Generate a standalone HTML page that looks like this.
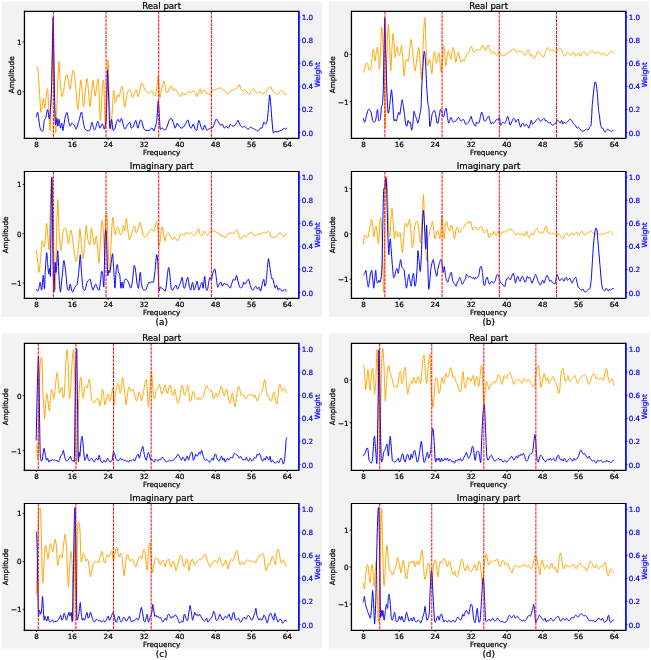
<!DOCTYPE html>
<html><head><meta charset="utf-8"><style>
html,body{margin:0;padding:0;background:#fff;}
svg{display:block;}
text{font-family:'DejaVu Sans', 'Liberation Sans', sans-serif;}
text{stroke:#000;stroke-width:0.22px;}
text.b{stroke:#0000ff;}
</style></head><body>
<svg width="651" height="660" viewBox="0 0 651 660" font-family="'DejaVu Sans', 'Liberation Sans', sans-serif">
<rect width="651" height="660" fill="#fff"/>
<g transform="translate(0,0)">
<rect x="1.5" y="1.5" width="320.40" height="315.40" fill="#f2f2f2"/>
<rect x="24.2" y="11.35" width="274.7" height="126.95000000000002" fill="#fff"/>
<clipPath id="clipa0"><rect x="24.2" y="11.35" width="274.7" height="126.95000000000002"/></clipPath>
<g clip-path="url(#clipa0)">
<path d="M36.18,66.72C36.4,66.9 37.4,66.1 37.8,68.7C38.1,71.3 39.0,83.7 39.3,88.8C39.7,93.9 40.5,111.3 40.9,112.4C41.4,113.5 42.8,98.7 43.3,98.2C43.7,97.8 44.3,109.6 44.8,108.5C45.3,107.4 47.0,86.2 47.6,88.8C48.2,91.3 49.5,130.5 50.0,130.5C50.4,130.5 51.2,99.2 51.5,88.8C51.9,78.4 52.6,39.2 52.9,41.5C53.3,43.8 54.1,97.9 54.5,108.5C54.8,119.0 55.4,137.5 55.9,132.1C56.4,126.7 58.1,67.7 58.6,62.2C59.2,56.7 60.0,80.8 60.4,84.8C60.8,88.9 61.4,95.7 61.8,96.7C62.1,97.6 62.9,94.8 63.4,92.7C63.8,90.6 64.9,81.0 65.3,78.9C65.7,76.8 66.5,74.4 66.9,74.6C67.3,74.8 68.1,79.2 68.5,80.9C68.8,82.6 69.5,90.4 70.0,89.2C70.6,88.0 72.3,72.4 72.8,70.7C73.3,68.9 74.0,71.4 74.4,74.0C74.8,76.6 75.7,88.6 76.2,92.7C76.6,96.8 77.4,110.9 77.9,109.5C78.5,108.0 80.2,81.9 80.7,79.9C81.2,78.0 81.9,89.6 82.3,92.7C82.6,95.9 83.1,108.5 83.6,106.9C84.2,105.2 86.4,79.7 87.0,78.5C87.6,77.3 88.6,93.3 89.0,96.7C89.3,100.0 89.7,108.8 90.1,106.9C90.6,105.0 92.4,82.6 92.9,80.5C93.3,78.4 93.8,86.9 94.1,88.8C94.4,90.6 94.8,97.4 95.3,96.2C95.7,95.1 97.4,80.7 97.8,79.3C98.2,78.0 98.5,80.1 98.8,84.8C99.1,89.6 99.9,120.6 100.4,120.3C100.8,120.0 102.3,86.6 102.7,82.5C103.2,78.3 103.6,79.5 103.9,84.8C104.2,90.2 105.0,131.0 105.5,128.2C106.0,125.3 107.4,64.8 107.9,60.2C108.3,55.6 108.7,80.6 109.0,88.8C109.4,96.9 110.3,127.4 110.6,130.1C111.0,132.9 111.8,117.0 112.2,112.4C112.5,107.8 113.2,91.5 113.6,90.3C113.9,89.2 115.0,101.5 115.3,102.6C115.7,103.6 116.3,100.5 116.5,99.6C116.8,98.7 117.4,95.0 117.7,94.7C118.0,94.3 118.8,97.6 119.3,96.7C119.7,95.7 121.0,87.7 121.5,86.8C121.9,85.9 122.5,86.4 122.8,88.8C123.2,91.2 124.1,107.0 124.6,107.5C125.1,107.9 126.7,94.8 127.4,92.7C128.0,90.6 129.3,89.2 129.9,89.8C130.5,90.3 131.8,97.1 132.3,97.6C132.7,98.2 133.4,95.6 133.9,94.7C134.3,93.8 135.7,89.5 136.2,89.8C136.7,90.0 137.6,97.4 138.2,96.7C138.8,95.9 140.7,84.4 141.3,83.3C142.0,82.1 143.1,85.8 143.7,86.8C144.3,87.8 145.7,91.0 146.5,91.7C147.2,92.4 149.3,92.8 149.9,92.7C150.6,92.6 151.5,90.5 151.9,90.7C152.3,91.0 153.1,94.1 153.5,94.7C153.9,95.3 155.1,96.6 155.4,95.7C155.8,94.7 156.5,89.1 156.8,86.8C157.2,84.5 157.9,75.3 158.2,76.0C158.5,76.7 159.2,90.2 159.4,92.7C159.6,95.2 159.9,98.2 160.2,97.6C160.5,97.1 161.3,89.7 161.8,87.8C162.2,85.8 163.7,80.5 164.1,80.9C164.6,81.2 165.3,89.4 165.7,90.7C166.1,92.1 166.9,92.9 167.3,92.7C167.7,92.5 168.8,89.6 169.2,88.8C169.7,88.0 170.8,85.6 171.2,85.8C171.7,86.0 172.7,90.4 173.2,90.7C173.6,91.1 174.7,88.7 175.2,88.8C175.6,88.9 176.7,91.2 177.1,91.7C177.5,92.3 178.3,93.1 178.7,93.7C179.1,94.3 180.2,96.8 180.7,96.7C181.1,96.5 182.1,92.9 182.4,92.7C182.8,92.5 183.4,94.6 183.8,94.7C184.3,94.8 185.8,94.0 186.4,93.7C187.0,93.3 188.4,91.8 188.9,91.7C189.5,91.6 190.4,92.8 190.9,92.7C191.4,92.6 192.8,90.7 193.3,90.7C193.8,90.7 194.8,92.0 195.2,92.7C195.6,93.4 196.4,96.7 196.8,96.7C197.2,96.7 198.0,93.6 198.4,92.7C198.8,91.8 199.8,88.7 200.2,88.8C200.5,88.9 201.2,93.5 201.5,93.7C201.9,93.9 202.8,91.2 203.1,90.7C203.4,90.3 203.9,89.5 204.3,89.8C204.6,90.0 205.6,92.3 206.1,92.7C206.5,93.2 207.7,93.5 208.2,93.7C208.8,93.9 210.5,95.1 211.0,94.7C211.5,94.2 212.1,90.3 212.6,89.8C213.0,89.2 214.4,89.9 214.9,89.8C215.5,89.6 216.6,89.0 217.3,88.8C217.9,88.5 219.8,87.7 220.4,87.8C221.1,87.9 222.3,89.4 222.8,89.8C223.3,90.1 224.3,90.3 224.8,90.7C225.2,91.2 226.3,93.5 226.7,93.7C227.2,93.9 228.2,93.1 228.7,92.7C229.2,92.4 230.5,91.1 231.1,90.7C231.6,90.4 233.1,90.0 233.6,89.8C234.2,89.5 235.1,89.0 235.6,88.8C236.1,88.5 237.1,88.3 237.6,87.8C238.0,87.3 238.9,84.3 239.3,84.4C239.7,84.6 240.5,88.0 240.9,88.8C241.3,89.5 242.4,90.6 242.9,90.7C243.3,90.9 244.3,89.5 244.9,89.8C245.4,90.0 246.9,92.1 247.4,92.7C247.9,93.3 248.9,94.9 249.4,94.7C249.8,94.5 250.9,91.4 251.4,90.7C251.8,90.1 252.9,88.7 253.3,88.8C253.8,88.9 254.8,91.2 255.3,91.7C255.7,92.2 256.7,93.1 257.3,93.1C257.8,93.1 259.2,91.7 259.8,91.7C260.4,91.8 261.7,93.6 262.2,93.7C262.7,93.8 263.7,92.9 264.2,92.7C264.6,92.5 265.7,92.2 266.1,91.7C266.6,91.3 267.6,89.4 268.1,88.8C268.6,88.1 270.0,86.3 270.5,86.4C270.9,86.5 271.7,89.1 272.1,89.8C272.5,90.4 273.4,91.3 273.9,91.7C274.3,92.2 275.4,93.4 275.9,93.7C276.3,94.1 277.4,94.8 277.8,94.7C278.2,94.6 279.0,93.2 279.4,92.7C279.8,92.2 280.9,90.5 281.4,90.4C281.8,90.2 282.5,91.2 282.9,91.7C283.4,92.2 284.5,94.5 284.9,94.7C285.3,94.9 286.3,93.3 286.5,93.1" fill="none" stroke="#ffa500" stroke-width="1.0" stroke-linejoin="round"/>
<path d="M36.18,117.33C36.4,116.8 37.3,111.4 37.8,112.4C38.2,113.4 39.3,124.1 39.7,126.2C40.1,128.3 40.7,130.0 41.1,130.5C41.5,131.0 42.7,131.7 43.1,130.5C43.4,129.3 44.0,121.7 44.2,120.3C44.5,118.9 45.2,119.6 45.6,118.3C46.0,117.0 47.1,109.4 47.6,109.5C48.1,109.5 49.1,121.1 49.6,118.7C50.0,116.3 51.1,100.6 51.5,88.8C52.0,76.9 52.8,16.4 53.1,16.9C53.5,17.3 54.2,80.2 54.5,92.7C54.8,105.2 55.2,121.2 55.5,124.2C55.8,127.2 56.8,118.1 57.0,118.3C57.3,118.5 57.6,126.1 57.8,126.2C58.1,126.3 58.7,119.1 59.0,119.3C59.3,119.5 60.1,127.7 60.4,128.2C60.7,128.6 61.5,123.0 61.8,123.2C62.1,123.5 62.6,131.1 63.0,130.5C63.3,129.9 64.5,120.4 64.9,118.3C65.4,116.2 66.4,111.9 66.9,112.4C67.4,112.9 68.5,120.6 68.9,122.2C69.3,123.9 69.9,126.1 70.2,126.2C70.6,126.3 71.2,123.5 71.6,123.2C72.0,123.0 73.2,123.9 73.6,124.2C74.0,124.6 74.5,125.6 74.8,126.2C75.1,126.8 75.7,129.8 76.2,129.1C76.7,128.5 78.5,122.3 79.1,120.3C79.7,118.3 81.0,112.0 81.5,112.0C81.9,112.0 82.7,118.4 83.0,120.3C83.4,122.2 84.2,127.0 84.6,128.2C85.1,129.4 86.4,130.3 87.0,130.5C87.6,130.7 89.4,131.1 89.9,130.1C90.5,129.2 91.5,122.4 91.9,122.2C92.4,122.1 93.5,128.3 93.9,129.1C94.3,129.9 94.8,130.1 95.3,129.1C95.7,128.2 97.3,121.4 97.8,121.3C98.3,121.1 99.3,127.9 99.8,128.2C100.3,128.5 101.8,123.7 102.3,123.8C102.9,123.9 103.9,129.9 104.3,129.1C104.8,128.4 105.9,124.2 106.3,117.3C106.7,110.4 107.2,72.2 107.5,70.1C107.7,67.9 108.4,91.8 108.7,98.6C108.9,105.4 109.5,125.7 109.8,128.2C110.2,130.6 111.2,119.1 111.6,119.3C112.0,119.5 112.6,129.1 113.0,130.1C113.4,131.2 114.5,129.1 115.0,128.2C115.4,127.2 116.2,123.3 116.5,122.2C116.9,121.2 117.7,119.3 118.1,119.3C118.5,119.3 119.3,122.4 119.7,122.2C120.1,122.1 121.0,118.0 121.5,118.3C121.9,118.7 123.0,123.9 123.4,125.2C123.8,126.5 124.3,129.1 124.8,129.1C125.3,129.1 126.8,126.0 127.4,125.2C128.0,124.4 129.5,121.9 129.9,122.2C130.4,122.6 130.9,127.7 131.3,128.2C131.7,128.6 132.7,127.1 133.3,126.2C133.8,125.3 135.3,120.1 135.8,120.3C136.3,120.5 137.3,128.2 137.8,128.2C138.3,128.2 139.7,121.1 140.2,120.3C140.6,119.5 141.3,120.3 141.7,121.3C142.1,122.2 143.2,127.1 143.7,128.2C144.2,129.2 145.3,130.3 146.1,130.5C146.8,130.7 149.3,130.5 149.9,130.1C150.6,129.8 151.5,127.6 151.9,127.8C152.4,127.9 153.5,131.3 153.9,131.1C154.3,130.9 155.1,127.5 155.4,126.2C155.8,124.9 156.5,123.2 156.8,120.3C157.2,117.3 157.9,101.4 158.2,101.0C158.5,100.5 159.2,113.1 159.4,116.3C159.6,119.6 159.9,127.8 160.2,129.1C160.5,130.5 161.3,127.8 161.8,127.8C162.2,127.8 163.3,128.9 163.7,129.1C164.1,129.4 164.9,130.5 165.3,130.1C165.7,129.8 166.8,127.3 167.3,126.2C167.7,125.0 168.8,121.2 169.2,120.3C169.7,119.4 170.8,118.1 171.2,118.3C171.7,118.5 172.7,121.1 173.2,122.2C173.6,123.4 174.7,128.0 175.2,128.2C175.6,128.3 176.7,123.5 177.1,123.2C177.6,123.0 178.6,125.6 179.1,126.2C179.5,126.8 180.5,128.0 181.1,128.2C181.6,128.3 182.9,127.6 183.4,127.2C183.9,126.7 184.9,125.1 185.4,124.2C185.9,123.4 187.2,119.7 187.8,119.9C188.3,120.1 189.3,125.2 189.7,126.2C190.1,127.2 190.9,128.4 191.3,128.2C191.7,127.9 192.8,124.1 193.3,124.2C193.7,124.3 194.8,128.5 195.2,129.1C195.6,129.8 196.4,131.2 196.8,130.1C197.2,129.1 198.3,120.7 198.8,120.3C199.2,119.8 200.3,125.0 200.8,126.2C201.2,127.3 202.3,130.2 202.7,130.1C203.2,130.0 204.2,125.2 204.7,125.2C205.1,125.2 206.2,129.7 206.7,130.1C207.1,130.6 208.2,129.4 208.6,129.1C209.1,128.9 210.1,128.4 210.6,128.2C211.1,127.9 212.5,127.9 213.0,127.2C213.5,126.5 214.5,123.2 214.9,122.2C215.3,121.3 216.1,118.9 216.5,118.9C216.9,118.9 218.0,121.5 218.5,122.2C218.9,123.0 220.0,125.0 220.4,125.2C220.9,125.4 222.0,123.9 222.4,124.2C222.9,124.6 223.9,127.9 224.4,128.2C224.8,128.4 225.9,126.2 226.3,126.2C226.8,126.2 227.9,128.4 228.3,128.2C228.8,127.9 229.8,124.4 230.3,124.2C230.8,124.0 232.1,126.1 232.7,126.2C233.2,126.3 234.5,125.7 235.0,125.2C235.5,124.7 236.6,122.8 237.0,122.2C237.3,121.7 237.8,119.9 238.2,120.3C238.5,120.6 239.6,124.4 240.1,125.2C240.6,126.0 242.0,127.1 242.5,127.2C243.0,127.3 244.0,126.1 244.5,126.2C244.9,126.3 246.0,127.8 246.4,128.2C246.9,128.5 247.9,129.3 248.4,129.1C248.9,129.0 249.9,127.3 250.4,127.2C250.8,127.1 251.9,127.9 252.3,128.2C252.8,128.4 253.9,128.9 254.3,129.1C254.8,129.4 255.8,129.9 256.3,130.1C256.7,130.4 257.8,131.3 258.2,131.1C258.7,130.9 259.8,128.6 260.2,128.2C260.7,127.8 261.8,128.4 262.2,127.8C262.6,127.1 263.3,122.7 263.8,122.2C264.2,121.8 265.3,124.3 265.7,124.2C266.1,124.1 266.8,122.6 267.1,121.3C267.4,119.9 267.8,115.5 268.1,112.4C268.4,109.3 269.3,95.5 269.7,95.1C270.0,94.6 270.7,104.1 271.1,108.5C271.4,112.8 272.6,129.5 273.1,132.1C273.6,134.8 274.6,131.1 275.1,131.1C275.5,131.1 276.6,132.1 277.0,132.1C277.5,132.1 278.5,131.3 279.0,131.1C279.5,130.9 280.5,130.7 281.0,130.5C281.4,130.3 282.5,129.6 282.9,129.4C283.3,129.1 284.0,128.2 284.3,128.2C284.6,128.2 285.4,129.2 285.7,129.2C286.0,129.1 286.7,127.9 286.9,127.8" fill="none" stroke="#0000ff" stroke-width="1.0" stroke-linejoin="round"/>
<line x1="53.34" y1="11.35" x2="53.34" y2="138.3" stroke="#ff0000" stroke-width="1.0" stroke-dasharray="3,0.95"/>
<line x1="106.02" y1="11.35" x2="106.02" y2="138.3" stroke="#ff0000" stroke-width="1.0" stroke-dasharray="3,0.95"/>
<line x1="158.70" y1="11.35" x2="158.70" y2="138.3" stroke="#ff0000" stroke-width="1.0" stroke-dasharray="3,0.95"/>
<line x1="211.38" y1="11.35" x2="211.38" y2="138.3" stroke="#ff0000" stroke-width="1.0" stroke-dasharray="3,0.95"/>
</g>
<line x1="298.9" y1="11.35" x2="24.0" y2="11.35" stroke="#000" stroke-width="1.1"/>
<line x1="24.45" y1="10.799999999999999" x2="24.45" y2="139.10000000000002" stroke="#000" stroke-width="1.3"/>
<line x1="23.8" y1="138.45000000000002" x2="298.9" y2="138.45000000000002" stroke="#000" stroke-width="1.3"/>
<line x1="298.9" y1="10.85" x2="298.9" y2="138.8" stroke="#0000ff" stroke-width="1.7"/>
<line x1="36.50" y1="138.3" x2="36.50" y2="140.0" stroke="#000" stroke-width="0.8"/>
<text x="36.50" y="146.80" font-size="7.2" text-anchor="middle">8</text>
<line x1="72.34" y1="138.3" x2="72.34" y2="140.0" stroke="#000" stroke-width="0.8"/>
<text x="72.34" y="146.80" font-size="7.2" text-anchor="middle">16</text>
<line x1="108.17" y1="138.3" x2="108.17" y2="140.0" stroke="#000" stroke-width="0.8"/>
<text x="108.17" y="146.80" font-size="7.2" text-anchor="middle">24</text>
<line x1="144.01" y1="138.3" x2="144.01" y2="140.0" stroke="#000" stroke-width="0.8"/>
<text x="144.01" y="146.80" font-size="7.2" text-anchor="middle">32</text>
<line x1="179.84" y1="138.3" x2="179.84" y2="140.0" stroke="#000" stroke-width="0.8"/>
<text x="179.84" y="146.80" font-size="7.2" text-anchor="middle">40</text>
<line x1="215.68" y1="138.3" x2="215.68" y2="140.0" stroke="#000" stroke-width="0.8"/>
<text x="215.68" y="146.80" font-size="7.2" text-anchor="middle">48</text>
<line x1="251.51" y1="138.3" x2="251.51" y2="140.0" stroke="#000" stroke-width="0.8"/>
<text x="251.51" y="146.80" font-size="7.2" text-anchor="middle">56</text>
<line x1="287.35" y1="138.3" x2="287.35" y2="140.0" stroke="#000" stroke-width="0.8"/>
<text x="287.35" y="146.80" font-size="7.2" text-anchor="middle">64</text>
<text x="161.6" y="154.80" font-size="7.2" text-anchor="middle">Frequency</text>
<text x="161.6" y="8.65" font-size="8.6" text-anchor="middle">Real part</text>
<line x1="22.599999999999998" y1="41.90" x2="24.2" y2="41.90" stroke="#000" stroke-width="0.8"/>
<text x="21.599999999999998" y="44.80" font-size="7.2" text-anchor="end">1</text>
<line x1="22.599999999999998" y1="91.70" x2="24.2" y2="91.70" stroke="#000" stroke-width="0.8"/>
<text x="21.599999999999998" y="94.60" font-size="7.2" text-anchor="end">0</text>
<text transform="translate(14.2,74.83) rotate(-90)" font-size="7.2" text-anchor="middle">Amplitude</text>
<line x1="298.9" y1="132.53" x2="300.5" y2="132.53" stroke="#0000ff" stroke-width="0.8"/>
<text x="301.7" y="135.53" font-size="7.2" fill="#0000ff" class="b">0.0</text>
<line x1="298.9" y1="109.45" x2="300.5" y2="109.45" stroke="#0000ff" stroke-width="0.8"/>
<text x="301.7" y="112.45" font-size="7.2" fill="#0000ff" class="b">0.2</text>
<line x1="298.9" y1="86.37" x2="300.5" y2="86.37" stroke="#0000ff" stroke-width="0.8"/>
<text x="301.7" y="89.37" font-size="7.2" fill="#0000ff" class="b">0.4</text>
<line x1="298.9" y1="63.28" x2="300.5" y2="63.28" stroke="#0000ff" stroke-width="0.8"/>
<text x="301.7" y="66.28" font-size="7.2" fill="#0000ff" class="b">0.6</text>
<line x1="298.9" y1="40.20" x2="300.5" y2="40.20" stroke="#0000ff" stroke-width="0.8"/>
<text x="301.7" y="43.20" font-size="7.2" fill="#0000ff" class="b">0.8</text>
<line x1="298.9" y1="17.12" x2="300.5" y2="17.12" stroke="#0000ff" stroke-width="0.8"/>
<text x="301.7" y="20.12" font-size="7.2" fill="#0000ff" class="b">1.0</text>
<text transform="translate(319.9,74.83) rotate(-90)" font-size="7.2" text-anchor="middle" fill="#0000ff" class="b">Weight</text>
<rect x="24.2" y="171.5" width="274.7" height="126.80000000000001" fill="#fff"/>
<clipPath id="clipa1"><rect x="24.2" y="171.5" width="274.7" height="126.80000000000001"/></clipPath>
<g clip-path="url(#clipa1)">
<path d="M36.18,249.76C36.4,251.3 37.4,259.9 37.8,262.6C38.1,265.2 38.8,273.1 39.1,272.4C39.5,271.7 40.4,260.3 40.7,256.6C41.1,253.0 41.7,242.0 42.1,240.9C42.4,239.7 43.3,246.3 43.7,246.8C44.0,247.3 44.5,247.6 44.8,244.8C45.2,242.1 46.3,223.9 46.6,223.2C47.0,222.5 47.7,235.9 48.0,238.9C48.3,241.9 48.9,253.4 49.2,248.8C49.5,244.2 50.3,207.8 50.5,199.5C50.8,191.3 51.3,179.0 51.5,177.9C51.8,176.7 52.3,183.7 52.5,189.7C52.7,195.7 53.3,218.5 53.5,229.1C53.7,239.6 54.3,273.4 54.5,280.3C54.7,287.2 55.2,294.1 55.5,288.2C55.7,282.2 56.4,239.4 56.7,229.1C56.9,218.7 57.6,199.5 57.8,199.5C58.1,199.5 58.7,223.3 59.0,229.1C59.3,234.8 60.1,246.5 60.4,248.8C60.7,251.1 61.1,250.8 61.4,248.8C61.7,246.7 62.5,233.5 63.0,231.1C63.4,228.6 64.5,228.1 64.9,228.1C65.3,228.1 66.1,229.2 66.5,231.1C66.9,232.9 68.1,243.2 68.5,243.8C68.8,244.5 69.3,238.6 69.7,237.0C70.0,235.4 70.9,229.6 71.2,230.1C71.6,230.5 72.4,238.2 72.8,240.9C73.2,243.5 74.0,250.3 74.4,252.7C74.8,255.1 75.7,261.6 76.2,261.6C76.6,261.6 77.5,256.5 77.9,252.7C78.4,248.9 79.5,229.4 79.9,228.7C80.3,228.0 81.1,243.3 81.5,246.8C81.8,250.3 82.6,259.5 83.0,258.6C83.5,257.7 84.7,242.8 85.0,238.9C85.4,235.1 85.9,225.5 86.2,225.5C86.5,225.5 87.3,236.7 87.8,238.9C88.2,241.2 89.5,246.1 89.9,244.8C90.4,243.6 91.0,229.0 91.3,228.1C91.7,227.2 92.5,235.0 92.9,237.0C93.3,238.9 94.1,244.9 94.5,244.8C94.9,244.7 96.0,235.1 96.4,236.0C96.9,236.9 97.7,249.6 98.0,252.7C98.3,255.8 98.9,263.9 99.2,262.6C99.5,261.2 100.1,245.8 100.4,240.9C100.7,236.0 101.4,222.2 101.8,220.8C102.1,219.4 102.8,225.1 103.1,229.1C103.5,233.0 104.4,256.1 104.7,254.7C105.0,253.3 105.6,221.9 105.9,217.3C106.2,212.7 106.8,211.6 107.1,215.3C107.3,219.0 108.0,242.1 108.2,248.8C108.5,255.4 109.3,272.9 109.6,272.4C110.0,271.9 110.7,251.3 111.0,244.8C111.4,238.4 112.2,219.1 112.6,217.3C113.0,215.4 113.8,227.0 114.2,229.1C114.5,231.1 115.1,235.1 115.3,235.0C115.6,234.9 116.2,229.0 116.5,228.1C116.9,227.2 117.8,226.8 118.1,227.1C118.4,227.5 119.0,230.1 119.3,231.1C119.6,232.0 120.1,234.8 120.5,235.0C120.8,235.2 121.7,234.2 122.0,233.0C122.4,231.9 123.1,225.4 123.4,225.1C123.7,224.9 124.5,231.9 124.8,231.1C125.1,230.2 126.0,218.2 126.4,218.2C126.7,218.2 127.6,228.5 128.0,231.1C128.3,233.6 128.9,239.5 129.3,239.9C129.7,240.4 130.8,236.4 131.3,235.0C131.7,233.6 132.9,229.1 133.3,228.1C133.7,227.1 134.3,225.5 134.6,226.1C135.0,226.7 135.8,232.7 136.2,233.0C136.6,233.4 137.7,230.3 138.2,229.1C138.6,227.8 139.7,222.3 140.2,222.2C140.6,222.1 141.4,226.6 141.7,228.1C142.1,229.6 142.7,234.0 143.1,235.0C143.5,236.0 144.6,237.0 145.1,237.0C145.5,237.0 146.6,235.6 147.1,235.0C147.5,234.4 148.7,232.7 149.2,232.0C149.6,231.3 150.4,229.3 150.7,229.1C151.1,228.9 151.9,229.8 152.3,230.1C152.7,230.3 153.6,231.4 153.9,231.1C154.2,230.7 154.7,228.2 155.1,227.1C155.4,226.0 156.3,221.4 156.6,221.6C157.0,221.8 157.5,226.3 157.8,229.1C158.1,231.9 158.7,244.4 159.0,245.8C159.3,247.2 159.9,242.8 160.2,240.9C160.5,238.9 161.1,230.7 161.4,229.1C161.6,227.5 162.3,226.4 162.5,227.1C162.8,227.8 163.4,233.4 163.7,235.0C164.0,236.6 164.6,240.9 164.9,240.9C165.2,240.9 166.1,235.9 166.5,235.0C166.8,234.1 167.7,233.0 168.1,233.0C168.4,233.0 169.3,234.4 169.6,235.0C170.0,235.6 170.8,237.4 171.2,237.9C171.6,238.5 172.4,240.0 172.8,239.9C173.1,239.8 174.0,237.1 174.4,237.0C174.7,236.8 175.6,238.5 175.9,238.9C176.3,239.4 177.1,241.0 177.5,240.9C177.9,240.8 178.7,238.7 179.1,237.9C179.4,237.1 180.3,234.3 180.7,234.0C181.1,233.7 182.0,234.9 182.4,235.0C182.8,235.1 183.8,235.2 184.2,235.0C184.6,234.8 185.4,233.2 185.8,233.0C186.1,232.8 187.0,232.9 187.3,233.0C187.7,233.1 188.6,234.0 188.9,234.0C189.3,234.0 190.1,232.6 190.5,232.6C190.9,232.6 191.8,233.6 192.3,234.0C192.7,234.4 193.8,236.0 194.2,236.0C194.7,236.0 195.8,234.7 196.2,234.0C196.6,233.3 197.3,230.7 197.6,230.1C197.9,229.4 198.5,228.2 198.8,228.7C199.1,229.1 199.6,233.1 200.0,234.0C200.3,234.9 201.2,236.1 201.5,236.0C201.9,235.9 202.8,233.6 203.1,233.0C203.4,232.4 204.0,231.1 204.3,231.1C204.6,231.0 205.1,232.1 205.5,232.6C205.8,233.1 206.6,235.3 207.1,235.4C207.5,235.4 208.6,233.6 209.0,233.0C209.5,232.4 210.6,230.4 211.0,230.1C211.4,229.7 212.2,229.9 212.6,230.1C212.9,230.2 213.7,230.8 214.1,231.1C214.6,231.3 215.7,231.8 216.1,232.0C216.6,232.3 217.6,232.7 218.1,233.0C218.5,233.4 219.6,234.6 220.0,235.0C220.5,235.3 221.6,235.9 222.0,236.0C222.5,236.1 223.6,235.7 224.0,236.0C224.4,236.2 225.2,238.1 225.6,237.9C225.9,237.8 226.8,235.5 227.1,235.0C227.5,234.5 228.3,233.6 228.7,233.4C229.1,233.2 230.2,233.0 230.7,233.0C231.1,233.0 232.2,233.4 232.7,233.4C233.1,233.4 233.9,233.3 234.2,233.0C234.6,232.7 235.3,231.4 235.6,231.1C235.9,230.7 236.7,229.8 237.0,230.1C237.3,230.3 237.8,232.1 238.2,233.0C238.5,233.9 239.4,237.3 239.7,237.9C240.1,238.6 241.0,239.1 241.3,238.9C241.6,238.7 242.2,236.4 242.5,236.0C242.8,235.5 243.7,234.9 244.1,235.0C244.5,235.1 245.6,237.1 246.0,237.0C246.5,236.8 247.6,234.5 248.0,234.0C248.5,233.5 249.6,233.2 250.0,233.0C250.4,232.8 251.2,231.8 251.6,232.0C251.9,232.3 253.0,234.5 253.3,235.0C253.7,235.4 254.4,236.0 254.7,236.0C255.0,236.0 255.9,235.2 256.3,235.0C256.7,234.8 257.8,234.1 258.2,234.0C258.7,233.9 259.8,234.1 260.2,234.0C260.7,233.9 261.7,233.6 262.2,233.4C262.6,233.2 263.7,232.1 264.2,232.0C264.6,232.0 265.7,233.1 266.1,233.0C266.6,232.9 267.7,231.1 268.1,231.1C268.5,231.1 269.3,232.3 269.7,233.0C270.0,233.7 270.6,236.5 271.1,237.0C271.5,237.5 273.0,237.4 273.5,237.4C273.9,237.4 274.7,237.1 275.1,237.0C275.4,236.9 276.2,236.9 276.6,236.6C277.0,236.2 278.0,234.5 278.4,234.0C278.8,233.6 279.6,232.6 280.0,232.6C280.3,232.6 281.0,233.6 281.4,234.0C281.7,234.5 282.6,236.3 282.9,236.6C283.3,236.8 284.0,236.3 284.3,236.0C284.6,235.7 285.4,234.4 285.7,234.0C286.0,233.7 286.7,233.1 286.9,233.0" fill="none" stroke="#ffa500" stroke-width="1.0" stroke-linejoin="round"/>
<path d="M36.18,289.14C36.4,289.4 37.5,291.1 37.8,291.1C38.0,291.1 38.5,290.2 38.7,289.1C39.0,288.1 39.8,282.1 40.1,282.2C40.5,282.4 41.3,290.9 41.7,290.1C42.1,289.3 42.9,275.5 43.3,275.4C43.6,275.2 44.2,289.5 44.5,289.1C44.7,288.8 45.0,276.7 45.2,272.4C45.5,268.1 46.3,253.9 46.6,252.7C46.9,251.6 47.4,260.1 47.6,262.6C47.8,265.0 48.4,273.3 48.6,274.0C48.8,274.7 49.3,268.4 49.6,268.5C49.8,268.5 50.4,281.3 50.5,274.4C50.7,267.5 51.0,220.6 51.1,209.4C51.3,198.1 51.7,172.8 51.9,177.9C52.1,182.9 52.7,239.4 52.9,252.7C53.1,266.0 53.6,291.0 53.9,292.1C54.2,293.2 54.9,264.9 55.1,262.6C55.3,260.3 55.7,271.9 55.9,272.4C56.1,272.9 56.4,269.0 56.7,266.5C56.9,264.0 57.6,249.6 57.8,250.7C58.1,251.9 58.7,271.5 59.0,276.3C59.3,281.2 60.1,291.2 60.4,292.1C60.7,293.0 61.1,286.5 61.4,284.2C61.6,281.9 62.3,275.2 62.6,272.4C62.8,269.6 63.4,261.0 63.8,260.6C64.1,260.1 64.9,265.2 65.3,268.5C65.7,271.7 66.9,285.6 67.3,288.2C67.7,290.7 68.5,290.6 68.9,290.1C69.2,289.7 69.9,284.2 70.2,284.2C70.6,284.2 71.3,289.2 71.6,290.1C71.9,291.0 72.5,292.3 72.8,292.1C73.1,291.9 74.1,288.8 74.4,288.2C74.7,287.5 75.2,286.6 75.6,286.2C75.9,285.7 76.8,285.8 77.1,284.2C77.5,282.6 78.4,275.8 78.7,272.4C79.1,269.0 80.0,254.7 80.3,254.7C80.6,254.7 81.1,268.5 81.5,272.4C81.8,276.3 82.6,286.1 83.0,288.2C83.5,290.2 84.6,290.8 85.0,290.1C85.5,289.4 86.6,283.4 87.0,282.2C87.4,281.1 88.2,280.6 88.6,280.3C88.9,279.9 89.8,278.8 90.1,279.3C90.5,279.7 91.0,283.0 91.3,284.2C91.6,285.5 92.5,289.9 92.9,290.1C93.3,290.4 94.1,286.9 94.5,286.2C94.8,285.5 95.5,283.9 95.8,284.2C96.2,284.6 97.4,288.5 97.8,289.1C98.2,289.8 98.9,290.9 99.2,290.1C99.5,289.3 100.1,284.4 100.4,282.2C100.7,280.1 101.3,272.3 101.6,271.4C101.8,270.5 102.5,272.6 102.7,274.4C103.0,276.1 103.6,290.8 103.9,286.2C104.2,281.6 104.8,241.2 105.1,235.0C105.4,228.8 106.0,228.4 106.3,233.0C106.6,237.6 107.4,270.0 107.7,274.4C107.9,278.7 108.4,270.7 108.7,270.4C108.9,270.2 109.6,273.1 109.8,272.4C110.1,271.7 110.7,266.7 111.0,264.5C111.3,262.3 112.3,253.0 112.6,253.7C112.9,254.4 113.5,266.4 113.8,270.4C114.0,274.5 114.7,288.2 115.0,288.2C115.2,288.2 115.9,273.2 116.1,270.4C116.4,267.7 117.0,264.3 117.3,264.5C117.6,264.8 118.2,271.3 118.5,272.4C118.8,273.5 119.4,272.5 119.7,274.4C120.0,276.2 120.6,287.2 120.9,288.2C121.1,289.1 121.8,282.2 122.0,282.2C122.3,282.2 122.9,288.4 123.2,288.2C123.5,287.9 124.1,281.3 124.4,280.3C124.7,279.2 125.6,279.3 126.0,279.3C126.3,279.3 127.2,279.7 127.5,280.3C127.9,280.9 128.8,283.3 129.1,284.2C129.5,285.1 130.3,288.4 130.7,288.2C131.1,287.9 131.9,284.9 132.3,282.2C132.7,279.6 133.8,266.7 134.2,265.5C134.7,264.4 135.5,270.3 135.8,272.4C136.1,274.5 136.7,281.4 137.0,283.2C137.3,285.1 138.2,289.4 138.6,288.2C138.9,286.9 139.8,273.1 140.2,272.4C140.5,271.7 141.1,280.4 141.3,282.2C141.6,284.1 142.2,287.2 142.5,288.2C142.8,289.1 143.7,290.0 144.1,290.1C144.5,290.2 145.5,290.1 146.1,289.1C146.6,288.2 148.3,282.9 148.8,282.2C149.3,281.6 150.0,283.3 150.3,283.2C150.7,283.1 151.5,281.4 151.9,281.3C152.3,281.1 153.1,283.5 153.5,282.2C153.8,281.0 154.7,273.6 155.1,270.4C155.4,267.2 156.3,255.6 156.6,254.7C157.0,253.8 157.5,258.4 157.8,262.6C158.1,266.7 158.7,287.3 159.0,290.1C159.3,293.0 159.9,287.4 160.2,287.2C160.5,286.9 161.4,287.9 161.8,288.2C162.1,288.4 162.9,288.8 163.3,289.1C163.7,289.5 164.9,291.7 165.3,291.1C165.7,290.5 166.2,286.4 166.5,284.2C166.8,282.0 167.4,274.4 167.7,272.4C167.9,270.4 168.6,267.0 168.8,267.5C169.1,267.9 169.8,273.9 170.0,276.3C170.3,278.8 170.9,286.6 171.2,288.2C171.5,289.8 172.4,290.2 172.8,290.1C173.1,290.0 174.0,287.7 174.4,287.2C174.7,286.6 175.6,285.0 175.9,285.2C176.3,285.4 177.1,289.0 177.5,289.1C177.9,289.3 178.7,287.0 179.1,286.2C179.4,285.4 180.3,283.3 180.7,282.2C181.0,281.2 181.9,276.9 182.2,277.3C182.6,277.8 183.1,284.9 183.4,286.2C183.7,287.5 184.3,288.6 184.6,288.2C184.9,287.7 185.8,283.5 186.2,282.2C186.5,281.0 187.4,276.9 187.8,277.3C188.1,277.8 189.0,284.7 189.3,286.2C189.7,287.7 190.5,290.6 190.9,290.1C191.3,289.7 192.1,282.2 192.5,282.2C192.8,282.2 193.7,289.7 194.1,290.1C194.4,290.6 195.3,287.2 195.6,286.2C196.0,285.2 196.8,280.8 197.2,281.3C197.6,281.7 198.4,289.6 198.8,290.1C199.1,290.7 200.0,287.1 200.3,286.2C200.7,285.3 201.6,282.0 201.9,282.2C202.3,282.5 202.8,288.8 203.1,288.2C203.4,287.5 204.4,276.3 204.7,276.3C205.0,276.3 205.5,286.6 205.9,288.2C206.2,289.8 207.1,291.0 207.4,290.1C207.8,289.2 208.7,281.8 209.0,280.3C209.3,278.8 209.9,277.3 210.2,277.3C210.5,277.3 211.1,280.9 211.4,280.3C211.7,279.7 212.5,273.7 213.0,272.4C213.4,271.1 214.6,268.4 214.9,268.9C215.3,269.3 215.8,274.2 216.1,276.3C216.4,278.5 217.3,286.3 217.7,287.2C218.0,288.1 218.9,284.8 219.3,284.2C219.6,283.6 220.5,281.6 220.8,281.9C221.2,282.1 222.0,286.0 222.4,286.2C222.8,286.3 223.6,283.5 224.0,283.2C224.3,283.0 225.2,284.1 225.6,284.2C225.9,284.3 226.8,284.0 227.1,284.2C227.5,284.4 228.3,285.7 228.7,286.2C229.1,286.6 229.9,288.5 230.3,288.2C230.7,287.8 231.5,284.3 231.9,283.2C232.2,282.2 233.1,279.6 233.4,279.3C233.8,278.9 234.6,280.7 235.0,280.3C235.4,279.8 236.3,275.4 236.6,275.4C236.9,275.4 237.4,279.0 237.8,280.3C238.1,281.5 239.0,285.3 239.3,286.2C239.7,287.1 240.6,288.2 240.9,288.2C241.3,288.2 242.2,286.9 242.5,286.2C242.8,285.5 243.4,282.5 243.7,282.2C244.0,282.0 244.9,284.3 245.2,284.2C245.6,284.1 246.5,281.8 246.8,281.3C247.2,280.7 248.0,278.9 248.4,279.3C248.8,279.6 249.6,283.1 250.0,284.2C250.3,285.4 251.2,288.5 251.6,289.1C251.9,289.8 252.8,290.2 253.1,290.1C253.5,290.0 254.0,288.6 254.3,288.2C254.6,287.7 255.5,286.1 255.9,286.2C256.3,286.3 257.1,289.0 257.5,289.1C257.8,289.3 258.7,286.9 259.0,287.2C259.4,287.4 260.2,291.5 260.6,291.1C261.0,290.8 261.8,285.6 262.2,284.2C262.6,282.8 263.4,279.1 263.8,279.3C264.1,279.5 264.7,285.8 264.9,286.2C265.2,286.5 265.9,284.3 266.1,282.2C266.4,280.2 267.0,271.2 267.3,268.5C267.6,265.7 268.2,258.6 268.5,258.6C268.8,258.6 269.7,266.2 270.1,268.5C270.4,270.8 271.3,277.2 271.6,278.3C271.9,279.5 272.4,277.8 272.7,278.3C273.0,278.9 273.6,282.1 273.9,283.3C274.2,284.4 274.7,288.0 275.1,288.2C275.4,288.4 276.3,285.0 276.6,285.2C277.0,285.5 277.9,289.8 278.2,290.1C278.5,290.5 279.1,288.3 279.4,288.2C279.7,288.1 280.3,288.8 280.6,289.2C280.9,289.5 281.5,291.0 281.8,291.1C282.0,291.3 282.7,290.7 282.9,290.5C283.2,290.4 283.8,290.3 284.1,290.1C284.4,290.0 285.0,289.0 285.3,289.2C285.6,289.3 286.3,291.4 286.5,291.7" fill="none" stroke="#0000ff" stroke-width="1.0" stroke-linejoin="round"/>
<line x1="53.34" y1="171.5" x2="53.34" y2="298.3" stroke="#ff0000" stroke-width="1.0" stroke-dasharray="3,0.95"/>
<line x1="106.02" y1="171.5" x2="106.02" y2="298.3" stroke="#ff0000" stroke-width="1.0" stroke-dasharray="3,0.95"/>
<line x1="158.70" y1="171.5" x2="158.70" y2="298.3" stroke="#ff0000" stroke-width="1.0" stroke-dasharray="3,0.95"/>
<line x1="211.38" y1="171.5" x2="211.38" y2="298.3" stroke="#ff0000" stroke-width="1.0" stroke-dasharray="3,0.95"/>
</g>
<line x1="298.9" y1="171.5" x2="24.0" y2="171.5" stroke="#000" stroke-width="1.1"/>
<line x1="24.45" y1="170.95" x2="24.45" y2="299.1" stroke="#000" stroke-width="1.3"/>
<line x1="23.8" y1="298.45" x2="298.9" y2="298.45" stroke="#000" stroke-width="1.3"/>
<line x1="298.9" y1="171.0" x2="298.9" y2="298.8" stroke="#0000ff" stroke-width="1.7"/>
<line x1="36.50" y1="298.3" x2="36.50" y2="300.0" stroke="#000" stroke-width="0.8"/>
<text x="36.50" y="306.80" font-size="7.2" text-anchor="middle">8</text>
<line x1="72.34" y1="298.3" x2="72.34" y2="300.0" stroke="#000" stroke-width="0.8"/>
<text x="72.34" y="306.80" font-size="7.2" text-anchor="middle">16</text>
<line x1="108.17" y1="298.3" x2="108.17" y2="300.0" stroke="#000" stroke-width="0.8"/>
<text x="108.17" y="306.80" font-size="7.2" text-anchor="middle">24</text>
<line x1="144.01" y1="298.3" x2="144.01" y2="300.0" stroke="#000" stroke-width="0.8"/>
<text x="144.01" y="306.80" font-size="7.2" text-anchor="middle">32</text>
<line x1="179.84" y1="298.3" x2="179.84" y2="300.0" stroke="#000" stroke-width="0.8"/>
<text x="179.84" y="306.80" font-size="7.2" text-anchor="middle">40</text>
<line x1="215.68" y1="298.3" x2="215.68" y2="300.0" stroke="#000" stroke-width="0.8"/>
<text x="215.68" y="306.80" font-size="7.2" text-anchor="middle">48</text>
<line x1="251.51" y1="298.3" x2="251.51" y2="300.0" stroke="#000" stroke-width="0.8"/>
<text x="251.51" y="306.80" font-size="7.2" text-anchor="middle">56</text>
<line x1="287.35" y1="298.3" x2="287.35" y2="300.0" stroke="#000" stroke-width="0.8"/>
<text x="287.35" y="306.80" font-size="7.2" text-anchor="middle">64</text>
<text x="161.6" y="314.80" font-size="7.2" text-anchor="middle">Frequency</text>
<text x="161.6" y="168.80" font-size="8.6" text-anchor="middle">Imaginary part</text>
<line x1="22.599999999999998" y1="184.40" x2="24.2" y2="184.40" stroke="#000" stroke-width="0.8"/>
<text x="21.599999999999998" y="187.30" font-size="7.2" text-anchor="end">1</text>
<line x1="22.599999999999998" y1="233.60" x2="24.2" y2="233.60" stroke="#000" stroke-width="0.8"/>
<text x="21.599999999999998" y="236.50" font-size="7.2" text-anchor="end">0</text>
<line x1="22.599999999999998" y1="282.90" x2="24.2" y2="282.90" stroke="#000" stroke-width="0.8"/>
<text x="21.599999999999998" y="285.80" font-size="7.2" text-anchor="end">−1</text>
<text transform="translate(7.6,234.90) rotate(-90)" font-size="7.2" text-anchor="middle">Amplitude</text>
<line x1="298.9" y1="292.54" x2="300.5" y2="292.54" stroke="#0000ff" stroke-width="0.8"/>
<text x="301.7" y="295.54" font-size="7.2" fill="#0000ff" class="b">0.0</text>
<line x1="298.9" y1="269.48" x2="300.5" y2="269.48" stroke="#0000ff" stroke-width="0.8"/>
<text x="301.7" y="272.48" font-size="7.2" fill="#0000ff" class="b">0.2</text>
<line x1="298.9" y1="246.43" x2="300.5" y2="246.43" stroke="#0000ff" stroke-width="0.8"/>
<text x="301.7" y="249.43" font-size="7.2" fill="#0000ff" class="b">0.4</text>
<line x1="298.9" y1="223.37" x2="300.5" y2="223.37" stroke="#0000ff" stroke-width="0.8"/>
<text x="301.7" y="226.37" font-size="7.2" fill="#0000ff" class="b">0.6</text>
<line x1="298.9" y1="200.32" x2="300.5" y2="200.32" stroke="#0000ff" stroke-width="0.8"/>
<text x="301.7" y="203.32" font-size="7.2" fill="#0000ff" class="b">0.8</text>
<line x1="298.9" y1="177.26" x2="300.5" y2="177.26" stroke="#0000ff" stroke-width="0.8"/>
<text x="301.7" y="180.26" font-size="7.2" fill="#0000ff" class="b">1.0</text>
<text transform="translate(319.9,234.90) rotate(-90)" font-size="7.2" text-anchor="middle" fill="#0000ff" class="b">Weight</text>
</g>
<text x="161.7" y="324.6" font-size="8.9" text-anchor="middle">(a)</text>
<g transform="translate(327,0)">
<rect x="1.8000000000000114" y="1.5" width="320.30" height="315.40" fill="#f2f2f2"/>
<rect x="24.2" y="11.35" width="274.7" height="126.95000000000002" fill="#fff"/>
<clipPath id="clipb0"><rect x="24.2" y="11.35" width="274.7" height="126.95000000000002"/></clipPath>
<g clip-path="url(#clipb0)">
<path d="M36.18,72.62C36.4,72.2 37.4,70.2 37.8,69.1C38.1,68.0 39.0,63.7 39.3,63.2C39.7,62.6 40.4,63.4 40.7,64.2C41.0,65.0 41.7,69.5 42.1,70.1C42.4,70.6 43.3,70.6 43.7,69.1C44.0,67.6 45.0,59.6 45.2,57.3C45.5,55.0 45.8,49.7 46.0,49.4C46.3,49.0 47.0,52.9 47.2,54.3C47.5,55.7 47.9,61.8 48.2,61.2C48.5,60.6 49.3,51.0 49.6,49.4C49.8,47.8 50.3,46.5 50.6,47.4C50.8,48.3 51.3,54.7 51.5,57.3C51.8,59.8 52.3,69.5 52.5,69.1C52.7,68.6 53.3,58.1 53.5,53.3C53.7,48.5 54.3,30.0 54.5,27.7C54.7,25.4 55.3,30.0 55.5,33.6C55.7,37.3 56.2,52.8 56.5,59.2C56.7,65.7 57.2,80.7 57.4,88.8C57.7,96.8 58.0,128.2 58.2,128.2C58.4,128.2 58.8,99.1 59.0,88.8C59.3,78.4 60.1,47.1 60.4,39.5C60.7,32.0 61.2,24.2 61.4,24.2C61.6,24.2 62.1,34.1 62.4,39.5C62.6,45.0 63.5,69.9 63.8,71.0C64.0,72.2 64.7,53.8 64.9,49.4C65.2,45.0 65.7,34.5 65.9,33.6C66.1,32.7 66.6,38.8 66.9,41.5C67.2,44.3 67.8,56.3 68.1,57.3C68.4,58.2 69.0,50.7 69.3,49.4C69.5,48.1 70.0,46.0 70.2,46.4C70.5,46.9 71.0,52.3 71.2,53.3C71.5,54.4 72.1,55.5 72.4,55.3C72.7,55.1 73.4,52.5 73.6,51.4C73.8,50.2 74.2,45.0 74.4,45.5C74.6,45.9 75.2,51.7 75.6,55.3C75.9,58.9 76.8,75.3 77.1,76.0C77.5,76.7 78.4,63.2 78.7,61.2C79.1,59.2 79.8,59.2 80.1,59.2C80.4,59.2 81.1,62.8 81.5,61.2C81.8,59.6 82.7,48.0 83.1,45.5C83.4,42.9 84.0,39.1 84.2,39.5C84.5,40.0 85.1,46.4 85.4,49.4C85.7,52.4 86.7,62.6 87.0,65.1C87.3,67.7 87.9,71.3 88.2,71.0C88.4,70.8 89.1,65.2 89.4,63.2C89.6,61.1 90.2,55.2 90.5,53.3C90.8,51.5 91.6,46.0 91.9,47.4C92.2,48.8 93.0,61.5 93.3,65.1C93.6,68.8 94.2,80.8 94.5,78.9C94.8,77.1 95.6,55.1 95.9,49.4C96.1,43.6 96.6,33.4 96.8,29.7C97.1,26.0 97.7,15.6 98.0,17.9C98.3,20.2 98.9,43.9 99.2,49.4C99.5,54.9 100.1,63.5 100.4,65.1C100.6,66.7 101.1,63.9 101.4,63.2C101.6,62.5 102.4,58.3 102.7,59.2C103.1,60.1 104.0,69.4 104.3,71.0C104.6,72.7 104.9,74.6 105.1,73.0C105.3,71.4 106.0,59.8 106.3,57.3C106.6,54.7 107.2,51.1 107.5,51.4C107.7,51.6 108.4,57.9 108.6,59.2C108.9,60.6 109.4,63.6 109.6,63.2C109.9,62.7 110.7,56.4 111.0,55.3C111.3,54.1 111.9,51.7 112.2,53.3C112.5,54.9 113.3,66.9 113.6,69.1C113.8,71.3 114.3,73.4 114.6,72.0C114.8,70.7 115.3,60.4 115.5,57.3C115.8,54.2 116.3,45.9 116.5,45.5C116.8,45.0 117.4,50.9 117.7,53.3C118.0,55.7 118.6,65.7 118.9,66.1C119.2,66.6 119.8,59.1 120.1,57.3C120.4,55.4 121.1,50.5 121.4,50.4C121.8,50.3 122.5,55.2 122.8,56.3C123.1,57.3 123.7,59.8 124.0,59.2C124.3,58.7 124.9,52.7 125.2,51.4C125.5,50.0 126.1,47.2 126.4,47.4C126.6,47.6 127.3,51.6 127.6,53.3C127.8,55.0 128.4,62.0 128.7,62.2C129.1,62.4 130.0,56.4 130.3,55.3C130.6,54.1 131.2,52.0 131.5,52.3C131.8,52.7 132.3,57.1 132.7,58.2C133.0,59.4 133.9,62.1 134.2,62.2C134.6,62.3 135.5,59.3 135.8,59.2C136.2,59.1 136.9,61.4 137.2,61.2C137.5,61.0 138.2,58.1 138.6,57.3C138.9,56.5 139.8,54.8 140.2,54.3C140.5,53.9 141.4,53.9 141.7,53.3C142.1,52.7 142.6,50.2 142.9,49.4C143.2,48.6 143.8,46.5 144.1,46.4C144.4,46.3 145.0,47.7 145.3,48.4C145.6,49.1 146.0,52.1 146.5,52.3C146.9,52.6 148.7,50.7 149.1,50.4C149.6,50.0 150.4,49.4 150.7,49.4C151.1,49.4 151.9,50.4 152.3,50.4C152.7,50.4 153.5,50.0 153.9,49.4C154.2,48.8 155.1,45.7 155.4,45.5C155.8,45.2 156.7,46.8 157.0,47.4C157.4,48.0 158.2,50.4 158.6,50.4C159.0,50.4 159.9,48.0 160.2,47.4C160.5,46.8 161.1,44.9 161.4,45.0C161.6,45.2 162.3,47.7 162.5,48.4C162.8,49.1 163.4,50.8 163.7,51.4C164.0,51.9 164.9,53.3 165.3,53.3C165.7,53.3 166.5,51.2 166.9,51.4C167.2,51.5 168.1,53.9 168.4,54.3C168.8,54.8 169.7,55.4 170.0,55.3C170.4,55.2 170.9,53.8 171.2,53.3C171.5,52.9 172.1,51.2 172.4,51.4C172.7,51.5 173.2,53.9 173.6,54.3C173.9,54.8 174.8,55.2 175.1,55.3C175.5,55.4 176.4,54.9 176.7,54.9C177.1,54.9 177.9,55.5 178.3,55.3C178.7,55.1 179.5,53.7 179.9,53.3C180.2,53.0 181.1,52.6 181.4,52.3C181.8,52.1 182.6,51.6 183.0,51.4C183.4,51.1 184.5,50.7 185.0,50.4C185.4,50.0 186.5,48.3 187.0,48.4C187.4,48.5 188.2,50.9 188.5,51.4C188.9,51.8 189.7,52.5 190.1,52.3C190.5,52.2 191.3,50.5 191.7,50.4C192.1,50.3 192.9,51.2 193.3,51.4C193.6,51.5 194.5,51.1 194.8,51.4C195.2,51.6 196.0,52.9 196.4,53.3C196.8,53.8 197.6,55.4 198.0,55.3C198.4,55.2 199.2,53.0 199.6,52.3C199.9,51.7 200.8,49.4 201.1,49.4C201.5,49.4 202.0,51.5 202.3,52.3C202.6,53.1 203.2,56.1 203.5,56.3C203.8,56.5 204.4,54.2 204.7,54.3C205.0,54.4 205.5,56.8 205.9,57.3C206.2,57.7 207.1,58.4 207.4,58.2C207.8,58.1 208.3,57.0 208.6,56.3C208.9,55.6 209.8,52.9 210.2,52.3C210.6,51.8 211.4,51.1 211.8,51.4C212.1,51.6 213.0,53.9 213.4,54.3C213.7,54.8 214.6,54.9 214.9,55.3C215.3,55.6 216.2,57.4 216.5,57.3C216.8,57.1 217.4,55.1 217.7,54.3C218.0,53.5 218.5,51.2 218.9,50.4C219.2,49.6 220.1,47.5 220.4,47.4C220.8,47.3 221.6,49.0 222.0,49.4C222.4,49.7 223.2,50.3 223.6,50.4C224.0,50.5 224.8,50.4 225.2,50.4C225.5,50.4 226.4,50.3 226.7,50.4C227.1,50.5 228.0,51.4 228.3,51.4C228.7,51.4 229.5,50.6 229.9,50.4C230.3,50.1 231.1,49.6 231.5,49.4C231.8,49.2 232.7,48.3 233.0,48.4C233.4,48.5 234.3,49.7 234.6,50.4C235.0,51.1 235.8,53.6 236.2,54.3C236.6,55.0 237.4,56.3 237.8,56.3C238.1,56.3 239.0,54.8 239.3,54.3C239.7,53.9 240.6,52.3 240.9,52.3C241.3,52.3 242.1,54.0 242.5,54.3C242.9,54.7 243.7,55.5 244.1,55.3C244.4,55.1 245.3,52.6 245.6,52.3C246.0,52.1 246.9,52.9 247.2,53.3C247.6,53.8 248.4,56.2 248.8,56.3C249.2,56.4 250.0,54.7 250.4,54.3C250.7,54.0 251.6,53.1 252.0,53.3C252.3,53.5 253.2,56.3 253.5,56.3C253.9,56.3 254.7,53.9 255.1,53.3C255.5,52.7 256.3,51.5 256.7,51.4C257.0,51.2 257.9,51.9 258.2,52.3C258.6,52.8 259.5,55.1 259.8,55.3C260.2,55.5 261.0,54.7 261.4,54.3C261.8,54.0 262.6,52.7 263.0,52.3C263.3,51.9 264.2,51.1 264.5,51.0C264.9,50.8 265.8,51.1 266.1,51.4C266.5,51.6 267.3,53.2 267.7,53.3C268.1,53.4 268.9,52.5 269.3,52.3C269.6,52.2 270.4,52.2 270.9,52.3C271.3,52.5 273.0,53.5 273.5,53.7C274.0,54.0 274.7,54.4 275.1,54.3C275.4,54.3 276.3,53.3 276.6,53.3C277.0,53.3 277.8,54.0 278.2,54.3C278.6,54.6 279.4,55.7 279.8,55.7C280.2,55.7 281.0,54.7 281.4,54.3C281.7,53.9 282.6,52.7 282.9,52.4C283.3,52.0 284.2,51.0 284.5,51.0C284.8,51.0 285.4,52.1 285.7,52.4C286.0,52.6 286.7,52.9 286.9,52.9" fill="none" stroke="#ffa500" stroke-width="1.0" stroke-linejoin="round"/>
<path d="M36.18,118.31C36.4,118.8 37.4,122.5 37.8,122.2C38.1,122.0 39.0,117.7 39.3,116.3C39.7,115.0 40.5,111.2 40.9,110.4C41.3,109.6 42.1,109.2 42.5,109.5C42.8,109.7 43.7,111.1 44.1,112.4C44.4,113.7 45.3,119.1 45.6,120.3C46.0,121.4 46.9,122.2 47.2,122.2C47.6,122.2 48.3,121.2 48.6,120.3C48.9,119.4 49.3,115.6 49.6,114.4C49.8,113.1 50.3,108.8 50.6,109.5C50.8,110.1 51.3,119.0 51.5,120.3C51.8,121.5 52.3,120.5 52.5,120.3C52.7,120.1 53.3,119.9 53.5,118.3C53.7,116.7 54.3,108.1 54.5,106.5C54.7,104.9 55.3,106.6 55.5,104.5C55.7,102.5 56.1,95.2 56.3,88.8C56.5,82.3 56.9,57.7 57.1,49.4C57.2,41.1 57.7,17.9 57.8,17.9C58.0,17.9 58.4,41.1 58.6,49.4C58.9,57.7 59.5,81.4 59.8,88.8C60.1,96.1 60.7,109.9 61.0,112.4C61.3,114.9 61.9,112.0 62.2,110.4C62.4,108.8 63.1,101.0 63.4,98.6C63.6,96.2 64.3,89.3 64.5,89.8C64.8,90.2 65.4,99.0 65.7,102.6C66.0,106.1 66.6,118.3 66.9,120.3C67.2,122.2 67.8,119.2 68.1,119.3C68.4,119.4 69.0,121.5 69.3,121.3C69.5,121.0 70.2,118.4 70.4,117.3C70.7,116.3 71.4,112.7 71.6,112.4C71.9,112.1 72.5,115.1 72.8,114.4C73.1,113.7 73.7,108.2 74.0,106.5C74.3,104.8 74.9,99.6 75.2,99.6C75.4,99.6 76.1,104.8 76.4,106.5C76.6,108.2 77.3,112.3 77.5,114.4C77.8,116.4 78.4,122.8 78.7,124.2C79.0,125.6 79.6,126.6 79.9,126.2C80.2,125.7 80.8,120.6 81.1,120.3C81.4,119.9 82.0,123.0 82.3,123.2C82.5,123.5 83.2,121.4 83.4,122.2C83.7,123.1 84.3,129.9 84.6,130.1C84.9,130.4 85.5,126.4 85.8,124.2C86.1,122.0 86.7,112.5 87.0,111.4C87.3,110.4 87.9,114.6 88.2,115.4C88.4,116.2 89.0,117.4 89.4,118.3C89.7,119.2 90.6,123.2 90.9,123.2C91.2,123.2 91.8,119.6 92.1,118.3C92.4,117.0 93.1,113.8 93.3,112.4C93.5,111.0 93.9,109.7 94.1,106.5C94.3,103.3 94.6,89.7 94.9,84.8C95.1,80.0 95.8,69.0 96.0,65.1C96.3,61.2 97.0,52.0 97.2,51.4C97.5,50.7 98.1,55.3 98.4,59.2C98.7,63.1 99.3,79.8 99.6,84.8C99.9,89.9 100.5,99.8 100.8,102.6C101.0,105.3 101.7,105.7 101.9,108.5C102.2,111.2 102.5,124.6 102.7,126.2C103.0,127.8 103.6,123.6 103.9,122.2C104.2,120.9 104.8,115.6 105.1,114.4C105.4,113.1 106.0,111.9 106.3,111.4C106.6,111.0 107.2,110.1 107.5,110.4C107.7,110.8 108.4,113.0 108.6,114.4C108.9,115.7 109.6,121.2 109.8,122.2C110.1,123.3 110.7,123.9 111.0,123.2C111.3,122.5 111.9,117.9 112.2,116.3C112.5,114.7 113.1,110.1 113.4,109.5C113.6,108.8 114.3,109.6 114.6,110.4C114.8,111.2 115.5,115.7 115.7,116.3C116.0,117.0 116.6,117.0 116.9,116.3C117.2,115.7 117.8,111.3 118.1,110.4C118.4,109.5 119.0,107.7 119.3,108.5C119.6,109.3 120.2,115.6 120.5,117.3C120.7,119.1 121.4,122.9 121.6,123.2C121.9,123.6 122.6,121.0 122.8,120.3C123.1,119.6 123.7,117.3 124.0,117.3C124.3,117.3 124.9,119.7 125.2,120.3C125.5,120.9 126.1,122.1 126.4,122.2C126.6,122.4 127.3,121.4 127.6,121.3C127.8,121.1 128.5,121.5 128.7,121.3C129.0,121.0 129.6,119.7 129.9,119.3C130.2,118.8 131.2,117.3 131.5,117.3C131.8,117.3 132.3,118.8 132.7,119.3C133.0,119.7 133.9,121.3 134.2,121.3C134.6,121.3 135.5,119.4 135.8,119.3C136.1,119.2 136.7,119.7 137.0,120.3C137.3,120.9 138.2,123.9 138.6,124.2C138.9,124.6 139.8,123.5 140.2,123.2C140.5,123.0 141.4,122.7 141.7,122.2C142.1,121.8 142.6,120.0 142.9,119.3C143.2,118.6 143.8,116.2 144.1,116.3C144.4,116.5 145.0,119.5 145.3,120.3C145.6,121.1 146.1,122.5 146.5,123.2C146.8,123.9 148.0,126.3 148.4,126.2C148.7,126.1 149.3,122.6 149.5,122.2C149.8,121.9 150.4,123.2 150.7,123.2C151.1,123.2 152.0,123.1 152.3,122.2C152.6,121.4 153.2,117.5 153.5,116.3C153.8,115.1 154.4,112.1 154.7,112.0C154.9,111.9 155.6,114.4 155.9,115.4C156.1,116.3 156.8,119.6 157.0,120.3C157.3,121.0 157.9,121.4 158.2,121.3C158.5,121.1 159.1,119.7 159.4,119.3C159.7,118.8 160.3,117.7 160.6,117.3C160.8,117.0 161.5,116.0 161.8,116.3C162.0,116.7 162.7,119.4 162.9,120.3C163.2,121.2 163.8,124.0 164.1,124.2C164.4,124.4 165.0,122.4 165.3,122.2C165.6,122.1 166.2,123.2 166.5,123.2C166.8,123.2 167.4,122.6 167.7,122.2C167.9,121.9 168.6,120.6 168.8,120.3C169.1,119.9 169.8,119.3 170.0,119.3C170.3,119.3 170.9,120.5 171.2,120.3C171.5,120.1 172.1,116.8 172.4,117.3C172.7,117.9 173.3,124.5 173.6,125.2C173.8,125.9 174.5,123.6 174.8,123.2C175.0,122.9 175.7,122.2 175.9,122.2C176.2,122.2 176.8,123.1 177.1,123.2C177.4,123.3 178.0,123.7 178.3,123.2C178.6,122.8 179.2,120.1 179.5,119.3C179.8,118.5 180.4,116.2 180.7,116.3C180.9,116.5 181.6,119.2 181.8,120.3C182.1,121.3 182.7,124.9 183.0,125.2C183.3,125.5 183.9,123.8 184.2,123.2C184.5,122.7 185.1,120.9 185.4,120.3C185.7,119.7 186.3,118.4 186.6,118.3C186.8,118.2 187.5,118.8 187.8,119.3C188.0,119.7 188.7,122.1 188.9,122.2C189.2,122.4 189.8,120.6 190.1,120.3C190.4,119.9 191.0,118.8 191.3,119.3C191.6,119.7 192.2,123.3 192.5,124.2C192.7,125.1 193.4,127.2 193.7,127.2C193.9,127.2 194.6,124.7 194.8,124.2C195.1,123.8 195.7,123.0 196.0,123.2C196.3,123.5 197.2,126.1 197.6,126.2C198.0,126.3 198.8,124.2 199.2,124.2C199.5,124.2 200.4,125.7 200.8,126.2C201.1,126.6 201.7,128.4 201.9,128.2C202.2,127.9 202.8,125.1 203.1,124.2C203.4,123.3 204.0,120.3 204.3,120.3C204.6,120.3 205.2,123.9 205.5,124.2C205.7,124.6 206.4,123.5 206.6,123.2C206.9,123.0 207.6,122.6 207.8,122.2C208.1,121.9 208.7,120.6 209.0,120.3C209.3,119.9 209.9,119.5 210.2,119.3C210.5,119.1 211.1,118.2 211.4,118.3C211.7,118.4 212.3,119.9 212.6,120.3C212.8,120.6 213.5,121.3 213.7,121.3C214.0,121.3 214.6,120.5 214.9,120.3C215.2,120.1 215.8,119.5 216.1,119.3C216.4,119.1 217.0,118.1 217.3,118.3C217.6,118.5 218.2,121.0 218.5,121.3C218.7,121.5 219.4,120.2 219.6,120.3C219.9,120.4 220.6,121.9 220.8,122.2C221.1,122.6 221.7,123.2 222.0,123.2C222.3,123.2 222.9,122.1 223.2,122.2C223.5,122.4 224.1,123.9 224.4,124.2C224.7,124.6 225.2,125.2 225.6,125.2C225.9,125.2 226.8,124.4 227.1,124.2C227.5,124.0 228.3,123.7 228.7,123.2C229.1,122.8 229.9,120.5 230.3,120.3C230.7,120.1 231.5,120.9 231.9,121.3C232.2,121.6 233.1,123.3 233.4,123.2C233.8,123.1 234.3,120.2 234.6,120.3C234.9,120.4 235.5,124.0 235.8,124.2C236.1,124.4 236.7,122.4 237.0,122.2C237.3,122.1 238.2,123.2 238.6,123.2C238.9,123.2 239.8,122.6 240.1,122.2C240.5,121.9 241.3,120.6 241.7,120.3C242.1,119.9 243.0,119.3 243.3,119.3C243.6,119.3 244.2,119.9 244.5,120.3C244.7,120.6 245.4,121.8 245.6,122.2C245.9,122.7 246.5,123.9 246.8,124.2C247.2,124.6 248.0,124.7 248.4,125.2C248.8,125.7 249.6,127.9 250.0,128.2C250.3,128.4 251.2,127.1 251.5,127.2C251.9,127.3 252.8,128.7 253.1,129.1C253.5,129.6 254.3,130.9 254.7,131.1C255.1,131.3 255.9,131.2 256.3,131.1C256.6,131.0 257.5,130.4 257.9,130.1C258.2,129.9 259.1,129.1 259.4,129.1C259.8,129.1 260.6,130.4 261.0,130.1C261.4,129.9 262.2,127.9 262.6,127.2C262.9,126.5 263.8,126.9 264.2,124.2C264.5,121.6 265.0,108.7 265.3,104.5C265.7,100.4 266.6,91.4 266.9,88.8C267.2,86.1 267.8,82.3 268.1,81.9C268.4,81.4 269.0,83.3 269.3,84.8C269.6,86.3 270.2,91.7 270.5,94.7C270.7,97.7 271.4,108.1 271.6,110.4C271.9,112.7 272.1,112.8 272.3,114.4C272.5,116.0 273.2,122.6 273.5,124.2C273.8,125.8 274.4,127.7 274.7,128.2C274.9,128.6 275.6,127.8 275.9,128.2C276.1,128.5 276.8,130.7 277.0,131.1C277.3,131.6 277.9,132.2 278.2,132.1C278.5,132.0 279.1,130.5 279.4,130.2C279.7,129.8 280.3,129.2 280.6,129.2C280.9,129.2 281.5,130.0 281.8,130.2C282.0,130.3 282.7,130.4 282.9,130.5C283.2,130.7 283.8,131.7 284.1,131.7C284.4,131.7 285.0,130.6 285.3,130.5C285.6,130.5 286.3,131.1 286.5,131.1" fill="none" stroke="#0000ff" stroke-width="1.0" stroke-linejoin="round"/>
<line x1="57.87" y1="11.35" x2="57.87" y2="138.3" stroke="#ff0000" stroke-width="1.0" stroke-dasharray="3,0.95"/>
<line x1="115.07" y1="11.35" x2="115.07" y2="138.3" stroke="#ff0000" stroke-width="1.0" stroke-dasharray="3,0.95"/>
<line x1="172.27" y1="11.35" x2="172.27" y2="138.3" stroke="#ff0000" stroke-width="1.0" stroke-dasharray="3,0.95"/>
<line x1="229.48" y1="11.35" x2="229.48" y2="138.3" stroke="#ff0000" stroke-width="1.0" stroke-dasharray="3,0.95"/>
</g>
<line x1="298.9" y1="11.35" x2="24.0" y2="11.35" stroke="#000" stroke-width="1.1"/>
<line x1="24.45" y1="10.799999999999999" x2="24.45" y2="139.10000000000002" stroke="#000" stroke-width="1.3"/>
<line x1="23.8" y1="138.45000000000002" x2="298.9" y2="138.45000000000002" stroke="#000" stroke-width="1.3"/>
<line x1="298.9" y1="10.85" x2="298.9" y2="138.8" stroke="#0000ff" stroke-width="1.7"/>
<line x1="36.50" y1="138.3" x2="36.50" y2="140.0" stroke="#000" stroke-width="0.8"/>
<text x="36.50" y="146.80" font-size="7.2" text-anchor="middle">8</text>
<line x1="72.34" y1="138.3" x2="72.34" y2="140.0" stroke="#000" stroke-width="0.8"/>
<text x="72.34" y="146.80" font-size="7.2" text-anchor="middle">16</text>
<line x1="108.17" y1="138.3" x2="108.17" y2="140.0" stroke="#000" stroke-width="0.8"/>
<text x="108.17" y="146.80" font-size="7.2" text-anchor="middle">24</text>
<line x1="144.01" y1="138.3" x2="144.01" y2="140.0" stroke="#000" stroke-width="0.8"/>
<text x="144.01" y="146.80" font-size="7.2" text-anchor="middle">32</text>
<line x1="179.84" y1="138.3" x2="179.84" y2="140.0" stroke="#000" stroke-width="0.8"/>
<text x="179.84" y="146.80" font-size="7.2" text-anchor="middle">40</text>
<line x1="215.68" y1="138.3" x2="215.68" y2="140.0" stroke="#000" stroke-width="0.8"/>
<text x="215.68" y="146.80" font-size="7.2" text-anchor="middle">48</text>
<line x1="251.51" y1="138.3" x2="251.51" y2="140.0" stroke="#000" stroke-width="0.8"/>
<text x="251.51" y="146.80" font-size="7.2" text-anchor="middle">56</text>
<line x1="287.35" y1="138.3" x2="287.35" y2="140.0" stroke="#000" stroke-width="0.8"/>
<text x="287.35" y="146.80" font-size="7.2" text-anchor="middle">64</text>
<text x="161.6" y="154.80" font-size="7.2" text-anchor="middle">Frequency</text>
<text x="161.6" y="8.65" font-size="8.6" text-anchor="middle">Real part</text>
<line x1="22.599999999999998" y1="54.30" x2="24.2" y2="54.30" stroke="#000" stroke-width="0.8"/>
<text x="21.599999999999998" y="57.20" font-size="7.2" text-anchor="end">0</text>
<line x1="22.599999999999998" y1="101.60" x2="24.2" y2="101.60" stroke="#000" stroke-width="0.8"/>
<text x="21.599999999999998" y="104.50" font-size="7.2" text-anchor="end">−1</text>
<text transform="translate(7.6,74.83) rotate(-90)" font-size="7.2" text-anchor="middle">Amplitude</text>
<line x1="298.9" y1="132.53" x2="300.5" y2="132.53" stroke="#0000ff" stroke-width="0.8"/>
<text x="301.7" y="135.53" font-size="7.2" fill="#0000ff" class="b">0.0</text>
<line x1="298.9" y1="109.45" x2="300.5" y2="109.45" stroke="#0000ff" stroke-width="0.8"/>
<text x="301.7" y="112.45" font-size="7.2" fill="#0000ff" class="b">0.2</text>
<line x1="298.9" y1="86.37" x2="300.5" y2="86.37" stroke="#0000ff" stroke-width="0.8"/>
<text x="301.7" y="89.37" font-size="7.2" fill="#0000ff" class="b">0.4</text>
<line x1="298.9" y1="63.28" x2="300.5" y2="63.28" stroke="#0000ff" stroke-width="0.8"/>
<text x="301.7" y="66.28" font-size="7.2" fill="#0000ff" class="b">0.6</text>
<line x1="298.9" y1="40.20" x2="300.5" y2="40.20" stroke="#0000ff" stroke-width="0.8"/>
<text x="301.7" y="43.20" font-size="7.2" fill="#0000ff" class="b">0.8</text>
<line x1="298.9" y1="17.12" x2="300.5" y2="17.12" stroke="#0000ff" stroke-width="0.8"/>
<text x="301.7" y="20.12" font-size="7.2" fill="#0000ff" class="b">1.0</text>
<text transform="translate(319.9,74.83) rotate(-90)" font-size="7.2" text-anchor="middle" fill="#0000ff" class="b">Weight</text>
<rect x="24.2" y="171.5" width="274.7" height="126.80000000000001" fill="#fff"/>
<clipPath id="clipb1"><rect x="24.2" y="171.5" width="274.7" height="126.80000000000001"/></clipPath>
<g clip-path="url(#clipb1)">
<path d="M36.18,244.44C36.3,243.6 37.1,238.1 37.4,237.0C37.6,235.9 38.3,235.0 38.5,235.0C38.8,235.0 39.4,236.6 39.7,237.0C40.0,237.3 40.6,238.9 40.9,237.9C41.2,237.0 42.2,230.8 42.5,229.1C42.8,227.4 43.4,224.3 43.7,223.2C43.9,222.0 44.4,219.0 44.6,219.2C44.9,219.5 45.4,223.1 45.6,225.1C45.9,227.2 46.5,236.5 46.8,237.0C47.1,237.4 47.7,230.3 48.0,229.1C48.3,227.8 48.9,225.4 49.2,226.1C49.5,226.8 50.1,232.9 50.4,235.0C50.6,237.1 51.3,244.8 51.5,243.8C51.8,242.9 52.5,230.2 52.7,227.1C52.9,224.0 53.3,217.0 53.5,217.3C53.7,217.5 54.4,223.1 54.7,229.1C55.0,235.1 55.6,261.1 55.9,268.5C56.1,275.8 56.5,294.4 56.7,292.1C56.8,289.8 57.3,260.7 57.4,248.8C57.6,236.8 58.0,198.0 58.2,189.7C58.4,181.4 58.8,179.4 59.0,177.9C59.2,176.4 59.6,175.1 59.8,176.9C60.0,178.7 60.4,187.5 60.6,193.6C60.8,199.7 61.5,224.0 61.8,229.1C62.1,234.1 62.7,238.1 63.0,237.0C63.2,235.8 63.7,222.6 63.9,219.2C64.2,215.9 64.7,208.2 64.9,208.4C65.2,208.6 65.8,217.6 66.1,221.2C66.4,224.8 67.0,237.5 67.3,238.9C67.6,240.3 68.2,233.9 68.5,233.0C68.7,232.1 69.4,230.6 69.7,231.1C69.9,231.5 70.6,236.5 70.8,237.0C71.1,237.4 71.7,235.4 72.0,235.0C72.3,234.5 72.9,231.9 73.2,233.0C73.5,234.2 74.1,242.5 74.4,244.8C74.7,247.1 75.3,253.6 75.6,252.7C75.8,251.8 76.5,240.2 76.8,237.0C77.0,233.7 77.7,226.7 77.9,225.1C78.2,223.5 78.8,222.9 79.1,223.2C79.4,223.4 80.0,227.1 80.3,227.1C80.6,227.1 81.2,224.1 81.5,223.2C81.7,222.3 82.4,218.5 82.6,219.2C82.9,219.9 83.6,225.9 83.8,229.1C84.1,232.3 84.7,245.0 85.0,246.8C85.3,248.6 85.9,246.9 86.2,244.8C86.5,242.8 87.1,231.6 87.4,229.1C87.7,226.6 88.3,224.1 88.6,223.2C88.8,222.3 89.5,221.2 89.7,221.2C90.0,221.2 90.6,221.8 90.9,223.2C91.2,224.5 91.8,230.7 92.1,233.0C92.4,235.3 93.0,243.3 93.3,242.9C93.6,242.4 94.2,233.0 94.5,229.1C94.7,225.2 95.4,213.4 95.6,209.4C95.9,205.4 96.3,194.6 96.4,194.6C96.6,194.6 97.0,204.2 97.2,209.4C97.4,214.6 97.8,233.4 98.0,238.9C98.2,244.4 99.0,254.1 99.2,256.6C99.4,259.2 99.8,262.7 100.0,260.6C100.2,258.5 100.5,241.7 100.8,238.9C101.0,236.2 101.7,238.1 101.9,237.0C102.2,235.8 102.9,230.2 103.1,229.1C103.4,227.9 104.0,228.0 104.3,227.1C104.6,226.2 105.2,221.0 105.5,221.2C105.8,221.4 106.4,227.0 106.7,229.1C107.0,231.1 107.6,238.2 107.9,238.9C108.1,239.6 108.8,235.9 109.0,235.0C109.3,234.1 109.9,231.5 110.2,231.1C110.5,230.6 111.1,230.1 111.4,231.1C111.7,232.0 112.3,238.7 112.6,238.9C112.9,239.1 113.5,235.8 113.8,233.0C114.0,230.3 114.7,215.7 114.9,215.3C115.2,214.8 115.9,226.3 116.1,229.1C116.4,231.8 117.0,239.4 117.3,238.9C117.6,238.5 118.2,227.2 118.5,225.1C118.8,223.1 119.5,221.2 119.7,221.2C119.9,221.2 120.2,224.2 120.5,225.1C120.7,226.1 121.4,228.4 121.6,229.1C121.9,229.8 122.6,231.5 122.8,231.1C123.1,230.6 123.7,225.6 124.0,225.1C124.3,224.7 124.9,226.2 125.2,227.1C125.5,228.0 126.1,231.6 126.4,233.0C126.6,234.4 127.3,239.1 127.6,238.9C127.8,238.7 128.5,232.4 128.7,231.1C129.0,229.7 129.6,227.3 129.9,227.1C130.2,226.9 130.8,228.4 131.1,229.1C131.4,229.8 132.0,232.8 132.3,233.0C132.6,233.2 133.2,231.5 133.5,231.1C133.7,230.6 134.3,229.4 134.6,229.1C135.0,228.7 135.9,228.5 136.2,228.1C136.6,227.6 137.4,225.7 137.8,225.1C138.2,224.6 139.0,223.5 139.4,223.2C139.7,222.8 140.6,222.2 140.9,222.2C141.3,222.2 141.9,223.3 142.1,223.2C142.4,223.1 143.0,221.0 143.3,221.2C143.6,221.4 144.2,224.1 144.5,225.1C144.8,226.2 145.4,229.7 145.7,230.1C145.9,230.4 146.5,228.4 146.9,228.1C147.2,227.7 148.4,227.0 148.8,227.1C149.1,227.2 149.7,228.7 149.9,229.1C150.2,229.4 150.8,230.2 151.1,230.1C151.4,229.9 152.0,228.5 152.3,228.1C152.6,227.6 153.6,226.1 153.9,226.1C154.2,226.1 154.8,227.5 155.1,228.1C155.3,228.7 156.0,230.5 156.2,231.1C156.5,231.6 157.1,233.0 157.4,233.0C157.7,233.0 158.3,231.5 158.6,231.1C158.9,230.6 159.5,228.7 159.8,229.1C160.1,229.4 160.7,233.0 161.0,234.0C161.2,235.0 161.9,237.8 162.1,237.9C162.4,238.1 163.1,235.6 163.3,235.0C163.6,234.4 164.2,233.0 164.5,233.0C164.8,233.0 165.4,235.2 165.7,235.0C166.0,234.8 166.6,231.2 166.9,231.1C167.1,230.9 167.8,233.4 168.1,234.0C168.3,234.6 169.0,236.1 169.2,236.0C169.5,235.9 170.1,233.6 170.4,233.0C170.7,232.4 171.3,230.8 171.6,231.1C171.9,231.3 172.5,234.6 172.8,235.0C173.1,235.3 173.6,234.3 174.0,234.0C174.3,233.7 175.1,232.3 175.5,232.0C176.0,231.8 177.1,232.1 177.5,232.0C178.0,231.9 179.0,231.4 179.5,231.1C179.9,230.7 181.0,229.2 181.4,229.1C181.9,229.0 182.7,230.1 183.0,230.1C183.4,230.1 184.2,229.0 184.6,229.1C185.0,229.2 185.8,230.6 186.2,231.1C186.5,231.5 187.0,232.6 187.4,233.0C187.7,233.5 188.6,235.0 188.9,235.0C189.3,235.0 190.1,233.1 190.5,233.0C190.9,232.9 191.7,233.8 192.1,234.0C192.4,234.2 193.3,235.1 193.7,235.0C194.0,234.9 194.9,232.9 195.2,233.0C195.6,233.1 196.5,235.7 196.8,236.0C197.1,236.2 197.7,235.6 198.0,235.0C198.3,234.4 199.2,230.9 199.6,231.1C199.9,231.2 200.8,235.2 201.1,236.0C201.5,236.8 202.0,238.1 202.3,237.9C202.6,237.8 203.2,235.6 203.5,235.0C203.8,234.4 204.4,233.0 204.7,233.0C205.0,233.0 205.9,235.1 206.3,235.0C206.6,234.9 207.1,232.7 207.4,232.0C207.8,231.3 208.7,229.5 209.0,229.1C209.3,228.6 209.9,227.9 210.2,228.1C210.5,228.3 211.1,230.5 211.4,231.1C211.7,231.6 212.6,232.9 213.0,233.0C213.3,233.1 214.2,232.0 214.5,232.0C214.9,232.0 215.8,233.2 216.1,233.0C216.4,232.8 217.0,230.9 217.3,230.1C217.6,229.3 218.5,226.2 218.9,226.1C219.2,226.0 219.8,228.3 220.0,229.1C220.3,229.9 220.9,232.6 221.2,233.0C221.6,233.5 222.4,232.9 222.8,233.0C223.2,233.1 224.0,234.0 224.4,234.0C224.7,234.0 225.6,233.0 226.0,233.0C226.3,233.0 227.2,233.8 227.5,234.0C227.9,234.2 228.4,234.9 228.7,235.0C229.0,235.1 229.9,235.1 230.3,235.0C230.7,234.9 231.5,234.0 231.9,234.0C232.2,234.0 232.7,234.5 233.0,235.0C233.4,235.4 234.3,237.5 234.6,237.9C235.0,238.4 235.9,239.3 236.2,238.9C236.5,238.6 237.1,235.6 237.4,235.0C237.6,234.4 238.3,234.2 238.6,234.0C238.8,233.8 239.5,232.9 239.7,233.0C240.0,233.1 240.6,234.6 240.9,235.0C241.2,235.3 242.1,236.1 242.5,236.0C242.9,235.9 243.7,234.3 244.1,234.0C244.4,233.7 245.0,232.9 245.2,233.0C245.5,233.1 246.1,234.9 246.4,235.0C246.8,235.1 247.6,234.3 248.0,234.0C248.4,233.7 249.3,231.9 249.6,232.0C249.9,232.1 250.4,234.6 250.8,235.0C251.1,235.3 252.0,235.3 252.3,235.0C252.7,234.6 253.6,232.5 253.9,232.0C254.2,231.6 254.8,230.8 255.1,231.1C255.4,231.3 256.0,233.5 256.3,234.0C256.6,234.5 257.1,235.0 257.5,235.0C257.8,235.0 258.7,234.2 259.0,234.0C259.4,233.8 260.2,233.2 260.6,233.0C261.0,232.8 261.9,232.3 262.2,232.0C262.5,231.8 263.0,231.1 263.4,231.1C263.7,231.1 264.6,231.8 264.9,232.0C265.3,232.3 266.2,232.7 266.5,233.0C266.9,233.4 267.7,235.0 268.1,235.0C268.5,235.0 269.5,233.0 270.1,233.0C270.6,233.0 272.6,234.9 273.1,235.0C273.6,235.1 274.0,234.2 274.3,234.0C274.5,233.8 275.2,233.4 275.5,233.4C275.7,233.4 276.4,233.9 276.6,234.0C276.9,234.1 277.5,234.1 277.8,234.0C278.1,233.9 278.7,233.2 279.0,233.0C279.3,232.9 279.9,232.6 280.2,232.6C280.5,232.6 281.1,233.2 281.4,233.0C281.6,232.8 282.3,231.2 282.5,231.1C282.8,230.9 283.5,231.8 283.7,232.0C284.0,232.3 284.6,232.7 284.9,233.0C285.2,233.3 285.9,234.3 286.1,234.6C286.3,234.9 286.8,235.3 286.9,235.4" fill="none" stroke="#ffa500" stroke-width="1.0" stroke-linejoin="round"/>
<path d="M36.18,275.36C36.4,275.1 37.4,274.0 37.8,273.4C38.1,272.8 38.7,269.6 38.9,270.4C39.2,271.2 39.8,278.3 40.1,280.3C40.4,282.2 41.0,287.2 41.3,287.2C41.6,287.2 42.2,282.0 42.5,280.3C42.8,278.6 43.4,273.5 43.7,272.4C43.9,271.3 44.6,269.7 44.8,270.4C45.1,271.1 45.4,276.2 45.6,278.3C45.9,280.4 46.5,288.4 46.8,288.2C47.1,287.9 47.8,278.4 48.0,276.3C48.2,274.3 48.6,270.0 48.8,270.4C49.0,270.9 49.3,278.8 49.6,280.3C49.8,281.8 50.5,283.2 50.8,283.2C51.0,283.2 51.7,280.4 51.9,280.3C52.2,280.2 52.8,282.7 53.1,282.2C53.4,281.8 54.1,278.6 54.3,276.3C54.5,274.0 54.9,269.2 55.1,262.6C55.3,255.9 55.7,227.7 55.9,219.2C56.1,210.7 56.4,193.3 56.7,189.7C56.9,186.1 57.6,190.1 57.8,188.7C58.1,187.3 58.4,178.7 58.6,177.9C58.8,177.1 59.2,178.1 59.4,181.8C59.6,185.5 60.0,202.7 60.2,209.4C60.4,216.1 60.8,233.6 61.0,238.9C61.2,244.2 61.6,254.2 61.8,254.7C62.0,255.1 62.4,244.7 62.6,242.9C62.8,241.0 63.2,238.2 63.4,238.9C63.5,239.6 63.9,245.8 64.1,248.8C64.4,251.8 65.0,261.2 65.3,264.5C65.6,267.9 66.2,276.0 66.5,277.3C66.8,278.7 67.4,277.1 67.7,276.3C68.0,275.5 68.6,271.3 68.9,270.4C69.1,269.5 69.8,268.1 70.1,268.5C70.3,268.8 71.0,273.6 71.2,273.4C71.5,273.2 72.1,268.1 72.4,266.5C72.7,264.9 73.3,259.6 73.6,259.6C73.9,259.6 74.5,265.5 74.8,266.5C75.1,267.5 75.7,268.0 76.0,268.5C76.2,268.9 76.9,269.1 77.1,270.4C77.4,271.8 78.0,278.2 78.3,280.3C78.6,282.3 79.2,288.2 79.5,288.2C79.8,288.2 80.4,281.9 80.7,280.3C81.0,278.7 81.6,274.3 81.9,274.4C82.1,274.5 82.8,279.9 83.1,281.3C83.3,282.6 84.0,286.6 84.2,286.2C84.5,285.7 85.1,278.8 85.4,277.3C85.7,275.8 86.3,272.4 86.6,273.4C86.9,274.4 87.5,285.2 87.8,286.2C88.0,287.2 88.7,284.3 89.0,282.2C89.2,280.2 89.9,272.1 90.1,268.5C90.4,264.8 90.7,251.7 90.9,250.7C91.1,249.8 91.8,258.2 92.1,260.6C92.4,263.0 93.0,272.3 93.3,271.4C93.6,270.5 94.2,258.8 94.5,252.7C94.7,246.6 95.4,224.2 95.6,219.2C95.9,214.3 96.2,209.5 96.4,210.4C96.7,211.3 97.3,222.6 97.6,227.1C97.9,231.6 98.6,249.0 98.8,248.8C99.0,248.5 99.4,225.1 99.6,225.1C99.8,225.1 100.2,241.4 100.4,248.8C100.6,256.1 101.3,284.3 101.6,288.2C101.8,292.1 102.5,284.5 102.7,282.2C103.0,280.0 103.6,270.8 103.9,268.5C104.2,266.2 104.8,263.6 105.1,262.6C105.4,261.5 106.0,259.1 106.3,259.6C106.6,260.1 107.2,265.0 107.5,266.5C107.7,268.0 108.4,271.3 108.6,272.4C108.9,273.5 109.6,276.8 109.8,276.3C110.1,275.9 110.7,270.1 111.0,268.5C111.3,266.9 112.3,263.6 112.6,262.6C112.9,261.5 113.5,259.6 113.8,259.6C114.0,259.6 114.7,261.1 114.9,262.6C115.2,264.1 115.9,271.9 116.1,272.4C116.4,272.9 117.0,266.0 117.3,266.5C117.6,266.9 118.2,274.7 118.5,276.3C118.8,277.9 119.4,279.6 119.7,280.3C120.0,281.0 120.6,282.5 120.9,282.2C121.1,282.0 121.8,279.2 122.0,278.3C122.3,277.4 122.9,275.1 123.2,274.4C123.5,273.7 124.1,271.7 124.4,272.4C124.7,273.1 125.3,279.0 125.6,280.3C125.9,281.5 126.5,282.8 126.8,283.2C127.0,283.7 127.7,283.9 127.9,284.2C128.2,284.6 128.9,286.4 129.1,286.2C129.4,286.0 130.0,282.9 130.3,282.2C130.6,281.6 131.2,280.9 131.5,280.3C131.8,279.7 132.4,277.3 132.7,277.3C132.9,277.3 133.6,279.5 133.9,280.3C134.1,281.1 134.8,283.9 135.0,284.2C135.3,284.6 135.9,283.7 136.2,283.2C136.5,282.8 137.1,280.9 137.4,280.3C137.7,279.7 138.4,279.0 138.6,278.3C138.8,277.6 139.1,274.7 139.4,274.4C139.6,274.0 140.3,275.0 140.6,275.4C140.8,275.7 141.5,277.2 141.7,277.3C142.0,277.4 142.6,276.3 142.9,276.3C143.2,276.3 143.8,277.1 144.1,277.3C144.4,277.6 145.0,278.3 145.3,278.3C145.6,278.3 146.2,277.2 146.5,277.3C146.7,277.4 147.4,279.3 147.6,279.3C147.9,279.3 148.1,277.4 148.4,277.3C148.6,277.2 149.3,278.3 149.5,278.3C149.8,278.3 150.5,277.8 150.7,277.3C151.0,276.9 151.6,275.5 151.9,274.4C152.2,273.2 152.8,268.4 153.1,267.5C153.4,266.6 154.0,265.9 154.3,266.5C154.5,267.1 155.2,270.3 155.4,272.4C155.7,274.5 156.4,282.7 156.6,284.2C156.9,285.7 157.5,285.8 157.8,285.2C158.1,284.6 158.7,280.2 159.0,279.3C159.3,278.4 159.9,277.1 160.2,277.3C160.5,277.6 161.1,280.5 161.4,281.3C161.6,282.1 162.3,284.1 162.5,284.2C162.8,284.3 163.4,282.6 163.7,282.2C164.0,281.9 164.6,281.1 164.9,281.3C165.2,281.4 165.8,283.1 166.1,283.2C166.4,283.3 167.0,282.6 167.3,282.2C167.5,281.9 168.2,281.1 168.4,280.3C168.7,279.5 169.4,276.0 169.6,275.4C169.9,274.7 170.5,274.1 170.8,274.4C171.1,274.6 171.7,276.4 172.0,277.3C172.3,278.2 172.9,281.6 173.2,282.2C173.5,282.9 174.1,283.0 174.4,283.2C174.6,283.5 175.3,283.9 175.5,284.2C175.8,284.6 176.4,286.0 176.7,286.2C177.0,286.4 177.6,286.9 177.9,286.2C178.2,285.5 178.8,281.2 179.1,280.3C179.4,279.4 180.0,278.7 180.3,278.3C180.5,278.0 181.2,277.2 181.4,277.3C181.7,277.4 182.4,279.1 182.6,279.3C182.9,279.5 183.5,279.7 183.8,279.3C184.1,278.8 184.7,276.0 185.0,275.4C185.3,274.7 185.9,273.2 186.2,273.4C186.4,273.6 187.1,276.2 187.4,277.3C187.6,278.5 188.3,283.1 188.5,283.2C188.8,283.3 189.4,279.1 189.7,278.3C190.0,277.5 190.6,276.1 190.9,276.3C191.2,276.6 191.8,279.7 192.1,280.3C192.4,280.9 193.0,281.6 193.3,281.3C193.5,280.9 194.2,277.9 194.4,277.3C194.7,276.8 195.4,276.1 195.6,276.3C195.9,276.6 196.5,278.6 196.8,279.3C197.1,280.0 197.7,282.1 198.0,282.2C198.3,282.4 198.9,281.0 199.2,280.3C199.4,279.6 200.1,276.6 200.4,276.3C200.6,276.1 201.3,278.2 201.5,278.3C201.8,278.4 202.4,277.1 202.7,277.3C203.0,277.6 203.6,279.6 203.9,280.3C204.2,281.0 204.8,283.2 205.1,283.2C205.4,283.2 206.0,281.0 206.3,280.3C206.5,279.6 207.2,278.0 207.4,277.3C207.7,276.6 208.3,274.4 208.6,274.4C208.9,274.4 209.5,276.5 209.8,277.3C210.1,278.1 210.7,280.6 211.0,281.3C211.3,281.9 211.9,282.8 212.2,283.2C212.4,283.7 213.1,285.3 213.4,285.2C213.6,285.1 214.3,282.8 214.5,282.2C214.8,281.7 215.4,280.2 215.7,280.3C216.0,280.4 216.6,283.2 216.9,283.2C217.2,283.2 217.8,281.1 218.1,280.3C218.4,279.5 219.0,276.9 219.3,276.3C219.5,275.8 220.2,275.1 220.4,275.4C220.7,275.6 221.3,277.6 221.6,278.3C221.9,279.0 222.5,281.0 222.8,281.3C223.1,281.5 223.7,280.2 224.0,280.3C224.3,280.4 224.9,281.9 225.2,282.2C225.4,282.6 226.1,283.0 226.4,283.2C226.6,283.5 227.3,284.4 227.5,284.2C227.8,284.0 228.4,282.4 228.7,281.3C229.0,280.1 229.6,274.8 229.9,274.4C230.2,273.9 230.8,276.6 231.1,277.3C231.3,278.0 232.0,279.9 232.2,280.3C232.5,280.6 233.2,280.5 233.4,280.3C233.7,280.1 234.3,278.4 234.6,278.3C234.9,278.2 235.5,278.9 235.8,279.3C236.1,279.6 236.7,281.4 237.0,281.3C237.3,281.1 237.9,278.8 238.2,278.3C238.4,277.9 239.1,277.1 239.3,277.3C239.6,277.6 240.3,280.1 240.5,280.3C240.8,280.5 241.4,279.5 241.7,279.3C242.0,279.1 242.6,278.1 242.9,278.3C243.2,278.5 243.8,280.7 244.1,281.3C244.3,281.8 245.0,283.3 245.2,283.2C245.5,283.1 246.2,280.9 246.4,280.3C246.7,279.7 247.3,278.7 247.6,278.3C247.9,278.0 248.5,276.9 248.8,277.3C249.1,277.8 249.7,281.1 250.0,282.2C250.3,283.4 250.9,286.5 251.2,287.2C251.4,287.9 252.1,287.9 252.3,288.2C252.6,288.4 253.2,288.9 253.5,289.1C253.8,289.4 254.4,290.1 254.7,290.1C255.0,290.1 255.6,289.0 255.9,289.1C256.2,289.3 256.8,290.8 257.1,291.1C257.3,291.5 258.0,292.1 258.2,292.1C258.5,292.1 259.2,291.3 259.4,291.1C259.7,290.9 260.3,290.4 260.6,290.1C260.9,289.9 261.5,289.4 261.8,289.1C262.1,288.9 262.7,289.2 263.0,288.2C263.3,287.1 263.9,283.3 264.2,280.3C264.4,277.3 265.1,266.7 265.3,262.6C265.6,258.4 266.2,248.3 266.5,244.8C266.8,241.4 267.4,235.0 267.7,233.0C268.0,231.1 268.6,228.3 268.9,228.1C269.2,227.9 269.8,229.1 270.1,231.1C270.3,233.0 270.9,240.7 271.2,244.8C271.6,249.0 272.7,262.4 273.1,266.5C273.4,270.6 274.0,277.8 274.3,280.3C274.5,282.8 275.2,287.0 275.5,288.2C275.7,289.3 276.4,289.8 276.6,290.1C276.9,290.5 277.5,291.4 277.8,291.1C278.1,290.9 278.7,288.4 279.0,288.2C279.3,288.0 279.9,288.8 280.2,289.2C280.5,289.5 281.1,291.1 281.4,291.1C281.6,291.1 282.3,289.3 282.5,289.2C282.8,289.0 283.5,290.1 283.7,290.1C284.0,290.1 284.6,289.4 284.9,289.2C285.2,288.9 285.9,288.2 286.1,288.2C286.3,288.2 286.8,289.0 286.9,289.2" fill="none" stroke="#0000ff" stroke-width="1.0" stroke-linejoin="round"/>
<line x1="57.87" y1="171.5" x2="57.87" y2="298.3" stroke="#ff0000" stroke-width="1.0" stroke-dasharray="3,0.95"/>
<line x1="115.07" y1="171.5" x2="115.07" y2="298.3" stroke="#ff0000" stroke-width="1.0" stroke-dasharray="3,0.95"/>
<line x1="172.27" y1="171.5" x2="172.27" y2="298.3" stroke="#ff0000" stroke-width="1.0" stroke-dasharray="3,0.95"/>
<line x1="229.48" y1="171.5" x2="229.48" y2="298.3" stroke="#ff0000" stroke-width="1.0" stroke-dasharray="3,0.95"/>
</g>
<line x1="298.9" y1="171.5" x2="24.0" y2="171.5" stroke="#000" stroke-width="1.1"/>
<line x1="24.45" y1="170.95" x2="24.45" y2="299.1" stroke="#000" stroke-width="1.3"/>
<line x1="23.8" y1="298.45" x2="298.9" y2="298.45" stroke="#000" stroke-width="1.3"/>
<line x1="298.9" y1="171.0" x2="298.9" y2="298.8" stroke="#0000ff" stroke-width="1.7"/>
<line x1="36.50" y1="298.3" x2="36.50" y2="300.0" stroke="#000" stroke-width="0.8"/>
<text x="36.50" y="306.80" font-size="7.2" text-anchor="middle">8</text>
<line x1="72.34" y1="298.3" x2="72.34" y2="300.0" stroke="#000" stroke-width="0.8"/>
<text x="72.34" y="306.80" font-size="7.2" text-anchor="middle">16</text>
<line x1="108.17" y1="298.3" x2="108.17" y2="300.0" stroke="#000" stroke-width="0.8"/>
<text x="108.17" y="306.80" font-size="7.2" text-anchor="middle">24</text>
<line x1="144.01" y1="298.3" x2="144.01" y2="300.0" stroke="#000" stroke-width="0.8"/>
<text x="144.01" y="306.80" font-size="7.2" text-anchor="middle">32</text>
<line x1="179.84" y1="298.3" x2="179.84" y2="300.0" stroke="#000" stroke-width="0.8"/>
<text x="179.84" y="306.80" font-size="7.2" text-anchor="middle">40</text>
<line x1="215.68" y1="298.3" x2="215.68" y2="300.0" stroke="#000" stroke-width="0.8"/>
<text x="215.68" y="306.80" font-size="7.2" text-anchor="middle">48</text>
<line x1="251.51" y1="298.3" x2="251.51" y2="300.0" stroke="#000" stroke-width="0.8"/>
<text x="251.51" y="306.80" font-size="7.2" text-anchor="middle">56</text>
<line x1="287.35" y1="298.3" x2="287.35" y2="300.0" stroke="#000" stroke-width="0.8"/>
<text x="287.35" y="306.80" font-size="7.2" text-anchor="middle">64</text>
<text x="161.6" y="314.80" font-size="7.2" text-anchor="middle">Frequency</text>
<text x="161.6" y="168.80" font-size="8.6" text-anchor="middle">Imaginary part</text>
<line x1="22.599999999999998" y1="188.70" x2="24.2" y2="188.70" stroke="#000" stroke-width="0.8"/>
<text x="21.599999999999998" y="191.60" font-size="7.2" text-anchor="end">1</text>
<line x1="22.599999999999998" y1="234.00" x2="24.2" y2="234.00" stroke="#000" stroke-width="0.8"/>
<text x="21.599999999999998" y="236.90" font-size="7.2" text-anchor="end">0</text>
<line x1="22.599999999999998" y1="279.30" x2="24.2" y2="279.30" stroke="#000" stroke-width="0.8"/>
<text x="21.599999999999998" y="282.20" font-size="7.2" text-anchor="end">−1</text>
<text transform="translate(7.6,234.90) rotate(-90)" font-size="7.2" text-anchor="middle">Amplitude</text>
<line x1="298.9" y1="292.54" x2="300.5" y2="292.54" stroke="#0000ff" stroke-width="0.8"/>
<text x="301.7" y="295.54" font-size="7.2" fill="#0000ff" class="b">0.0</text>
<line x1="298.9" y1="269.48" x2="300.5" y2="269.48" stroke="#0000ff" stroke-width="0.8"/>
<text x="301.7" y="272.48" font-size="7.2" fill="#0000ff" class="b">0.2</text>
<line x1="298.9" y1="246.43" x2="300.5" y2="246.43" stroke="#0000ff" stroke-width="0.8"/>
<text x="301.7" y="249.43" font-size="7.2" fill="#0000ff" class="b">0.4</text>
<line x1="298.9" y1="223.37" x2="300.5" y2="223.37" stroke="#0000ff" stroke-width="0.8"/>
<text x="301.7" y="226.37" font-size="7.2" fill="#0000ff" class="b">0.6</text>
<line x1="298.9" y1="200.32" x2="300.5" y2="200.32" stroke="#0000ff" stroke-width="0.8"/>
<text x="301.7" y="203.32" font-size="7.2" fill="#0000ff" class="b">0.8</text>
<line x1="298.9" y1="177.26" x2="300.5" y2="177.26" stroke="#0000ff" stroke-width="0.8"/>
<text x="301.7" y="180.26" font-size="7.2" fill="#0000ff" class="b">1.0</text>
<text transform="translate(319.9,234.90) rotate(-90)" font-size="7.2" text-anchor="middle" fill="#0000ff" class="b">Weight</text>
</g>
<text x="488.7" y="324.6" font-size="8.9" text-anchor="middle">(b)</text>
<g transform="translate(0,332)">
<rect x="1.5" y="1.3000000000000114" width="320.40" height="315.30" fill="#f2f2f2"/>
<rect x="24.2" y="11.35" width="274.7" height="126.95000000000002" fill="#fff"/>
<clipPath id="clipc0"><rect x="24.2" y="11.35" width="274.7" height="126.95000000000002"/></clipPath>
<g clip-path="url(#clipc0)">
<path d="M36.57,112.40C36.7,114.0 37.5,131.2 37.8,126.2C38.0,121.1 38.7,79.9 38.9,69.1C39.2,58.3 39.8,38.7 40.1,33.6C40.4,28.5 41.1,25.8 41.3,25.4C41.5,24.9 41.9,25.7 42.1,29.7C42.3,33.6 42.7,54.2 42.9,59.2C43.1,64.3 43.5,69.8 43.7,73.0C43.9,76.2 44.4,86.8 44.6,86.8C44.9,86.8 45.4,76.0 45.6,73.0C45.9,70.1 46.5,62.1 46.8,61.6C47.1,61.1 47.7,67.1 48.0,69.1C48.3,71.1 48.9,79.1 49.2,78.9C49.5,78.7 50.1,69.6 50.4,67.1C50.6,64.6 51.3,57.9 51.5,57.3C51.8,56.6 52.4,60.1 52.7,61.2C53.0,62.3 53.6,67.6 53.9,67.1C54.2,66.7 54.9,59.3 55.1,57.3C55.3,55.2 55.6,51.3 55.9,49.4C56.1,47.4 56.8,40.5 57.0,40.5C57.3,40.5 58.0,47.0 58.2,49.4C58.5,51.8 59.1,60.3 59.4,61.2C59.7,62.1 60.3,57.9 60.6,57.3C60.9,56.6 61.5,54.3 61.8,55.3C62.1,56.3 63.0,65.7 63.4,66.1C63.7,66.6 64.3,63.0 64.5,59.2C64.8,55.4 65.4,38.5 65.7,33.6C66.0,28.8 66.6,18.3 66.9,17.9C67.2,17.4 67.8,24.2 68.1,29.7C68.4,35.2 69.0,61.5 69.3,65.1C69.5,68.8 70.2,63.5 70.4,61.2C70.7,58.9 71.0,49.6 71.2,45.4C71.5,41.3 72.1,29.0 72.4,25.8C72.7,22.5 73.3,15.1 73.6,17.9C73.9,20.6 74.6,40.0 74.8,49.4C75.0,58.8 75.4,89.0 75.6,98.6C75.7,108.3 76.1,131.0 76.3,132.1C76.6,133.2 77.3,115.8 77.5,108.5C77.8,101.1 78.4,76.0 78.7,69.1C79.0,62.2 79.6,52.1 79.9,49.4C80.2,46.6 80.8,44.1 81.1,45.4C81.4,46.8 82.0,58.8 82.3,61.2C82.5,63.6 83.2,66.8 83.4,66.1C83.7,65.4 84.3,56.7 84.6,55.3C84.9,53.9 85.5,54.2 85.8,54.3C86.1,54.4 86.7,56.6 87.0,56.3C87.3,55.9 87.9,52.4 88.2,51.4C88.4,50.3 89.1,46.7 89.3,47.4C89.6,48.1 90.3,55.0 90.5,57.3C90.8,59.6 91.4,65.7 91.7,67.1C92.0,68.5 92.6,68.6 92.9,69.1C93.2,69.5 93.8,71.1 94.1,71.1C94.4,71.1 95.0,69.5 95.3,69.1C95.5,68.6 96.2,67.5 96.4,67.1C96.7,66.8 97.3,65.9 97.6,66.1C97.9,66.3 98.5,68.2 98.8,69.1C99.1,70.0 99.7,74.2 100.0,74.0C100.3,73.8 100.9,69.1 101.2,67.1C101.4,65.2 102.1,57.9 102.3,57.3C102.6,56.6 103.3,59.4 103.5,61.2C103.8,63.0 104.4,72.1 104.7,73.0C105.0,73.9 105.6,70.1 105.9,69.1C106.2,68.0 106.8,65.0 107.1,64.2C107.3,63.4 108.0,61.6 108.2,62.2C108.5,62.8 109.2,68.5 109.4,69.1C109.7,69.7 110.3,68.0 110.6,67.1C110.9,66.2 111.5,62.5 111.8,61.2C112.1,59.9 112.7,54.9 113.0,56.3C113.3,57.7 113.9,72.4 114.2,73.0C114.4,73.6 115.1,63.0 115.3,61.2C115.6,59.4 116.3,58.4 116.5,57.3C116.8,56.1 117.4,51.8 117.7,51.4C118.0,50.9 118.6,52.2 118.9,53.3C119.2,54.5 119.8,60.7 120.1,61.2C120.3,61.7 121.0,59.1 121.2,57.3C121.5,55.4 122.2,46.1 122.4,45.4C122.7,44.8 123.3,49.5 123.6,51.4C123.9,53.2 124.5,58.7 124.8,61.2C125.1,63.7 125.7,72.6 126.0,73.0C126.3,73.5 126.9,67.1 127.2,65.1C127.4,63.2 128.1,57.4 128.3,56.3C128.6,55.1 129.2,54.9 129.5,55.3C129.8,55.6 130.4,58.9 130.7,59.2C131.0,59.6 131.6,58.5 131.9,58.2C132.2,58.0 132.8,56.9 133.1,57.3C133.3,57.6 134.0,60.2 134.2,61.2C134.5,62.2 135.2,65.2 135.4,66.1C135.7,67.0 136.3,69.2 136.6,69.1C136.9,69.0 137.5,66.2 137.8,65.1C138.1,64.1 138.7,60.4 139.0,60.2C139.3,60.0 139.9,62.1 140.2,63.2C140.4,64.2 141.1,68.9 141.3,69.1C141.6,69.3 142.2,66.3 142.5,65.1C142.8,64.0 143.4,60.8 143.7,59.2C144.0,57.6 144.6,52.7 144.9,51.4C145.2,50.0 145.8,46.7 146.1,47.4C146.3,48.1 147.0,54.0 147.2,57.3C147.5,60.5 148.1,74.5 148.4,75.0C148.6,75.4 149.3,64.2 149.5,61.2C149.8,58.2 150.5,51.9 150.7,49.4C151.0,46.9 151.3,39.5 151.5,39.5C151.7,39.5 152.1,46.6 152.3,49.4C152.5,52.1 153.2,61.1 153.5,63.2C153.8,65.2 154.4,67.6 154.7,67.1C154.9,66.7 155.6,60.4 155.8,59.2C156.1,58.1 156.8,57.7 157.0,57.3C157.3,56.8 157.9,55.9 158.2,55.3C158.5,54.7 159.1,52.1 159.4,52.3C159.7,52.6 160.3,56.1 160.6,57.3C160.8,58.4 161.5,62.0 161.8,62.2C162.0,62.4 162.7,60.0 162.9,59.2C163.2,58.4 163.8,56.0 164.1,55.3C164.4,54.6 165.0,52.7 165.3,53.3C165.6,53.9 166.2,59.3 166.5,60.2C166.8,61.1 167.4,61.8 167.7,61.2C167.9,60.6 168.6,56.2 168.8,55.3C169.1,54.4 169.8,53.1 170.0,53.3C170.3,53.5 170.9,56.1 171.2,57.3C171.5,58.4 172.1,62.7 172.4,63.2C172.7,63.6 173.3,61.9 173.6,61.2C173.8,60.5 174.5,57.0 174.8,57.3C175.0,57.5 175.7,61.8 175.9,63.2C176.2,64.5 176.8,68.2 177.1,69.1C177.4,70.0 178.0,71.3 178.3,71.1C178.6,70.8 179.2,68.5 179.5,67.1C179.8,65.7 180.4,60.8 180.7,59.2C180.9,57.6 181.6,53.8 181.8,53.3C182.1,52.9 182.7,54.1 183.0,55.3C183.3,56.4 183.9,62.5 184.2,63.2C184.5,63.9 185.1,61.9 185.4,61.2C185.7,60.5 186.3,58.2 186.6,57.3C186.8,56.3 187.5,52.9 187.8,53.3C188.0,53.8 188.7,59.4 188.9,61.2C189.2,63.0 189.8,68.4 190.1,69.1C190.4,69.8 191.0,68.0 191.3,67.1C191.6,66.2 192.2,62.1 192.5,61.2C192.7,60.3 193.4,58.8 193.7,59.2C193.9,59.7 194.6,64.2 194.8,65.1C195.1,66.1 195.7,66.9 196.0,67.1C196.3,67.3 196.9,67.3 197.2,67.1C197.5,66.9 198.1,65.0 198.4,65.1C198.7,65.3 199.3,68.0 199.6,68.1C199.8,68.2 200.5,66.5 200.8,66.1C201.0,65.8 201.7,65.3 201.9,65.1C202.2,65.0 202.8,65.6 203.1,65.1C203.4,64.7 204.0,62.2 204.3,61.2C204.6,60.2 205.2,57.2 205.5,56.3C205.7,55.4 206.4,53.3 206.7,53.3C206.9,53.3 207.6,55.8 207.8,56.3C208.1,56.7 208.7,56.9 209.0,57.3C209.3,57.6 209.9,59.1 210.2,59.2C210.5,59.3 211.1,57.8 211.4,58.2C211.7,58.7 212.3,62.1 212.6,63.2C212.8,64.2 213.5,67.1 213.7,67.1C214.0,67.1 214.6,63.9 214.9,63.2C215.2,62.5 215.8,61.0 216.1,61.2C216.4,61.4 217.0,64.9 217.3,65.1C217.6,65.4 218.2,63.9 218.5,63.2C218.7,62.5 219.4,60.3 219.7,59.2C219.9,58.2 220.6,54.8 220.8,54.3C221.1,53.9 221.7,54.5 222.0,55.3C222.3,56.1 222.9,60.2 223.2,61.2C223.5,62.2 224.1,64.4 224.4,64.2C224.7,63.9 225.3,60.0 225.6,59.2C225.8,58.4 226.5,56.8 226.7,57.3C227.0,57.7 227.6,61.8 227.9,63.2C228.2,64.5 228.8,68.2 229.1,69.1C229.4,70.0 230.0,71.7 230.3,71.1C230.6,70.4 231.2,64.3 231.5,63.2C231.7,62.0 232.4,60.5 232.7,61.2C232.9,61.9 233.6,67.5 233.8,69.1C234.1,70.7 234.7,75.2 235.0,75.0C235.3,74.8 235.9,68.9 236.2,67.1C236.5,65.3 237.1,60.7 237.4,59.2C237.6,57.7 238.3,54.5 238.6,54.3C238.8,54.1 239.5,56.3 239.7,57.3C240.0,58.2 240.6,61.5 240.9,62.2C241.2,62.9 241.8,63.2 242.1,63.2C242.4,63.2 243.0,62.0 243.3,62.2C243.6,62.4 244.2,64.6 244.5,65.1C244.7,65.7 245.4,67.1 245.7,67.1C245.9,67.1 246.6,65.6 246.8,65.1C247.1,64.7 247.7,63.4 248.0,63.2C248.3,62.9 248.9,63.3 249.2,63.2C249.5,63.1 250.1,62.2 250.4,62.2C250.6,62.2 251.3,63.2 251.6,63.2C251.8,63.2 252.5,62.0 252.7,62.2C253.0,62.4 253.6,65.0 253.9,65.1C254.2,65.3 254.8,62.9 255.1,63.2C255.4,63.4 256.0,66.4 256.3,67.1C256.6,67.8 257.2,69.3 257.5,69.1C257.7,68.9 258.4,65.9 258.6,65.1C258.9,64.3 259.5,62.6 259.8,62.2C260.1,61.7 260.7,61.5 261.0,61.2C261.3,60.9 261.9,60.1 262.2,59.2C262.5,58.3 263.1,54.7 263.4,53.3C263.6,51.9 264.3,47.4 264.6,47.4C264.8,47.4 265.5,51.5 265.7,53.3C266.0,55.2 266.6,62.0 266.9,63.2C267.2,64.3 267.8,62.8 268.1,63.2C268.4,63.5 269.0,65.5 269.3,66.1C269.6,66.7 270.2,67.7 270.5,68.1C270.7,68.4 271.4,69.7 271.6,69.1C271.9,68.5 272.4,64.2 272.7,63.2C273.0,62.1 273.6,60.0 273.9,60.2C274.2,60.5 274.8,63.9 275.1,65.1C275.3,66.4 276.0,70.3 276.2,71.1C276.5,71.9 276.8,72.5 277.0,72.0C277.2,71.6 277.6,68.8 277.8,67.1C278.0,65.4 278.4,59.0 278.6,57.3C278.8,55.5 279.5,52.6 279.8,52.4C280.1,52.1 280.7,54.5 281.0,55.3C281.2,56.1 281.9,59.0 282.1,59.2C282.4,59.5 283.1,57.6 283.3,57.3C283.6,56.9 284.2,56.1 284.5,56.3C284.8,56.5 285.4,58.7 285.7,59.2C286.0,59.8 286.7,61.0 286.9,61.2" fill="none" stroke="#ffa500" stroke-width="1.0" stroke-linejoin="round"/>
<path d="M36.18,108.46C36.3,103.9 36.8,77.1 37.0,69.1C37.2,61.0 37.6,44.7 37.8,39.5C37.9,34.4 38.4,21.3 38.5,24.8C38.7,28.2 39.1,58.2 39.3,69.1C39.5,80.0 39.9,111.4 40.1,118.3C40.3,125.2 40.7,127.0 40.9,128.2C41.1,129.3 41.8,129.1 42.1,128.2C42.4,127.2 43.0,121.7 43.3,120.3C43.5,118.9 43.8,116.1 44.1,116.3C44.3,116.6 45.0,120.9 45.2,122.2C45.5,123.6 46.1,127.7 46.4,128.2C46.7,128.6 47.3,126.0 47.6,126.2C47.9,126.4 48.5,129.9 48.8,130.1C49.1,130.4 49.7,128.3 50.0,128.2C50.2,128.0 50.9,129.3 51.1,129.1C51.4,129.0 52.1,127.3 52.3,127.2C52.6,127.1 53.2,128.1 53.5,128.2C53.8,128.2 54.4,127.6 54.7,127.8C55.0,127.9 55.6,129.1 55.9,129.1C56.1,129.2 56.8,128.0 57.0,128.2C57.3,128.3 58.0,130.1 58.2,130.1C58.5,130.1 59.1,128.8 59.4,128.2C59.7,127.5 60.3,124.9 60.6,124.2C60.9,123.5 61.8,122.9 62.2,122.2C62.5,121.6 63.1,118.1 63.4,118.3C63.6,118.5 64.3,123.1 64.5,124.2C64.8,125.4 65.4,127.6 65.7,128.2C66.0,128.7 66.6,129.1 66.9,129.1C67.2,129.1 67.8,128.5 68.1,128.2C68.4,127.8 69.0,126.6 69.3,126.2C69.5,125.7 70.2,124.0 70.4,124.2C70.7,124.4 71.4,127.6 71.6,128.2C71.9,128.7 72.6,129.1 72.8,129.1C73.0,129.1 73.4,128.5 73.6,128.2C73.8,127.8 74.2,133.1 74.4,126.2C74.6,119.3 75.0,80.3 75.2,69.1C75.4,57.8 75.8,35.7 76.0,29.7C76.1,23.7 76.6,13.3 76.8,17.9C76.9,22.5 77.3,56.2 77.5,69.1C77.7,81.9 78.1,122.2 78.3,128.2C78.5,134.1 78.9,120.7 79.1,120.3C79.3,119.8 79.7,125.6 79.9,124.2C80.1,122.8 80.8,110.8 81.1,108.5C81.4,106.2 82.0,103.6 82.3,104.5C82.5,105.4 83.2,113.6 83.4,116.3C83.7,119.1 84.3,127.0 84.6,128.2C84.9,129.3 85.5,126.9 85.8,126.2C86.1,125.5 86.7,122.1 87.0,122.2C87.3,122.4 87.9,126.4 88.2,127.2C88.4,128.0 89.1,129.1 89.3,129.1C89.6,129.1 90.3,127.5 90.5,127.2C90.8,126.8 91.4,126.1 91.7,126.2C92.0,126.3 92.6,127.7 92.9,128.2C93.2,128.6 93.8,130.1 94.1,130.1C94.4,130.1 95.0,128.6 95.3,128.2C95.5,127.7 96.1,126.2 96.4,126.2C96.8,126.2 97.7,128.5 98.0,128.2C98.3,127.8 98.9,123.2 99.2,123.2C99.5,123.2 100.1,127.4 100.4,128.2C100.7,129.0 101.3,129.9 101.6,130.1C101.8,130.4 102.5,130.7 102.7,130.5C103.0,130.3 103.6,128.2 103.9,128.2C104.2,128.1 104.8,130.0 105.1,130.1C105.4,130.2 106.0,129.6 106.3,129.1C106.6,128.7 107.2,126.3 107.5,126.2C107.7,126.1 108.4,127.7 108.7,128.2C108.9,128.6 109.6,130.0 109.8,130.1C110.1,130.2 110.7,129.4 111.0,129.1C111.3,128.9 111.9,129.2 112.2,128.2C112.5,127.1 113.1,121.1 113.4,120.3C113.6,119.5 114.3,120.6 114.6,121.3C114.8,121.9 115.5,125.4 115.7,126.2C116.0,127.0 116.6,127.8 116.9,128.2C117.2,128.5 117.8,129.2 118.1,129.1C118.4,129.1 119.0,128.1 119.3,127.8C119.6,127.4 120.2,126.1 120.5,126.2C120.7,126.2 121.4,128.0 121.7,128.2C121.9,128.3 122.6,127.1 122.8,127.2C123.1,127.2 123.7,128.4 124.0,128.6C124.3,128.7 124.9,128.1 125.2,128.2C125.5,128.2 126.1,129.0 126.4,129.1C126.6,129.3 127.3,129.0 127.5,129.1C127.8,129.3 128.5,130.2 128.7,130.1C129.0,130.0 129.6,128.3 129.9,128.2C130.2,128.0 130.8,129.1 131.1,129.1C131.4,129.1 132.0,128.4 132.3,128.2C132.6,127.9 133.2,127.1 133.5,127.2C133.7,127.3 134.4,129.3 134.6,129.1C134.9,129.0 135.5,126.9 135.8,126.2C136.1,125.5 136.7,123.7 137.0,123.2C137.3,122.8 137.9,121.9 138.2,122.2C138.5,122.6 139.1,126.3 139.4,126.2C139.6,126.1 140.3,122.3 140.6,121.3C140.8,120.2 141.5,118.1 141.7,117.3C142.0,116.5 142.6,113.9 142.9,114.4C143.2,114.8 143.8,119.9 144.1,121.3C144.4,122.6 145.0,125.4 145.3,126.2C145.6,127.0 146.2,128.6 146.5,128.2C146.7,127.7 147.4,123.2 147.6,122.2C147.9,121.3 148.1,120.2 148.4,120.3C148.6,120.4 149.3,122.3 149.5,123.2C149.8,124.1 150.5,127.7 150.7,128.2C151.0,128.6 151.6,127.1 151.9,127.2C152.2,127.3 152.8,128.8 153.1,129.1C153.4,129.5 154.0,130.4 154.3,130.1C154.5,129.9 155.2,127.4 155.4,127.2C155.7,126.9 156.4,127.9 156.6,128.2C156.9,128.4 157.5,129.3 157.8,129.1C158.1,129.0 158.7,127.3 159.0,127.2C159.3,127.1 159.9,128.3 160.2,128.2C160.5,128.0 161.1,126.5 161.4,126.2C161.6,125.8 162.3,125.1 162.5,125.2C162.8,125.3 163.4,126.8 163.7,127.2C164.0,127.5 164.6,127.8 164.9,128.2C165.2,128.5 165.8,130.0 166.1,130.1C166.4,130.2 167.0,129.3 167.3,129.1C167.5,129.0 168.2,129.3 168.4,129.1C168.7,129.0 169.4,128.2 169.6,128.2C169.9,128.2 170.5,129.1 170.8,129.1C171.1,129.1 171.7,128.3 172.0,128.2C172.3,128.0 172.9,128.3 173.2,128.2C173.5,128.0 174.1,127.4 174.4,127.2C174.6,126.9 175.3,126.5 175.5,126.2C175.8,125.8 176.4,124.7 176.7,124.2C177.0,123.8 177.6,122.2 177.9,122.2C178.2,122.2 178.8,123.8 179.1,124.2C179.4,124.7 180.0,125.7 180.3,126.2C180.5,126.6 181.2,128.3 181.4,128.2C181.7,128.0 182.4,125.4 182.6,125.2C182.9,125.0 183.5,125.7 183.8,126.2C184.1,126.6 184.7,129.1 185.0,129.1C185.3,129.1 185.9,126.8 186.2,126.2C186.4,125.6 187.1,124.0 187.3,124.2C187.6,124.4 188.3,128.2 188.5,128.2C188.8,128.2 189.4,125.0 189.7,124.2C190.0,123.4 190.6,121.7 190.9,121.3C191.2,120.8 191.8,119.5 192.1,120.3C192.4,121.1 193.0,127.5 193.3,128.2C193.5,128.8 194.2,126.9 194.4,126.2C194.7,125.5 195.4,122.5 195.6,122.2C195.9,122.0 196.5,124.1 196.8,124.2C197.1,124.3 197.7,123.7 198.0,123.2C198.3,122.8 198.9,120.4 199.2,120.3C199.4,120.2 200.1,122.5 200.3,122.2C200.6,122.0 201.3,118.3 201.5,118.3C201.8,118.3 202.4,121.3 202.7,122.2C203.0,123.2 203.6,125.5 203.9,126.2C204.2,126.9 204.8,128.0 205.1,128.2C205.4,128.3 206.0,127.8 206.3,127.8C206.5,127.8 207.2,128.0 207.4,128.2C207.7,128.3 208.3,128.9 208.6,129.1C208.9,129.4 209.5,130.2 209.8,130.1C210.1,130.0 210.7,128.6 211.0,128.2C211.3,127.7 211.9,126.2 212.2,126.2C212.4,126.2 213.1,128.5 213.3,128.2C213.6,127.8 214.3,123.9 214.5,123.2C214.8,122.5 215.4,121.9 215.7,122.2C216.0,122.6 216.6,125.5 216.9,126.2C217.2,126.9 217.8,127.8 218.1,128.2C218.4,128.5 219.0,129.4 219.3,129.1C219.5,128.9 220.2,126.8 220.4,126.2C220.7,125.6 221.3,124.0 221.6,124.2C221.9,124.4 222.5,127.9 222.8,128.2C223.1,128.4 223.7,126.0 224.0,126.2C224.3,126.4 224.9,129.9 225.2,130.1C225.4,130.4 226.1,128.6 226.3,128.2C226.6,127.7 227.3,126.2 227.5,126.2C227.8,126.2 228.4,128.2 228.7,128.2C229.0,128.2 229.6,126.5 229.9,126.2C230.2,125.8 230.8,125.2 231.1,125.2C231.3,125.2 232.0,126.4 232.2,126.2C232.5,126.0 233.2,123.8 233.4,123.2C233.7,122.7 234.3,121.4 234.6,121.3C234.9,121.1 235.5,122.0 235.8,122.2C236.1,122.5 236.7,123.0 237.0,123.2C237.3,123.5 237.9,123.9 238.2,124.2C238.4,124.6 239.1,126.2 239.3,126.2C239.6,126.2 240.3,124.2 240.5,124.2C240.8,124.2 241.4,125.7 241.7,126.2C242.0,126.6 242.6,128.0 242.9,128.2C243.2,128.3 243.8,127.2 244.1,127.2C244.3,127.2 245.0,128.4 245.2,128.2C245.5,127.9 246.2,125.2 246.4,125.2C246.7,125.2 247.3,127.7 247.6,128.2C247.9,128.6 248.5,129.4 248.8,129.1C249.1,128.9 249.7,126.3 250.0,126.2C250.3,126.1 250.9,127.8 251.2,128.2C251.4,128.5 252.1,129.3 252.3,129.1C252.6,129.0 253.2,127.6 253.5,127.2C253.8,126.7 254.4,125.3 254.7,125.2C255.0,125.1 255.6,126.5 255.9,126.2C256.2,125.8 256.8,122.6 257.1,122.2C257.3,121.9 258.0,123.3 258.2,123.2C258.5,123.1 259.2,121.1 259.4,121.3C259.7,121.4 260.3,123.4 260.6,124.2C260.9,125.0 261.5,127.6 261.8,128.2C262.1,128.7 262.7,129.4 263.0,129.1C263.3,128.9 263.9,126.3 264.2,126.2C264.4,126.1 265.1,128.4 265.3,128.2C265.6,127.9 266.2,124.4 266.5,124.2C266.8,124.0 267.4,125.7 267.7,126.2C268.0,126.6 268.6,128.4 268.9,128.2C269.2,127.9 269.8,124.0 270.1,124.2C270.3,124.4 270.9,129.7 271.2,130.1C271.6,130.6 272.4,128.2 272.7,128.2C273.0,128.2 273.6,129.8 273.9,130.1C274.2,130.5 274.8,131.1 275.1,131.1C275.3,131.2 276.0,130.8 276.2,130.5C276.5,130.3 277.1,129.1 277.4,129.2C277.7,129.2 278.3,131.2 278.6,131.1C278.9,131.0 279.5,128.8 279.8,128.2C280.1,127.6 280.7,126.2 281.0,126.2C281.2,126.2 281.9,127.5 282.1,128.2C282.4,128.9 283.1,132.1 283.3,132.1C283.6,132.1 284.3,129.6 284.5,128.2C284.7,126.8 285.1,122.6 285.3,120.3C285.5,118.0 285.9,110.2 286.1,108.5C286.3,106.8 286.8,105.9 286.9,105.5" fill="none" stroke="#0000ff" stroke-width="1.0" stroke-linejoin="round"/>
<line x1="38.29" y1="11.35" x2="38.29" y2="138.3" stroke="#ff0000" stroke-width="1.0" stroke-dasharray="3,0.95"/>
<line x1="75.92" y1="11.35" x2="75.92" y2="138.3" stroke="#ff0000" stroke-width="1.0" stroke-dasharray="3,0.95"/>
<line x1="113.55" y1="11.35" x2="113.55" y2="138.3" stroke="#ff0000" stroke-width="1.0" stroke-dasharray="3,0.95"/>
<line x1="151.17" y1="11.35" x2="151.17" y2="138.3" stroke="#ff0000" stroke-width="1.0" stroke-dasharray="3,0.95"/>
</g>
<line x1="298.9" y1="11.35" x2="24.0" y2="11.35" stroke="#000" stroke-width="1.1"/>
<line x1="24.45" y1="10.799999999999999" x2="24.45" y2="139.10000000000002" stroke="#000" stroke-width="1.3"/>
<line x1="23.8" y1="138.45000000000002" x2="298.9" y2="138.45000000000002" stroke="#000" stroke-width="1.3"/>
<line x1="298.9" y1="10.85" x2="298.9" y2="138.8" stroke="#0000ff" stroke-width="1.7"/>
<line x1="36.50" y1="138.3" x2="36.50" y2="140.0" stroke="#000" stroke-width="0.8"/>
<text x="36.50" y="146.80" font-size="7.2" text-anchor="middle">8</text>
<line x1="72.34" y1="138.3" x2="72.34" y2="140.0" stroke="#000" stroke-width="0.8"/>
<text x="72.34" y="146.80" font-size="7.2" text-anchor="middle">16</text>
<line x1="108.17" y1="138.3" x2="108.17" y2="140.0" stroke="#000" stroke-width="0.8"/>
<text x="108.17" y="146.80" font-size="7.2" text-anchor="middle">24</text>
<line x1="144.01" y1="138.3" x2="144.01" y2="140.0" stroke="#000" stroke-width="0.8"/>
<text x="144.01" y="146.80" font-size="7.2" text-anchor="middle">32</text>
<line x1="179.84" y1="138.3" x2="179.84" y2="140.0" stroke="#000" stroke-width="0.8"/>
<text x="179.84" y="146.80" font-size="7.2" text-anchor="middle">40</text>
<line x1="215.68" y1="138.3" x2="215.68" y2="140.0" stroke="#000" stroke-width="0.8"/>
<text x="215.68" y="146.80" font-size="7.2" text-anchor="middle">48</text>
<line x1="251.51" y1="138.3" x2="251.51" y2="140.0" stroke="#000" stroke-width="0.8"/>
<text x="251.51" y="146.80" font-size="7.2" text-anchor="middle">56</text>
<line x1="287.35" y1="138.3" x2="287.35" y2="140.0" stroke="#000" stroke-width="0.8"/>
<text x="287.35" y="146.80" font-size="7.2" text-anchor="middle">64</text>
<text x="161.6" y="154.80" font-size="7.2" text-anchor="middle">Frequency</text>
<text x="161.6" y="8.65" font-size="8.6" text-anchor="middle">Real part</text>
<line x1="22.599999999999998" y1="63.60" x2="24.2" y2="63.60" stroke="#000" stroke-width="0.8"/>
<text x="21.599999999999998" y="66.50" font-size="7.2" text-anchor="end">0</text>
<line x1="22.599999999999998" y1="118.70" x2="24.2" y2="118.70" stroke="#000" stroke-width="0.8"/>
<text x="21.599999999999998" y="121.60" font-size="7.2" text-anchor="end">−1</text>
<text transform="translate(7.6,74.83) rotate(-90)" font-size="7.2" text-anchor="middle">Amplitude</text>
<line x1="298.9" y1="132.53" x2="300.5" y2="132.53" stroke="#0000ff" stroke-width="0.8"/>
<text x="301.7" y="135.53" font-size="7.2" fill="#0000ff" class="b">0.0</text>
<line x1="298.9" y1="109.45" x2="300.5" y2="109.45" stroke="#0000ff" stroke-width="0.8"/>
<text x="301.7" y="112.45" font-size="7.2" fill="#0000ff" class="b">0.2</text>
<line x1="298.9" y1="86.37" x2="300.5" y2="86.37" stroke="#0000ff" stroke-width="0.8"/>
<text x="301.7" y="89.37" font-size="7.2" fill="#0000ff" class="b">0.4</text>
<line x1="298.9" y1="63.28" x2="300.5" y2="63.28" stroke="#0000ff" stroke-width="0.8"/>
<text x="301.7" y="66.28" font-size="7.2" fill="#0000ff" class="b">0.6</text>
<line x1="298.9" y1="40.20" x2="300.5" y2="40.20" stroke="#0000ff" stroke-width="0.8"/>
<text x="301.7" y="43.20" font-size="7.2" fill="#0000ff" class="b">0.8</text>
<line x1="298.9" y1="17.12" x2="300.5" y2="17.12" stroke="#0000ff" stroke-width="0.8"/>
<text x="301.7" y="20.12" font-size="7.2" fill="#0000ff" class="b">1.0</text>
<text transform="translate(319.9,74.83) rotate(-90)" font-size="7.2" text-anchor="middle" fill="#0000ff" class="b">Weight</text>
<rect x="24.2" y="171.5" width="274.7" height="126.80000000000001" fill="#fff"/>
<clipPath id="clipc1"><rect x="24.2" y="171.5" width="274.7" height="126.80000000000001"/></clipPath>
<g clip-path="url(#clipc1)">
<path d="M36.18,262.56C36.3,258.7 37.1,236.4 37.4,229.1C37.6,221.7 38.0,205.5 38.1,199.5C38.3,193.6 38.8,180.5 38.9,177.9C39.1,175.2 39.5,176.9 39.7,176.9C39.9,176.9 40.3,175.2 40.5,177.9C40.7,180.5 41.1,192.4 41.3,199.5C41.5,206.7 41.9,232.9 42.1,238.9C42.3,244.9 42.7,251.0 42.9,250.7C43.1,250.5 43.5,240.4 43.7,237.0C43.8,233.5 44.2,224.0 44.5,221.2C44.7,218.4 45.4,213.5 45.6,213.3C45.9,213.1 46.5,217.6 46.8,219.2C47.1,220.8 47.7,227.3 48.0,227.1C48.3,226.9 48.9,219.1 49.2,217.3C49.5,215.4 50.1,211.6 50.4,211.4C50.6,211.1 51.3,214.3 51.5,215.3C51.8,216.3 52.4,220.4 52.7,220.2C53.0,220.0 53.6,214.8 53.9,213.3C54.2,211.8 54.8,207.4 55.1,207.4C55.4,207.4 56.0,210.3 56.3,213.3C56.5,216.3 57.2,231.2 57.5,233.0C57.7,234.9 58.4,230.2 58.6,229.1C58.9,227.9 59.5,223.9 59.8,223.2C60.1,222.5 60.7,222.8 61.0,223.2C61.3,223.5 61.9,227.0 62.2,226.1C62.4,225.2 63.1,217.7 63.4,215.3C63.6,212.9 64.3,206.9 64.5,205.5C64.8,204.0 65.1,201.3 65.3,202.5C65.5,203.6 66.2,210.4 66.5,215.3C66.8,220.2 67.5,240.2 67.7,244.8C67.9,249.4 68.2,255.8 68.5,254.7C68.7,253.5 69.4,239.1 69.7,235.0C69.9,230.9 70.6,219.9 70.8,219.2C71.1,218.5 71.8,224.5 72.0,229.1C72.2,233.7 72.6,251.7 72.8,258.6C73.0,265.5 73.4,291.6 73.6,288.2C73.8,284.7 74.2,240.1 74.4,229.1C74.6,218.1 74.9,186.7 75.2,193.6C75.4,200.5 76.1,287.5 76.3,288.2C76.6,288.8 77.3,211.0 77.5,199.5C77.8,188.1 78.4,189.9 78.7,189.7C79.0,189.5 79.6,193.0 79.9,197.6C80.2,202.2 80.8,225.9 81.1,229.1C81.4,232.3 82.0,226.1 82.3,225.1C82.5,224.2 83.2,221.4 83.4,221.2C83.7,221.0 84.3,222.3 84.6,223.2C84.9,224.1 85.5,228.6 85.8,229.1C86.1,229.5 86.7,227.1 87.0,227.1C87.3,227.1 87.9,227.9 88.2,229.1C88.4,230.2 89.1,235.1 89.3,237.0C89.6,238.8 90.3,244.6 90.5,244.8C90.8,245.1 91.4,240.3 91.7,238.9C92.0,237.5 92.6,233.9 92.9,233.0C93.2,232.1 93.8,231.5 94.1,231.0C94.4,230.6 95.0,229.2 95.3,229.1C95.5,229.0 96.2,230.1 96.4,230.1C96.7,230.1 97.3,229.0 97.6,229.1C97.9,229.2 98.5,231.5 98.8,231.0C99.1,230.6 99.7,226.3 100.0,225.1C100.3,224.0 100.9,221.9 101.2,221.2C101.4,220.5 101.8,219.0 102.0,219.2C102.1,219.5 102.5,222.0 102.7,223.2C103.0,224.3 103.6,228.2 103.9,229.1C104.2,230.0 104.8,231.5 105.1,231.0C105.4,230.6 106.0,226.2 106.3,225.1C106.6,224.1 107.2,222.2 107.5,222.2C107.7,222.2 108.4,225.0 108.7,225.1C108.9,225.3 109.6,223.7 109.8,223.2C110.1,222.6 110.7,220.7 111.0,220.2C111.3,219.8 111.9,218.2 112.2,219.2C112.5,220.3 113.1,228.6 113.4,229.1C113.6,229.5 114.3,224.5 114.6,223.2C114.8,221.8 115.5,218.2 115.7,217.3C116.0,216.3 116.6,214.8 116.9,215.3C117.2,215.7 117.8,220.1 118.1,221.2C118.4,222.3 119.0,225.1 119.3,225.1C119.6,225.1 120.2,221.4 120.5,221.2C120.7,221.0 121.4,221.8 121.7,223.2C121.9,224.5 122.6,230.6 122.8,233.0C123.1,235.4 123.7,243.6 124.0,243.9C124.3,244.1 124.9,237.2 125.2,235.0C125.5,232.8 126.1,226.6 126.4,225.1C126.6,223.6 127.3,222.2 127.5,222.2C127.8,222.2 128.5,224.3 128.7,225.1C129.0,225.9 129.6,228.7 129.9,229.1C130.2,229.4 130.8,228.3 131.1,228.1C131.4,227.9 132.0,227.0 132.3,227.1C132.6,227.2 133.2,228.4 133.5,229.1C133.7,229.8 134.4,232.3 134.6,233.0C134.9,233.7 135.5,235.2 135.8,235.0C136.1,234.8 136.7,232.0 137.0,231.0C137.3,230.1 137.9,227.8 138.2,227.1C138.5,226.4 139.1,225.5 139.4,225.1C139.6,224.8 140.3,223.9 140.6,224.2C140.8,224.4 141.5,227.5 141.7,227.1C142.0,226.8 142.6,222.3 142.9,221.2C143.2,220.1 143.8,217.3 144.1,217.3C144.4,217.3 145.0,219.1 145.3,221.2C145.6,223.3 146.2,233.2 146.5,235.0C146.7,236.8 146.9,239.6 147.2,237.0C147.6,234.3 148.8,215.3 149.2,212.3C149.5,209.4 149.7,209.9 149.9,211.4C150.2,212.8 150.8,221.7 151.1,225.1C151.4,228.6 152.0,239.7 152.3,240.9C152.6,242.0 153.2,236.5 153.5,235.0C153.8,233.5 154.4,229.1 154.7,228.1C154.9,227.1 155.6,226.2 155.8,226.1C156.1,226.0 156.8,227.0 157.0,227.1C157.3,227.2 157.9,226.7 158.2,227.1C158.5,227.6 159.1,230.4 159.4,231.0C159.7,231.7 160.3,233.2 160.6,233.0C160.8,232.8 161.5,229.7 161.8,229.1C162.0,228.5 162.7,227.9 162.9,228.1C163.2,228.3 163.8,230.2 164.1,231.0C164.4,231.9 165.0,235.2 165.3,235.0C165.6,234.8 166.2,229.9 166.5,229.1C166.8,228.3 167.4,228.3 167.7,228.1C167.9,227.9 168.6,226.5 168.8,227.1C169.1,227.7 169.8,232.1 170.0,233.0C170.3,233.9 170.9,235.2 171.2,235.0C171.5,234.8 172.1,231.7 172.4,231.0C172.7,230.4 173.3,228.9 173.6,229.1C173.8,229.3 174.5,231.9 174.8,233.0C175.0,234.2 175.7,238.7 175.9,238.9C176.2,239.1 176.8,235.9 177.1,235.0C177.4,234.1 178.0,232.1 178.3,231.0C178.6,230.0 179.2,227.0 179.5,226.1C179.8,225.2 180.4,223.3 180.7,223.2C180.9,223.1 181.6,224.2 181.8,225.1C182.1,226.1 182.7,229.9 183.0,231.0C183.3,232.2 183.9,235.0 184.2,235.0C184.5,235.0 185.1,232.0 185.4,231.0C185.7,230.1 186.3,227.3 186.6,227.1C186.8,226.9 187.5,227.7 187.8,229.1C188.0,230.5 188.7,238.5 188.9,238.9C189.2,239.4 189.8,234.2 190.1,233.0C190.4,231.9 191.0,229.8 191.3,229.1C191.6,228.4 192.2,226.9 192.5,227.1C192.7,227.3 193.4,230.4 193.7,231.0C193.9,231.7 194.6,233.0 194.8,233.0C195.1,233.0 195.7,231.5 196.0,231.0C196.3,230.6 196.9,229.4 197.2,229.1C197.5,228.7 198.1,228.3 198.4,228.1C198.7,227.9 199.3,227.1 199.6,227.1C199.8,227.1 200.5,228.2 200.8,228.1C201.0,228.0 201.7,226.5 201.9,226.1C202.2,225.8 202.8,225.5 203.1,225.1C203.4,224.8 204.0,223.5 204.3,223.2C204.6,222.8 205.2,221.7 205.5,222.2C205.7,222.6 206.4,226.2 206.7,227.1C206.9,228.0 207.6,229.4 207.8,230.1C208.1,230.7 208.7,232.4 209.0,233.0C209.3,233.6 209.9,235.0 210.2,235.0C210.5,235.0 211.1,233.5 211.4,233.0C211.7,232.6 212.3,231.5 212.6,231.0C212.8,230.6 213.5,229.4 213.7,229.1C214.0,228.7 214.6,228.0 214.9,228.1C215.2,228.2 215.8,229.7 216.1,230.1C216.4,230.4 217.0,231.4 217.3,231.0C217.6,230.7 218.2,227.8 218.5,227.1C218.7,226.4 219.4,224.9 219.7,225.1C219.9,225.4 220.6,228.2 220.8,229.1C221.1,230.0 221.7,232.4 222.0,233.0C222.3,233.6 222.9,234.2 223.2,234.0C223.5,233.8 224.1,231.7 224.4,231.0C224.7,230.4 225.3,228.1 225.6,228.1C225.8,228.1 226.5,230.0 226.7,231.0C227.0,232.1 227.6,236.7 227.9,237.0C228.2,237.2 228.8,233.9 229.1,233.0C229.4,232.1 230.0,229.8 230.3,229.1C230.6,228.4 231.2,227.1 231.5,227.1C231.7,227.1 232.4,229.1 232.7,229.1C232.9,229.1 233.6,227.8 233.8,227.1C234.1,226.4 234.7,224.1 235.0,223.2C235.3,222.3 236.0,219.8 236.2,219.2C236.4,218.7 236.8,218.0 237.0,218.2C237.2,218.5 237.5,219.9 237.8,221.2C238.0,222.5 238.7,227.7 238.9,229.1C239.2,230.5 239.9,232.8 240.1,233.0C240.4,233.2 241.0,231.4 241.3,231.0C241.6,230.7 242.2,229.8 242.5,230.1C242.8,230.3 243.4,232.9 243.7,233.0C244.0,233.1 244.6,231.5 244.9,231.0C245.1,230.6 245.8,229.4 246.0,229.1C246.3,228.7 246.9,228.2 247.2,228.1C247.5,228.0 248.1,228.0 248.4,228.1C248.7,228.2 249.3,229.0 249.6,229.1C249.9,229.1 250.5,228.7 250.8,228.7C251.0,228.7 251.7,228.9 251.9,229.1C252.2,229.2 252.9,230.1 253.1,230.1C253.4,230.1 254.0,229.0 254.3,229.1C254.6,229.2 255.2,231.2 255.5,231.0C255.8,230.9 256.4,228.8 256.7,228.1C256.9,227.4 257.6,225.7 257.9,225.1C258.1,224.6 258.8,223.3 259.0,223.2C259.3,223.1 259.9,224.3 260.2,224.2C260.5,224.0 261.1,222.5 261.4,222.2C261.7,221.8 262.3,221.1 262.6,221.2C262.9,221.3 263.5,221.8 263.8,223.2C264.0,224.5 264.7,231.2 264.9,233.0C265.2,234.9 265.9,238.7 266.1,238.9C266.4,239.1 267.0,235.8 267.3,235.0C267.6,234.2 268.2,232.3 268.5,232.0C268.8,231.8 269.4,233.4 269.7,233.0C269.9,232.7 270.5,230.1 270.9,229.1C271.2,228.0 272.0,224.5 272.3,224.2C272.6,223.8 272.9,225.6 273.1,226.1C273.3,226.7 274.0,228.3 274.3,229.1C274.5,229.9 275.2,233.5 275.4,233.0C275.7,232.6 276.1,226.8 276.2,225.1C276.4,223.5 276.8,220.2 277.0,219.2C277.3,218.3 277.9,216.9 278.2,217.3C278.5,217.6 279.1,220.8 279.4,222.2C279.7,223.6 280.3,228.1 280.6,229.1C280.9,230.1 281.5,231.2 281.8,231.1C282.0,230.9 282.7,228.3 282.9,228.1C283.2,227.9 283.8,228.6 284.1,229.1C284.4,229.5 285.0,231.4 285.3,232.0C285.6,232.7 286.3,234.7 286.5,235.0" fill="none" stroke="#ffa500" stroke-width="1.0" stroke-linejoin="round"/>
<path d="M36.18,199.54C36.3,200.7 36.8,203.2 37.0,209.4C37.2,215.6 37.6,244.0 37.8,252.7C37.9,261.4 38.4,281.2 38.5,284.2C38.7,287.2 39.1,278.8 39.3,278.3C39.5,277.9 39.9,279.8 40.1,280.3C40.3,280.7 40.7,282.7 40.9,282.2C41.1,281.8 41.5,278.4 41.7,276.3C41.9,274.3 42.3,264.5 42.5,264.5C42.7,264.5 43.1,273.6 43.3,276.3C43.5,279.1 43.9,287.2 44.1,288.2C44.2,289.1 44.7,284.4 44.8,284.2C45.0,284.0 45.4,285.6 45.6,286.2C45.9,286.8 46.5,289.4 46.8,289.1C47.1,288.9 47.8,284.3 48.0,284.2C48.2,284.1 48.6,287.5 48.8,288.2C49.0,288.8 49.7,290.0 50.0,290.1C50.2,290.2 50.9,289.4 51.1,289.1C51.4,288.9 52.1,287.6 52.3,287.8C52.6,287.9 53.2,289.9 53.5,290.1C53.8,290.4 54.4,289.8 54.7,289.7C55.0,289.6 55.6,289.4 55.9,289.3C56.1,289.3 56.8,289.3 57.0,289.1C57.3,289.0 58.0,288.5 58.2,288.2C58.5,287.8 59.1,286.8 59.4,286.2C59.7,285.6 60.3,283.0 60.6,283.2C60.9,283.5 61.5,287.8 61.8,288.2C62.1,288.5 62.7,287.0 63.0,286.2C63.2,285.4 63.9,281.5 64.1,281.3C64.4,281.0 65.0,283.4 65.3,284.2C65.6,285.0 66.2,288.2 66.5,288.2C66.8,288.2 67.4,285.1 67.7,284.2C68.0,283.3 68.6,280.3 68.9,280.3C69.1,280.3 69.8,284.2 70.0,284.2C70.3,284.2 71.0,279.8 71.2,280.3C71.5,280.7 72.1,294.1 72.4,288.2C72.7,282.2 73.4,241.0 73.6,229.1C73.8,217.1 74.2,191.8 74.4,185.8C74.6,179.7 75.0,171.8 75.2,176.9C75.4,181.9 75.8,216.8 76.0,229.1C76.1,241.4 76.6,275.4 76.8,282.2C76.9,289.1 77.3,287.9 77.5,288.2C77.7,288.4 78.1,285.1 78.3,284.2C78.5,283.3 78.9,281.9 79.1,280.3C79.3,278.7 80.1,270.4 80.3,270.4C80.5,270.4 80.9,278.2 81.1,280.3C81.3,282.3 82.0,287.5 82.3,288.2C82.5,288.8 83.2,286.2 83.4,286.2C83.7,286.2 84.3,288.4 84.6,288.2C84.9,287.9 85.5,285.1 85.8,284.2C86.1,283.3 86.7,280.1 87.0,280.3C87.3,280.5 87.9,285.7 88.2,286.2C88.4,286.6 89.1,284.9 89.3,284.2C89.6,283.5 90.3,280.3 90.5,280.3C90.8,280.3 91.4,283.3 91.7,284.2C92.0,285.1 92.6,287.5 92.9,288.2C93.2,288.8 93.8,290.0 94.1,290.1C94.4,290.2 95.0,289.5 95.3,289.1C95.5,288.8 96.2,287.3 96.4,287.2C96.7,287.1 97.3,287.9 97.6,288.2C97.9,288.4 98.5,289.1 98.8,289.1C99.1,289.1 99.7,288.0 100.0,288.2C100.3,288.3 100.9,290.0 101.2,290.1C101.4,290.2 102.1,289.4 102.3,289.1C102.6,288.9 103.3,288.0 103.5,288.2C103.8,288.3 104.4,290.0 104.7,290.1C105.0,290.2 105.6,289.6 105.9,289.1C106.2,288.7 106.8,286.8 107.1,286.2C107.3,285.6 108.0,284.0 108.2,284.2C108.5,284.4 109.2,287.9 109.4,288.2C109.7,288.4 110.3,286.8 110.6,286.2C110.9,285.6 111.5,283.9 111.8,283.2C112.1,282.5 112.7,280.3 113.0,280.3C113.3,280.3 113.9,282.2 114.2,283.2C114.4,284.3 115.1,288.3 115.3,289.1C115.6,289.9 116.3,290.5 116.5,290.1C116.8,289.8 117.4,286.9 117.7,286.2C118.0,285.5 118.6,284.0 118.9,284.2C119.2,284.4 119.8,287.5 120.1,288.2C120.3,288.8 121.0,290.1 121.2,290.1C121.5,290.1 122.2,288.7 122.4,288.2C122.7,287.6 123.3,285.4 123.6,285.2C123.9,285.0 124.5,285.7 124.8,286.2C125.1,286.6 125.7,288.9 126.0,289.1C126.3,289.4 126.9,288.5 127.2,288.2C127.4,287.8 128.1,286.6 128.3,286.2C128.6,285.7 129.2,284.0 129.5,284.2C129.8,284.4 130.4,287.5 130.7,288.2C131.0,288.8 131.6,290.1 131.9,290.1C132.2,290.1 132.8,288.3 133.1,288.2C133.3,288.0 134.0,289.3 134.2,289.1C134.5,289.0 135.2,287.5 135.4,287.2C135.7,286.8 136.3,286.1 136.6,286.2C136.9,286.3 137.5,288.2 137.8,288.2C138.1,288.2 138.7,287.1 139.0,286.2C139.3,285.3 139.9,281.5 140.2,280.3C140.4,279.0 141.1,275.4 141.3,275.4C141.6,275.4 142.2,278.8 142.5,280.3C142.8,281.8 143.4,287.0 143.7,288.2C144.0,289.3 144.6,290.4 144.9,290.1C145.2,289.9 145.8,287.1 146.1,286.2C146.3,285.3 147.0,281.8 147.2,282.2C147.5,282.7 148.1,289.6 148.4,290.1C148.6,290.7 149.3,287.9 149.5,287.2C149.8,286.5 150.5,285.0 150.7,284.2C151.0,283.4 151.7,281.7 151.9,280.3C152.1,278.9 152.5,272.9 152.7,272.4C152.9,271.9 153.3,275.0 153.5,276.3C153.7,277.7 154.4,283.4 154.7,284.2C154.9,285.0 155.6,283.1 155.8,283.2C156.1,283.3 156.8,285.1 157.0,285.2C157.3,285.3 157.9,284.1 158.2,284.2C158.5,284.3 159.1,286.1 159.4,286.2C159.7,286.3 160.3,285.0 160.6,285.2C160.8,285.4 161.5,287.6 161.8,288.2C162.0,288.7 162.7,290.1 162.9,290.1C163.2,290.1 163.8,288.6 164.1,288.2C164.4,287.7 165.0,286.2 165.3,286.2C165.6,286.2 166.2,288.5 166.5,288.2C166.8,287.8 167.4,283.9 167.7,283.2C167.9,282.5 168.6,282.1 168.8,282.2C169.1,282.4 169.8,283.8 170.0,284.2C170.3,284.7 170.9,286.2 171.2,286.2C171.5,286.2 172.1,284.3 172.4,284.2C172.7,284.1 173.3,285.3 173.6,285.2C173.8,285.1 174.5,283.5 174.8,283.2C175.0,283.0 175.7,283.0 175.9,283.2C176.2,283.5 176.8,284.6 177.1,285.2C177.4,285.8 178.0,287.5 178.3,288.2C178.6,288.8 179.2,290.9 179.5,291.1C179.8,291.3 180.4,290.4 180.7,290.1C180.9,289.9 181.6,289.1 181.8,289.1C182.1,289.1 182.7,290.9 183.0,290.1C183.3,289.3 183.9,282.9 184.2,282.2C184.5,281.6 185.1,283.5 185.4,284.2C185.7,284.9 186.3,287.7 186.6,288.2C186.8,288.6 187.5,289.1 187.8,288.2C188.0,287.2 188.7,282.0 188.9,280.3C189.2,278.6 189.8,273.4 190.1,273.4C190.4,273.4 191.0,278.6 191.3,280.3C191.6,282.0 192.2,287.7 192.5,288.2C192.7,288.6 193.4,285.1 193.7,284.2C193.9,283.3 194.6,280.4 194.8,280.3C195.1,280.2 195.7,283.0 196.0,283.2C196.3,283.5 196.9,282.1 197.2,282.2C197.5,282.4 198.1,284.2 198.4,284.2C198.7,284.2 199.3,282.2 199.6,282.2C199.8,282.2 200.5,283.8 200.8,284.2C201.0,284.7 201.7,285.7 201.9,286.2C202.2,286.6 202.8,287.8 203.1,288.2C203.4,288.5 204.0,289.1 204.3,289.1C204.6,289.1 205.2,288.5 205.5,288.2C205.7,287.8 206.4,286.0 206.7,286.2C206.9,286.4 207.6,289.8 207.8,290.1C208.1,290.5 208.7,289.5 209.0,289.1C209.3,288.8 209.9,287.5 210.2,287.2C210.5,286.8 211.1,286.6 211.4,286.2C211.7,285.7 212.3,284.0 212.6,283.2C212.8,282.4 213.5,279.4 213.7,279.3C214.0,279.2 214.6,281.2 214.9,282.2C215.2,283.3 215.8,287.5 216.1,288.2C216.4,288.8 217.0,288.4 217.3,288.2C217.6,287.9 218.2,286.9 218.5,286.2C218.7,285.5 219.4,282.5 219.7,282.2C219.9,282.0 220.6,283.6 220.8,284.2C221.1,284.8 221.7,286.7 222.0,287.2C222.3,287.6 222.9,288.4 223.2,288.2C223.5,287.9 224.1,285.7 224.4,285.2C224.7,284.7 225.3,284.1 225.6,284.2C225.8,284.3 226.5,286.2 226.7,286.2C227.0,286.2 227.6,284.7 227.9,284.2C228.2,283.8 228.8,282.0 229.1,282.2C229.4,282.5 230.0,285.5 230.3,286.2C230.6,286.9 231.2,288.6 231.5,288.2C231.7,287.7 232.4,283.2 232.7,282.2C232.9,281.3 233.6,279.8 233.8,280.3C234.1,280.7 234.7,285.3 235.0,286.2C235.3,287.1 235.9,288.0 236.2,288.2C236.5,288.3 237.1,287.4 237.4,287.2C237.6,286.9 238.3,286.0 238.6,286.2C238.8,286.4 239.5,288.7 239.7,289.1C240.0,289.6 240.6,290.2 240.9,290.1C241.2,290.0 241.8,288.6 242.1,288.2C242.4,287.7 243.0,286.5 243.3,286.2C243.6,285.8 244.2,285.1 244.5,285.2C244.7,285.3 245.4,287.1 245.7,287.2C245.9,287.3 246.6,286.6 246.8,286.2C247.1,285.7 247.7,283.5 248.0,283.2C248.3,283.0 248.9,283.9 249.2,284.2C249.5,284.6 250.1,285.7 250.4,286.2C250.6,286.6 251.3,288.0 251.6,288.2C251.8,288.3 252.5,287.7 252.7,287.2C253.0,286.6 253.6,284.0 253.9,283.2C254.2,282.4 254.9,281.1 255.1,280.3C255.3,279.5 255.7,276.1 255.9,276.3C256.1,276.6 256.4,281.1 256.7,282.2C256.9,283.4 257.6,285.5 257.9,286.2C258.1,286.9 258.8,288.2 259.0,288.2C259.3,288.2 259.9,286.2 260.2,286.2C260.5,286.2 261.1,288.0 261.4,288.2C261.7,288.3 262.3,287.7 262.6,287.2C262.9,286.6 263.5,283.6 263.8,283.2C264.0,282.9 264.7,283.6 264.9,284.2C265.2,284.8 265.9,287.4 266.1,288.2C266.4,289.0 267.0,291.3 267.3,291.1C267.6,290.9 268.2,287.2 268.5,286.2C268.8,285.2 269.4,282.8 269.7,282.2C269.9,281.7 270.5,280.8 270.9,281.3C271.2,281.7 272.3,285.4 272.7,286.2C273.1,287.0 273.7,288.8 273.9,288.2C274.1,287.6 274.5,281.9 274.7,281.3C274.9,280.7 275.2,282.7 275.4,283.3C275.7,283.8 276.4,285.4 276.6,286.2C276.9,287.0 277.5,289.9 277.8,290.1C278.1,290.4 278.7,288.5 279.0,288.2C279.3,287.8 279.9,287.2 280.2,287.2C280.5,287.2 281.1,287.7 281.4,288.2C281.6,288.6 282.3,290.9 282.5,291.1C282.8,291.4 283.5,290.5 283.7,290.1C284.0,289.8 284.6,288.3 284.9,288.2C285.2,288.1 285.9,289.1 286.1,289.2C286.3,289.2 286.8,288.6 286.9,288.6" fill="none" stroke="#0000ff" stroke-width="1.0" stroke-linejoin="round"/>
<line x1="38.29" y1="171.5" x2="38.29" y2="298.3" stroke="#ff0000" stroke-width="1.0" stroke-dasharray="3,0.95"/>
<line x1="75.92" y1="171.5" x2="75.92" y2="298.3" stroke="#ff0000" stroke-width="1.0" stroke-dasharray="3,0.95"/>
<line x1="113.55" y1="171.5" x2="113.55" y2="298.3" stroke="#ff0000" stroke-width="1.0" stroke-dasharray="3,0.95"/>
<line x1="151.17" y1="171.5" x2="151.17" y2="298.3" stroke="#ff0000" stroke-width="1.0" stroke-dasharray="3,0.95"/>
</g>
<line x1="298.9" y1="171.5" x2="24.0" y2="171.5" stroke="#000" stroke-width="1.1"/>
<line x1="24.45" y1="170.95" x2="24.45" y2="299.1" stroke="#000" stroke-width="1.3"/>
<line x1="23.8" y1="298.45" x2="298.9" y2="298.45" stroke="#000" stroke-width="1.3"/>
<line x1="298.9" y1="171.0" x2="298.9" y2="298.8" stroke="#0000ff" stroke-width="1.7"/>
<line x1="36.50" y1="298.3" x2="36.50" y2="300.0" stroke="#000" stroke-width="0.8"/>
<text x="36.50" y="306.80" font-size="7.2" text-anchor="middle">8</text>
<line x1="72.34" y1="298.3" x2="72.34" y2="300.0" stroke="#000" stroke-width="0.8"/>
<text x="72.34" y="306.80" font-size="7.2" text-anchor="middle">16</text>
<line x1="108.17" y1="298.3" x2="108.17" y2="300.0" stroke="#000" stroke-width="0.8"/>
<text x="108.17" y="306.80" font-size="7.2" text-anchor="middle">24</text>
<line x1="144.01" y1="298.3" x2="144.01" y2="300.0" stroke="#000" stroke-width="0.8"/>
<text x="144.01" y="306.80" font-size="7.2" text-anchor="middle">32</text>
<line x1="179.84" y1="298.3" x2="179.84" y2="300.0" stroke="#000" stroke-width="0.8"/>
<text x="179.84" y="306.80" font-size="7.2" text-anchor="middle">40</text>
<line x1="215.68" y1="298.3" x2="215.68" y2="300.0" stroke="#000" stroke-width="0.8"/>
<text x="215.68" y="306.80" font-size="7.2" text-anchor="middle">48</text>
<line x1="251.51" y1="298.3" x2="251.51" y2="300.0" stroke="#000" stroke-width="0.8"/>
<text x="251.51" y="306.80" font-size="7.2" text-anchor="middle">56</text>
<line x1="287.35" y1="298.3" x2="287.35" y2="300.0" stroke="#000" stroke-width="0.8"/>
<text x="287.35" y="306.80" font-size="7.2" text-anchor="middle">64</text>
<text x="161.6" y="314.80" font-size="7.2" text-anchor="middle">Frequency</text>
<text x="161.6" y="168.80" font-size="8.6" text-anchor="middle">Imaginary part</text>
<line x1="22.599999999999998" y1="181.40" x2="24.2" y2="181.40" stroke="#000" stroke-width="0.8"/>
<text x="21.599999999999998" y="184.30" font-size="7.2" text-anchor="end">1</text>
<line x1="22.599999999999998" y1="229.50" x2="24.2" y2="229.50" stroke="#000" stroke-width="0.8"/>
<text x="21.599999999999998" y="232.40" font-size="7.2" text-anchor="end">0</text>
<line x1="22.599999999999998" y1="277.30" x2="24.2" y2="277.30" stroke="#000" stroke-width="0.8"/>
<text x="21.599999999999998" y="280.20" font-size="7.2" text-anchor="end">−1</text>
<text transform="translate(7.6,234.90) rotate(-90)" font-size="7.2" text-anchor="middle">Amplitude</text>
<line x1="298.9" y1="292.54" x2="300.5" y2="292.54" stroke="#0000ff" stroke-width="0.8"/>
<text x="301.7" y="295.54" font-size="7.2" fill="#0000ff" class="b">0.0</text>
<line x1="298.9" y1="269.48" x2="300.5" y2="269.48" stroke="#0000ff" stroke-width="0.8"/>
<text x="301.7" y="272.48" font-size="7.2" fill="#0000ff" class="b">0.2</text>
<line x1="298.9" y1="246.43" x2="300.5" y2="246.43" stroke="#0000ff" stroke-width="0.8"/>
<text x="301.7" y="249.43" font-size="7.2" fill="#0000ff" class="b">0.4</text>
<line x1="298.9" y1="223.37" x2="300.5" y2="223.37" stroke="#0000ff" stroke-width="0.8"/>
<text x="301.7" y="226.37" font-size="7.2" fill="#0000ff" class="b">0.6</text>
<line x1="298.9" y1="200.32" x2="300.5" y2="200.32" stroke="#0000ff" stroke-width="0.8"/>
<text x="301.7" y="203.32" font-size="7.2" fill="#0000ff" class="b">0.8</text>
<line x1="298.9" y1="177.26" x2="300.5" y2="177.26" stroke="#0000ff" stroke-width="0.8"/>
<text x="301.7" y="180.26" font-size="7.2" fill="#0000ff" class="b">1.0</text>
<text transform="translate(319.9,234.90) rotate(-90)" font-size="7.2" text-anchor="middle" fill="#0000ff" class="b">Weight</text>
</g>
<text x="161.7" y="656.6" font-size="8.9" text-anchor="middle">(c)</text>
<g transform="translate(327,332)">
<rect x="1.8000000000000114" y="1.3000000000000114" width="320.30" height="315.30" fill="#f2f2f2"/>
<rect x="24.2" y="11.35" width="274.7" height="126.95000000000002" fill="#fff"/>
<clipPath id="clipd0"><rect x="24.2" y="11.35" width="274.7" height="126.95000000000002"/></clipPath>
<g clip-path="url(#clipd0)">
<path d="M36.18,32.65C36.3,33.2 37.1,34.7 37.4,37.6C37.6,40.4 38.3,55.9 38.5,57.3C38.8,58.6 39.4,51.7 39.7,49.4C40.0,47.1 40.6,37.6 40.9,37.6C41.2,37.6 41.8,47.0 42.1,49.4C42.4,51.8 43.0,59.2 43.3,58.2C43.5,57.3 44.2,44.0 44.4,41.5C44.7,39.0 45.4,35.7 45.6,36.6C45.9,37.5 46.6,46.4 46.8,49.4C47.0,52.4 47.4,62.2 47.6,62.2C47.8,62.2 48.5,54.6 48.8,49.4C49.1,44.2 49.7,17.9 50.0,17.9C50.2,17.9 50.9,41.1 51.1,49.4C51.4,57.7 51.7,79.4 51.9,88.8C52.1,98.2 52.5,130.1 52.7,130.1C52.9,130.1 53.3,100.5 53.5,88.8C53.7,77.1 54.4,38.1 54.7,29.7C55.0,21.3 55.6,16.2 55.9,16.9C56.1,17.6 56.8,29.5 57.1,35.6C57.3,41.7 58.0,67.0 58.2,69.1C58.5,71.1 59.1,57.0 59.4,53.3C59.7,49.6 60.3,39.9 60.6,37.6C60.9,35.3 61.5,33.3 61.8,33.6C62.1,34.0 62.7,39.4 63.0,40.5C63.2,41.7 63.9,42.7 64.1,43.5C64.4,44.3 65.0,46.3 65.3,47.4C65.6,48.6 66.2,52.4 66.5,53.3C66.8,54.2 67.4,55.2 67.7,55.3C68.0,55.4 68.6,54.3 68.9,54.3C69.1,54.3 69.8,55.9 70.1,55.3C70.3,54.7 71.0,51.0 71.2,49.4C71.5,47.8 72.1,42.7 72.4,41.5C72.7,40.4 73.3,38.4 73.6,39.5C73.9,40.7 74.5,50.2 74.8,51.4C75.1,52.5 75.7,51.0 76.0,49.4C76.2,47.8 76.9,39.2 77.1,37.6C77.4,36.0 78.0,34.0 78.3,35.6C78.6,37.2 79.2,48.2 79.5,51.4C79.8,54.5 80.4,61.7 80.7,62.2C81.0,62.6 81.6,56.6 81.9,55.3C82.1,54.0 82.8,52.0 83.1,51.4C83.3,50.7 84.0,49.4 84.2,49.4C84.5,49.4 85.1,51.8 85.4,51.4C85.7,50.9 86.3,45.8 86.6,45.4C86.9,45.1 87.5,47.7 87.8,48.4C88.0,49.1 88.7,51.5 89.0,51.4C89.2,51.2 89.9,48.2 90.1,47.4C90.4,46.6 91.0,44.2 91.3,44.5C91.6,44.7 92.2,48.6 92.5,49.4C92.8,50.2 93.4,52.5 93.7,51.4C94.0,50.2 94.6,42.5 94.9,39.5C95.1,36.6 95.8,27.6 96.0,25.8C96.3,23.9 97.0,22.2 97.2,23.8C97.5,25.4 98.1,36.3 98.4,39.5C98.7,42.8 99.3,51.4 99.6,51.4C99.9,51.4 100.5,42.3 100.8,39.5C101.0,36.8 101.7,29.7 101.9,27.7C102.2,25.8 102.9,20.3 103.1,22.8C103.4,25.3 103.7,44.5 103.9,49.4C104.1,54.3 104.5,62.2 104.7,65.1C104.9,68.1 105.6,75.0 105.9,75.0C106.2,75.0 106.8,68.1 107.1,65.1C107.3,62.2 108.0,51.7 108.2,49.4C108.5,47.1 109.2,45.4 109.4,45.4C109.7,45.4 110.3,47.6 110.6,49.4C110.9,51.2 111.5,60.1 111.8,61.2C112.1,62.3 112.7,60.6 113.0,59.2C113.3,57.9 113.9,51.0 114.2,49.4C114.4,47.8 115.1,45.2 115.3,45.4C115.6,45.7 116.3,51.1 116.5,51.4C116.8,51.6 117.4,48.6 117.7,47.4C118.0,46.3 118.6,41.7 118.9,41.5C119.2,41.3 119.8,45.1 120.1,45.4C120.3,45.8 121.0,45.0 121.2,44.5C121.5,43.9 122.2,41.6 122.4,40.5C122.7,39.5 123.3,35.7 123.6,35.6C123.9,35.5 124.5,38.4 124.8,39.5C125.1,40.7 125.7,44.9 126.0,45.4C126.3,46.0 126.9,44.2 127.2,44.5C127.4,44.7 128.1,46.6 128.3,47.4C128.6,48.2 129.2,50.7 129.5,51.4C129.8,52.0 130.4,52.6 130.7,53.3C131.0,54.0 131.6,56.5 131.9,57.3C132.2,58.1 132.8,60.2 133.1,60.2C133.3,60.2 134.0,59.2 134.2,57.3C134.5,55.3 135.2,45.5 135.4,43.5C135.7,41.4 136.0,38.9 136.2,39.5C136.4,40.2 136.8,47.4 137.0,49.4C137.2,51.3 137.9,56.1 138.2,56.3C138.5,56.5 139.1,52.6 139.4,51.4C139.6,50.1 140.3,45.9 140.6,45.4C140.8,45.0 141.5,47.3 141.7,47.4C142.0,47.5 142.6,46.2 142.9,46.4C143.2,46.7 143.8,49.5 144.1,49.4C144.4,49.3 145.0,46.1 145.3,45.4C145.6,44.8 146.2,42.6 146.5,43.5C146.7,44.4 147.4,52.6 147.6,53.3C147.9,54.0 148.1,50.4 148.4,49.4C148.6,48.4 149.3,44.6 149.5,44.5C149.8,44.3 150.5,47.3 150.7,48.4C151.0,49.5 151.6,54.9 151.9,54.3C152.2,53.7 152.8,45.9 153.1,43.5C153.4,41.1 154.0,34.5 154.3,33.6C154.5,32.7 154.9,33.1 155.1,35.6C155.2,38.1 155.6,50.9 155.9,55.3C156.1,59.7 156.8,72.6 157.0,73.0C157.3,73.5 157.9,62.0 158.2,59.2C158.5,56.5 159.1,50.3 159.4,49.4C159.7,48.5 160.3,50.4 160.6,51.4C160.8,52.3 161.5,56.8 161.8,57.3C162.0,57.7 162.7,55.9 162.9,55.3C163.2,54.7 163.8,52.8 164.1,52.3C164.4,51.9 165.0,51.7 165.3,51.4C165.6,51.0 166.2,49.4 166.5,49.4C166.8,49.4 167.4,51.4 167.7,51.4C167.9,51.4 168.6,50.0 168.8,49.4C169.1,48.8 169.8,47.2 170.0,46.4C170.3,45.6 170.9,42.8 171.2,42.5C171.5,42.1 172.1,42.9 172.4,43.5C172.7,44.1 173.3,46.4 173.6,47.4C173.8,48.5 174.5,52.1 174.8,52.3C175.0,52.6 175.7,50.4 175.9,49.4C176.2,48.4 176.8,43.9 177.1,43.5C177.4,43.0 178.0,45.1 178.3,45.4C178.6,45.8 179.2,46.7 179.5,46.4C179.8,46.2 180.4,44.1 180.7,43.5C180.9,42.9 181.6,41.9 181.8,41.5C182.1,41.2 182.7,40.3 183.0,40.5C183.3,40.7 183.9,42.6 184.2,43.5C184.5,44.4 185.1,47.4 185.4,48.4C185.7,49.4 186.3,52.1 186.6,52.3C186.8,52.6 187.5,50.8 187.8,50.4C188.0,49.9 188.7,48.7 188.9,48.4C189.2,48.1 189.8,47.4 190.1,47.4C190.4,47.4 191.0,48.4 191.3,48.4C191.6,48.4 192.2,47.3 192.5,47.4C192.7,47.5 193.4,48.9 193.7,49.4C193.9,49.8 194.6,51.4 194.8,51.4C195.1,51.4 195.7,50.0 196.0,49.4C196.3,48.8 196.9,46.7 197.2,46.4C197.5,46.2 198.1,47.1 198.4,47.4C198.7,47.8 199.3,49.3 199.6,49.4C199.8,49.5 200.5,48.6 200.8,48.4C201.0,48.2 201.7,47.3 201.9,47.4C202.2,47.5 202.8,48.9 203.1,49.4C203.4,49.8 204.0,50.9 204.3,51.4C204.6,51.8 205.2,52.9 205.5,53.3C205.7,53.8 206.4,55.3 206.6,55.3C206.9,55.3 207.6,54.9 207.8,53.3C208.1,51.7 208.7,43.6 209.0,41.5C209.3,39.4 209.9,36.5 210.2,35.6C210.5,34.7 211.1,32.9 211.4,33.6C211.7,34.3 212.3,39.0 212.6,41.5C212.8,44.0 213.5,54.0 213.7,55.3C214.0,56.6 214.6,53.5 214.9,52.3C215.2,51.2 215.8,46.7 216.1,45.4C216.4,44.2 217.0,41.3 217.3,41.5C217.6,41.7 218.2,46.5 218.5,47.4C218.7,48.3 219.4,49.6 219.6,49.4C219.9,49.2 220.6,45.2 220.8,45.4C221.1,45.7 221.7,50.9 222.0,51.4C222.3,51.8 222.9,49.8 223.2,49.4C223.5,48.9 224.1,48.0 224.4,47.4C224.7,46.8 225.3,44.7 225.6,44.5C225.8,44.2 226.5,44.9 226.7,45.4C227.0,46.0 227.6,48.7 227.9,49.4C228.2,50.1 228.8,50.7 229.1,51.4C229.4,52.0 230.0,54.1 230.3,55.3C230.6,56.4 231.2,60.7 231.5,61.2C231.7,61.7 232.4,61.3 232.6,59.2C232.9,57.2 233.6,46.0 233.8,43.5C234.1,41.0 234.7,38.4 235.0,37.6C235.3,36.8 235.9,35.7 236.2,36.6C236.5,37.5 237.1,44.0 237.4,45.4C237.6,46.9 238.3,49.2 238.6,49.4C238.8,49.6 239.5,48.1 239.7,47.4C240.0,46.7 240.6,43.4 240.9,43.5C241.2,43.6 241.8,47.7 242.1,48.4C242.4,49.1 243.0,49.5 243.3,49.4C243.6,49.3 244.2,47.8 244.5,47.4C244.7,47.1 245.4,46.8 245.6,46.4C245.9,46.1 246.6,44.8 246.8,44.5C247.1,44.1 247.7,43.1 248.0,43.5C248.3,43.8 248.9,46.5 249.2,47.4C249.5,48.3 250.1,51.0 250.4,51.4C250.6,51.7 251.3,50.8 251.5,50.4C251.8,49.9 252.5,48.0 252.7,47.4C253.0,46.8 253.6,45.8 253.9,45.4C254.2,45.1 254.8,44.7 255.1,44.5C255.4,44.2 256.0,43.7 256.3,43.5C256.6,43.3 257.2,42.5 257.5,42.5C257.7,42.5 258.4,43.0 258.6,43.5C258.9,43.9 259.5,45.5 259.8,46.4C260.1,47.3 260.7,50.7 261.0,51.4C261.3,52.0 261.9,52.6 262.2,52.3C262.5,52.1 263.1,50.2 263.4,49.4C263.6,48.6 264.3,46.3 264.5,45.4C264.8,44.6 265.5,42.9 265.7,42.5C266.0,42.0 266.6,41.3 266.9,41.5C267.2,41.7 267.8,43.8 268.1,44.5C268.4,45.1 269.0,47.3 269.3,47.4C269.6,47.5 270.2,45.6 270.5,45.4C270.7,45.3 271.3,46.2 271.6,46.4C271.9,46.7 272.8,47.5 273.1,47.4C273.4,47.3 274.0,45.6 274.3,45.4C274.5,45.3 275.2,46.1 275.5,46.4C275.7,46.8 276.4,49.0 276.6,48.4C276.9,47.8 277.5,42.9 277.8,41.5C278.1,40.1 278.7,36.9 279.0,36.6C279.3,36.2 279.9,37.3 280.2,38.6C280.5,39.8 281.1,46.0 281.4,47.4C281.6,48.8 282.3,50.3 282.5,50.4C282.8,50.5 283.5,48.9 283.7,48.4C284.0,48.0 284.6,46.3 284.9,46.4C285.2,46.6 285.9,48.5 286.1,49.4C286.3,50.2 286.8,53.2 286.9,53.7" fill="none" stroke="#ffa500" stroke-width="1.0" stroke-linejoin="round"/>
<path d="M36.18,124.22C36.3,124.0 37.1,122.7 37.4,122.2C37.6,121.8 38.3,121.0 38.5,120.3C38.8,119.6 39.4,116.7 39.7,116.3C40.0,116.0 40.6,116.0 40.9,117.3C41.2,118.7 41.8,126.7 42.1,128.2C42.4,129.7 43.0,129.8 43.3,130.1C43.5,130.5 44.2,131.6 44.4,131.1C44.7,130.7 45.4,128.8 45.6,126.2C45.9,123.5 46.6,111.0 46.8,108.5C47.0,105.9 47.4,103.2 47.6,104.5C47.8,105.9 48.5,117.3 48.8,120.3C49.1,123.3 49.7,136.1 50.0,130.1C50.2,124.2 50.9,82.2 51.1,69.1C51.4,56.0 51.7,20.2 51.9,17.9C52.1,15.6 52.5,40.0 52.7,49.4C52.9,58.8 53.3,89.4 53.5,98.6C53.7,107.8 54.1,124.7 54.3,128.2C54.5,131.6 55.2,129.1 55.5,128.2C55.8,127.2 56.4,121.4 56.7,120.3C56.9,119.1 57.6,119.0 57.8,118.3C58.1,117.6 58.7,115.1 59.0,114.4C59.3,113.7 59.9,111.3 60.2,112.4C60.5,113.5 61.1,124.7 61.4,124.2C61.7,123.8 62.3,110.8 62.6,108.5C62.8,106.2 63.1,103.4 63.4,104.5C63.6,105.7 64.3,115.6 64.5,118.3C64.8,121.1 65.1,126.9 65.3,128.2C65.5,129.4 66.2,128.9 66.5,129.1C66.8,129.4 67.4,130.1 67.7,130.1C68.0,130.1 68.6,129.4 68.9,129.1C69.1,128.9 69.8,128.5 70.1,128.2C70.3,127.8 71.0,126.0 71.2,126.2C71.5,126.4 72.1,129.9 72.4,130.1C72.7,130.4 73.3,129.0 73.6,128.2C73.9,127.4 74.5,123.9 74.8,123.2C75.1,122.5 75.7,121.7 76.0,122.2C76.2,122.8 76.9,127.2 77.1,128.2C77.4,129.1 78.0,130.6 78.3,130.1C78.6,129.7 79.2,125.1 79.5,124.2C79.8,123.3 80.4,122.0 80.7,122.2C81.0,122.5 81.6,125.5 81.9,126.2C82.1,126.9 82.8,128.6 83.1,128.2C83.3,127.7 84.0,122.5 84.2,122.2C84.5,122.0 85.1,126.4 85.4,126.2C85.7,126.0 86.3,121.2 86.6,120.3C86.9,119.4 87.5,117.9 87.8,118.3C88.0,118.8 88.7,122.8 89.0,124.2C89.2,125.6 89.9,129.7 90.1,130.1C90.4,130.6 91.0,129.3 91.3,128.2C91.6,127.0 92.2,122.1 92.5,120.3C92.8,118.4 93.5,113.7 93.7,112.4C93.9,111.1 94.2,108.5 94.5,109.4C94.7,110.4 95.4,117.9 95.6,120.3C95.9,122.7 96.6,129.1 96.8,130.1C97.1,131.2 97.7,129.8 98.0,129.1C98.3,128.5 98.9,125.3 99.2,124.2C99.5,123.2 100.1,120.1 100.4,120.3C100.7,120.5 101.3,125.8 101.6,126.2C101.8,126.5 102.5,124.1 102.7,123.2C103.0,122.3 103.7,120.5 103.9,118.3C104.1,116.1 104.5,107.1 104.7,104.5C104.9,102.0 105.3,97.3 105.5,96.6C105.7,96.0 106.1,97.2 106.3,98.6C106.5,100.0 106.9,105.5 107.1,108.5C107.3,111.4 107.7,121.7 107.9,124.2C108.0,126.7 108.4,129.9 108.6,130.1C108.9,130.4 109.6,126.4 109.8,126.2C110.1,126.0 110.7,128.2 111.0,128.2C111.3,128.2 111.9,126.0 112.2,126.2C112.5,126.4 113.1,130.1 113.4,130.1C113.6,130.1 114.3,126.3 114.6,126.2C114.8,126.1 115.5,128.9 115.7,129.1C116.0,129.4 116.6,128.5 116.9,128.2C117.2,127.8 117.8,126.2 118.1,126.2C118.4,126.2 119.0,128.2 119.3,128.2C119.6,128.2 120.2,126.1 120.5,126.2C120.7,126.3 121.4,129.0 121.6,129.1C121.9,129.3 122.6,127.3 122.8,127.2C123.1,127.1 123.7,127.8 124.0,128.2C124.3,128.5 124.9,130.0 125.2,130.1C125.5,130.2 126.1,129.0 126.4,129.1C126.6,129.3 127.3,131.2 127.6,131.1C127.8,131.0 128.5,128.4 128.7,128.2C129.0,127.9 129.6,129.3 129.9,129.1C130.2,129.0 130.8,127.3 131.1,127.2C131.4,127.1 132.0,128.3 132.3,128.2C132.6,128.0 133.2,126.1 133.5,126.2C133.7,126.3 134.4,128.9 134.6,129.1C134.9,129.4 135.5,128.6 135.8,128.2C136.1,127.7 136.7,125.8 137.0,125.2C137.3,124.6 137.9,123.8 138.2,123.2C138.5,122.7 139.1,120.2 139.4,120.3C139.6,120.4 140.3,123.5 140.6,124.2C140.8,124.9 141.5,126.2 141.7,126.2C142.0,126.2 142.6,124.9 142.9,124.2C143.2,123.5 143.8,121.4 144.1,120.3C144.4,119.1 145.0,114.8 145.3,114.4C145.6,113.9 146.2,115.0 146.5,116.3C146.7,117.7 147.4,124.8 147.6,126.2C147.9,127.6 148.1,128.8 148.4,128.2C148.6,127.5 149.3,121.3 149.5,120.3C149.8,119.2 150.5,119.3 150.7,119.3C151.0,119.3 151.6,119.2 151.9,120.3C152.2,121.3 152.9,127.1 153.1,128.2C153.3,129.2 153.7,132.6 153.9,129.1C154.1,125.7 154.8,104.5 155.1,98.6C155.3,92.8 156.0,81.9 156.2,78.9C156.5,75.9 157.2,71.9 157.4,73.0C157.6,74.2 158.0,84.6 158.2,88.8C158.4,92.9 158.8,104.3 159.0,108.5C159.2,112.6 159.6,121.9 159.8,124.2C160.0,126.5 160.7,127.9 161.0,128.2C161.2,128.4 161.9,126.6 162.1,126.2C162.4,125.7 163.1,124.6 163.3,124.2C163.6,123.9 164.2,123.0 164.5,123.2C164.8,123.5 165.4,125.6 165.7,126.2C166.0,126.8 166.6,127.8 166.9,128.2C167.1,128.5 167.8,129.1 168.1,129.1C168.3,129.1 169.0,128.4 169.2,128.2C169.5,127.9 170.1,127.4 170.4,127.2C170.7,126.9 171.3,126.1 171.6,126.2C171.9,126.3 172.5,128.0 172.8,128.2C173.1,128.3 173.7,127.1 174.0,127.2C174.2,127.3 174.9,128.8 175.1,129.1C175.4,129.5 176.1,130.2 176.3,130.1C176.6,130.0 177.2,128.3 177.5,128.2C177.8,128.0 178.4,128.9 178.7,129.1C179.0,129.4 179.6,130.2 179.9,130.1C180.1,130.0 180.8,128.5 181.1,128.2C181.3,127.8 182.0,127.4 182.2,127.2C182.5,126.9 183.1,126.5 183.4,126.2C183.7,125.8 184.3,124.2 184.6,124.2C184.9,124.2 185.5,125.7 185.8,126.2C186.1,126.6 186.7,128.2 187.0,128.2C187.2,128.2 187.9,126.6 188.1,126.2C188.4,125.7 189.0,124.2 189.3,124.2C189.6,124.2 190.2,126.3 190.5,126.2C190.8,126.1 191.4,123.5 191.7,123.2C192.0,123.0 192.6,124.3 192.9,124.2C193.1,124.1 193.8,122.4 194.0,122.2C194.3,122.1 195.0,123.3 195.2,123.2C195.5,123.1 196.1,121.1 196.4,121.3C196.7,121.4 197.3,123.4 197.6,124.2C197.9,125.0 198.5,127.6 198.8,128.2C199.1,128.7 199.7,129.3 200.0,129.1C200.2,129.0 200.9,127.9 201.1,127.2C201.4,126.5 202.0,123.8 202.3,123.2C202.6,122.7 203.2,122.5 203.5,122.2C203.8,122.0 204.4,121.7 204.7,121.3C205.0,120.8 205.6,119.8 205.9,118.3C206.1,116.8 206.8,110.3 207.0,108.5C207.3,106.6 207.7,102.8 207.8,102.6C208.0,102.3 208.4,104.4 208.6,106.5C208.8,108.6 209.2,117.8 209.4,120.3C209.6,122.8 210.0,127.0 210.2,128.2C210.4,129.3 211.1,130.5 211.4,130.1C211.7,129.8 212.3,126.0 212.6,125.2C212.8,124.4 213.5,123.3 213.7,123.2C214.0,123.1 214.6,123.8 214.9,124.2C215.2,124.7 215.8,126.7 216.1,127.2C216.4,127.6 217.0,127.8 217.3,128.2C217.6,128.5 218.2,130.1 218.5,130.1C218.7,130.1 219.4,128.5 219.6,128.2C219.9,127.8 220.6,127.2 220.8,127.2C221.1,127.2 221.7,128.3 222.0,128.2C222.3,128.0 222.9,126.2 223.2,126.2C223.5,126.2 224.1,128.0 224.4,128.2C224.7,128.3 225.3,127.4 225.6,127.2C225.8,126.9 226.5,126.0 226.7,126.2C227.0,126.4 227.6,128.9 227.9,129.1C228.2,129.4 228.8,128.7 229.1,128.2C229.4,127.6 230.0,124.8 230.3,124.2C230.6,123.6 231.2,123.0 231.5,123.2C231.7,123.5 232.4,125.6 232.6,126.2C232.9,126.8 233.6,128.0 233.8,128.2C234.1,128.3 234.7,127.1 235.0,127.2C235.3,127.3 235.9,129.3 236.2,129.1C236.5,129.0 237.1,126.3 237.4,126.2C237.6,126.1 238.3,127.7 238.6,128.2C238.8,128.6 239.5,130.1 239.7,130.1C240.0,130.1 240.6,128.5 240.9,128.2C241.2,127.8 241.8,127.4 242.1,127.2C242.4,126.9 243.0,126.1 243.3,126.2C243.6,126.3 244.2,127.8 244.5,128.2C244.7,128.5 245.4,129.4 245.6,129.1C245.9,128.9 246.6,126.3 246.8,126.2C247.1,126.1 247.7,128.0 248.0,128.2C248.3,128.3 248.9,127.4 249.2,127.2C249.5,126.9 250.1,126.5 250.4,126.2C250.6,125.8 251.3,124.9 251.5,124.2C251.8,123.5 252.5,121.0 252.7,120.3C253.0,119.5 253.6,117.9 253.9,117.9C254.2,117.9 254.8,119.8 255.1,120.3C255.4,120.8 256.0,122.1 256.3,122.2C256.6,122.4 257.2,121.1 257.5,121.3C257.7,121.4 258.4,122.8 258.6,123.2C258.9,123.7 259.5,124.9 259.8,125.2C260.1,125.5 260.7,126.3 261.0,126.2C261.3,126.1 261.9,124.1 262.2,124.2C262.5,124.3 263.1,126.7 263.4,127.2C263.6,127.6 264.3,127.9 264.5,128.2C264.8,128.4 265.5,129.1 265.7,129.1C266.0,129.1 266.6,128.0 266.9,128.2C267.2,128.3 267.8,129.8 268.1,130.1C268.4,130.5 269.0,131.3 269.3,131.1C269.6,130.9 270.2,128.4 270.5,128.2C270.7,127.9 271.4,129.0 271.6,129.1C271.9,129.3 272.4,129.3 272.7,129.2C273.0,129.0 273.6,128.1 273.9,128.2C274.2,128.2 274.8,129.5 275.1,129.8C275.3,130.0 276.0,130.6 276.2,130.5C276.5,130.5 277.1,129.2 277.4,129.2C277.7,129.1 278.3,130.3 278.6,130.1C278.9,130.0 279.5,128.2 279.8,128.2C280.1,128.1 280.7,129.6 281.0,129.8C281.2,129.9 281.9,129.1 282.1,129.2C282.4,129.3 283.1,130.4 283.3,130.5C283.6,130.7 284.2,130.3 284.5,130.1C284.8,130.0 285.4,129.4 285.7,129.2C286.0,128.9 286.7,127.9 286.9,127.8" fill="none" stroke="#0000ff" stroke-width="1.0" stroke-linejoin="round"/>
<line x1="52.72" y1="11.35" x2="52.72" y2="138.3" stroke="#ff0000" stroke-width="1.0" stroke-dasharray="3,0.95"/>
<line x1="104.77" y1="11.35" x2="104.77" y2="138.3" stroke="#ff0000" stroke-width="1.0" stroke-dasharray="3,0.95"/>
<line x1="156.82" y1="11.35" x2="156.82" y2="138.3" stroke="#ff0000" stroke-width="1.0" stroke-dasharray="3,0.95"/>
<line x1="208.87" y1="11.35" x2="208.87" y2="138.3" stroke="#ff0000" stroke-width="1.0" stroke-dasharray="3,0.95"/>
</g>
<line x1="298.9" y1="11.35" x2="24.0" y2="11.35" stroke="#000" stroke-width="1.1"/>
<line x1="24.45" y1="10.799999999999999" x2="24.45" y2="139.10000000000002" stroke="#000" stroke-width="1.3"/>
<line x1="23.8" y1="138.45000000000002" x2="298.9" y2="138.45000000000002" stroke="#000" stroke-width="1.3"/>
<line x1="298.9" y1="10.85" x2="298.9" y2="138.8" stroke="#0000ff" stroke-width="1.7"/>
<line x1="36.50" y1="138.3" x2="36.50" y2="140.0" stroke="#000" stroke-width="0.8"/>
<text x="36.50" y="146.80" font-size="7.2" text-anchor="middle">8</text>
<line x1="72.34" y1="138.3" x2="72.34" y2="140.0" stroke="#000" stroke-width="0.8"/>
<text x="72.34" y="146.80" font-size="7.2" text-anchor="middle">16</text>
<line x1="108.17" y1="138.3" x2="108.17" y2="140.0" stroke="#000" stroke-width="0.8"/>
<text x="108.17" y="146.80" font-size="7.2" text-anchor="middle">24</text>
<line x1="144.01" y1="138.3" x2="144.01" y2="140.0" stroke="#000" stroke-width="0.8"/>
<text x="144.01" y="146.80" font-size="7.2" text-anchor="middle">32</text>
<line x1="179.84" y1="138.3" x2="179.84" y2="140.0" stroke="#000" stroke-width="0.8"/>
<text x="179.84" y="146.80" font-size="7.2" text-anchor="middle">40</text>
<line x1="215.68" y1="138.3" x2="215.68" y2="140.0" stroke="#000" stroke-width="0.8"/>
<text x="215.68" y="146.80" font-size="7.2" text-anchor="middle">48</text>
<line x1="251.51" y1="138.3" x2="251.51" y2="140.0" stroke="#000" stroke-width="0.8"/>
<text x="251.51" y="146.80" font-size="7.2" text-anchor="middle">56</text>
<line x1="287.35" y1="138.3" x2="287.35" y2="140.0" stroke="#000" stroke-width="0.8"/>
<text x="287.35" y="146.80" font-size="7.2" text-anchor="middle">64</text>
<text x="161.6" y="154.80" font-size="7.2" text-anchor="middle">Frequency</text>
<text x="161.6" y="8.65" font-size="8.6" text-anchor="middle">Real part</text>
<line x1="22.599999999999998" y1="48.00" x2="24.2" y2="48.00" stroke="#000" stroke-width="0.8"/>
<text x="21.599999999999998" y="50.90" font-size="7.2" text-anchor="end">0</text>
<line x1="22.599999999999998" y1="90.80" x2="24.2" y2="90.80" stroke="#000" stroke-width="0.8"/>
<text x="21.599999999999998" y="93.70" font-size="7.2" text-anchor="end">−1</text>
<text transform="translate(7.6,74.83) rotate(-90)" font-size="7.2" text-anchor="middle">Amplitude</text>
<line x1="298.9" y1="132.53" x2="300.5" y2="132.53" stroke="#0000ff" stroke-width="0.8"/>
<text x="301.7" y="135.53" font-size="7.2" fill="#0000ff" class="b">0.0</text>
<line x1="298.9" y1="109.45" x2="300.5" y2="109.45" stroke="#0000ff" stroke-width="0.8"/>
<text x="301.7" y="112.45" font-size="7.2" fill="#0000ff" class="b">0.2</text>
<line x1="298.9" y1="86.37" x2="300.5" y2="86.37" stroke="#0000ff" stroke-width="0.8"/>
<text x="301.7" y="89.37" font-size="7.2" fill="#0000ff" class="b">0.4</text>
<line x1="298.9" y1="63.28" x2="300.5" y2="63.28" stroke="#0000ff" stroke-width="0.8"/>
<text x="301.7" y="66.28" font-size="7.2" fill="#0000ff" class="b">0.6</text>
<line x1="298.9" y1="40.20" x2="300.5" y2="40.20" stroke="#0000ff" stroke-width="0.8"/>
<text x="301.7" y="43.20" font-size="7.2" fill="#0000ff" class="b">0.8</text>
<line x1="298.9" y1="17.12" x2="300.5" y2="17.12" stroke="#0000ff" stroke-width="0.8"/>
<text x="301.7" y="20.12" font-size="7.2" fill="#0000ff" class="b">1.0</text>
<text transform="translate(319.9,74.83) rotate(-90)" font-size="7.2" text-anchor="middle" fill="#0000ff" class="b">Weight</text>
<rect x="24.2" y="171.5" width="274.7" height="126.80000000000001" fill="#fff"/>
<clipPath id="clipd1"><rect x="24.2" y="171.5" width="274.7" height="126.80000000000001"/></clipPath>
<g clip-path="url(#clipd1)">
<path d="M36.18,250.74C36.3,251.4 37.1,257.3 37.4,256.6C37.6,256.0 38.3,247.4 38.5,244.8C38.8,242.3 39.4,236.4 39.7,235.0C40.0,233.6 40.6,231.9 40.9,233.0C41.2,234.2 41.8,242.8 42.1,244.8C42.4,246.9 43.0,251.9 43.3,250.7C43.5,249.6 44.2,237.1 44.4,235.0C44.7,232.9 45.0,231.9 45.2,233.0C45.5,234.2 46.2,242.3 46.4,244.8C46.6,247.4 47.0,255.6 47.2,254.7C47.4,253.8 48.2,239.9 48.4,237.0C48.6,234.0 49.0,227.7 49.2,229.1C49.4,230.5 49.8,243.0 50.0,248.8C50.1,254.5 50.6,273.5 50.8,278.3C50.9,283.1 51.4,291.3 51.5,290.1C51.7,289.0 52.1,275.6 52.3,268.5C52.5,261.3 52.9,238.3 53.1,229.1C53.3,219.9 53.7,195.8 53.9,189.7C54.1,183.6 54.5,174.6 54.7,176.9C54.9,179.2 55.3,201.0 55.5,209.4C55.7,217.8 56.4,243.7 56.7,248.8C56.9,253.8 57.2,255.0 57.4,252.7C57.7,250.4 58.4,233.2 58.6,229.1C58.9,224.9 59.2,219.1 59.4,217.3C59.6,215.4 60.0,212.6 60.2,213.3C60.4,214.0 60.8,220.4 61.0,223.2C61.2,225.9 61.9,235.2 62.2,237.0C62.4,238.7 63.1,237.5 63.4,237.9C63.6,238.4 64.3,240.3 64.5,240.9C64.8,241.5 65.4,243.1 65.7,242.9C66.0,242.6 66.6,239.6 66.9,238.9C67.2,238.2 67.8,237.6 68.1,237.0C68.4,236.3 69.0,234.4 69.3,233.0C69.5,231.6 70.2,225.6 70.4,225.1C70.7,224.7 71.4,227.9 71.6,229.1C71.9,230.2 72.5,233.6 72.8,235.0C73.1,236.4 73.7,241.1 74.0,240.9C74.3,240.7 74.9,234.5 75.2,233.0C75.4,231.5 76.1,227.9 76.4,228.1C76.6,228.3 77.3,233.0 77.5,235.0C77.8,236.9 78.4,243.5 78.7,244.8C79.0,246.2 79.6,247.7 79.9,246.8C80.2,245.9 80.8,238.9 81.1,237.0C81.4,235.0 82.0,230.7 82.3,230.1C82.5,229.4 83.2,231.2 83.4,231.0C83.7,230.9 84.3,229.1 84.6,229.1C84.9,229.1 85.5,231.0 85.8,231.0C86.1,231.0 86.7,228.6 87.0,229.1C87.3,229.5 87.9,234.8 88.2,235.0C88.4,235.2 89.1,231.7 89.4,231.0C89.6,230.4 90.3,228.9 90.5,229.1C90.8,229.3 91.4,233.0 91.7,233.0C92.0,233.0 92.6,230.5 92.9,229.1C93.2,227.7 93.8,222.5 94.1,221.2C94.4,219.9 95.0,216.9 95.3,218.2C95.5,219.6 96.2,229.7 96.4,233.0C96.7,236.4 97.3,245.4 97.6,246.8C97.9,248.2 98.5,246.0 98.8,244.8C99.1,243.7 99.7,238.6 100.0,237.0C100.3,235.4 100.9,231.5 101.2,231.0C101.4,230.6 102.1,231.4 102.4,233.0C102.6,234.6 102.9,242.1 103.1,244.8C103.4,247.6 104.1,255.7 104.3,256.6C104.5,257.6 104.9,255.2 105.1,252.7C105.3,250.2 106.0,237.7 106.3,235.0C106.6,232.2 107.2,229.9 107.5,229.1C107.7,228.3 108.4,227.2 108.6,228.1C108.9,229.0 109.6,235.0 109.8,237.0C110.1,238.9 110.7,245.1 111.0,244.8C111.3,244.6 111.9,236.8 112.2,235.0C112.5,233.2 113.1,229.5 113.4,229.1C113.6,228.6 114.3,231.0 114.6,231.0C114.8,231.0 115.5,229.7 115.7,229.1C116.0,228.5 116.6,226.3 116.9,226.1C117.2,225.9 117.8,226.5 118.1,227.1C118.4,227.7 119.0,230.1 119.3,231.0C119.6,232.0 120.2,235.0 120.5,235.0C120.7,235.0 121.4,231.7 121.6,231.0C121.9,230.4 122.6,228.6 122.8,229.1C123.1,229.5 123.7,233.6 124.0,235.0C124.3,236.4 124.9,240.0 125.2,240.9C125.5,241.8 126.1,243.1 126.4,242.9C126.6,242.6 127.3,238.8 127.6,238.9C127.8,239.0 128.5,243.2 128.7,243.9C129.0,244.5 129.6,244.9 129.9,244.8C130.2,244.7 130.8,243.7 131.1,242.9C131.4,242.1 132.0,239.3 132.3,237.9C132.6,236.6 133.2,232.3 133.5,231.0C133.7,229.8 134.4,227.3 134.6,227.1C134.9,226.9 135.5,228.0 135.8,229.1C136.1,230.1 136.7,234.8 137.0,236.0C137.3,237.1 137.9,239.0 138.2,238.9C138.5,238.8 139.1,235.7 139.4,235.0C139.6,234.3 140.3,232.8 140.6,233.0C140.8,233.2 141.5,236.3 141.7,237.0C142.0,237.6 142.6,238.6 142.9,238.9C143.2,239.3 143.8,240.0 144.1,239.9C144.4,239.8 145.0,238.5 145.3,237.9C145.6,237.4 146.2,235.6 146.5,235.0C146.7,234.4 147.4,233.2 147.6,233.0C147.9,232.8 148.1,232.3 148.4,233.0C148.6,233.7 149.3,238.7 149.5,238.9C149.8,239.1 150.5,236.1 150.7,235.0C151.0,233.8 151.6,229.5 151.9,229.1C152.2,228.6 152.8,229.7 153.1,231.0C153.4,232.4 154.0,238.4 154.3,240.9C154.5,243.4 155.2,252.9 155.4,252.7C155.7,252.5 156.4,241.7 156.6,238.9C156.9,236.2 157.5,231.0 157.8,229.1C158.1,227.1 158.7,222.6 159.0,222.2C159.3,221.7 159.9,223.9 160.2,225.1C160.5,226.4 161.1,232.3 161.4,233.0C161.6,233.7 162.3,231.5 162.5,231.0C162.8,230.6 163.4,229.2 163.7,229.1C164.0,229.0 164.6,230.1 164.9,230.1C165.2,230.1 165.8,229.3 166.1,229.1C166.4,228.9 167.0,228.1 167.3,228.1C167.5,228.1 168.2,229.2 168.4,229.1C168.7,229.0 169.4,227.2 169.6,227.1C169.9,227.0 170.5,227.4 170.8,228.1C171.1,228.8 171.7,232.2 172.0,233.0C172.3,233.8 172.9,235.2 173.2,235.0C173.5,234.8 174.1,231.9 174.4,231.0C174.6,230.2 175.3,228.3 175.5,228.1C175.8,227.9 176.4,228.5 176.7,229.1C177.0,229.7 177.6,232.6 177.9,233.0C178.2,233.5 178.8,233.2 179.1,233.0C179.4,232.8 180.0,231.0 180.3,231.0C180.5,231.0 181.2,232.3 181.4,233.0C181.7,233.7 182.4,236.3 182.6,237.0C182.9,237.6 183.5,238.5 183.8,238.9C184.1,239.4 184.7,241.1 185.0,240.9C185.3,240.7 185.9,237.6 186.2,237.0C186.4,236.3 187.1,235.4 187.4,235.0C187.6,234.5 188.3,233.1 188.5,233.0C188.8,232.9 189.4,233.8 189.7,234.0C190.0,234.2 190.6,234.9 190.9,235.0C191.2,235.1 191.8,235.1 192.1,235.0C192.4,234.9 193.0,234.0 193.3,234.0C193.5,234.0 194.2,235.1 194.4,235.0C194.7,234.9 195.4,233.4 195.6,233.0C195.9,232.7 196.5,231.9 196.8,232.0C197.1,232.1 197.7,233.7 198.0,234.0C198.3,234.3 198.9,235.0 199.2,235.0C199.4,235.0 200.1,234.2 200.4,234.0C200.6,233.8 201.3,232.9 201.5,233.0C201.8,233.1 202.4,234.5 202.7,235.0C203.0,235.4 203.6,237.0 203.9,237.0C204.2,237.0 204.8,235.7 205.1,235.0C205.4,234.3 206.0,232.1 206.3,231.0C206.5,230.0 207.2,227.0 207.4,226.1C207.7,225.2 208.3,223.1 208.6,223.2C208.9,223.3 209.5,226.0 209.8,227.1C210.1,228.3 210.7,231.6 211.0,233.0C211.3,234.4 211.9,237.8 212.2,238.9C212.4,240.1 212.7,243.8 213.0,242.9C213.2,241.9 213.9,232.8 214.1,231.0C214.4,229.3 215.0,227.9 215.3,228.1C215.6,228.3 216.2,232.0 216.5,233.0C216.8,234.1 217.4,236.7 217.7,237.0C218.0,237.2 218.6,235.4 218.9,235.0C219.1,234.5 219.8,233.0 220.0,233.0C220.3,233.0 221.0,234.5 221.2,235.0C221.5,235.4 222.1,237.1 222.4,237.0C222.7,236.8 223.3,234.7 223.6,234.0C223.9,233.3 224.5,230.9 224.8,231.0C225.0,231.2 225.7,234.3 226.0,235.0C226.2,235.7 226.9,237.0 227.1,237.0C227.4,237.0 228.0,234.8 228.3,235.0C228.6,235.2 229.2,238.2 229.5,238.9C229.8,239.6 230.4,242.0 230.7,240.9C231.0,239.7 231.6,231.3 231.9,229.1C232.1,226.9 232.8,223.1 233.0,222.2C233.3,221.3 233.6,220.4 233.8,221.2C234.1,222.0 234.7,227.2 235.0,229.1C235.3,230.9 235.9,236.3 236.2,237.0C236.5,237.6 237.1,235.4 237.4,235.0C237.6,234.5 238.3,233.2 238.6,233.0C238.8,232.8 239.5,232.8 239.7,233.0C240.0,233.2 240.6,234.9 240.9,235.0C241.2,235.1 241.8,234.0 242.1,234.0C242.4,234.0 243.0,235.0 243.3,235.0C243.6,235.0 244.2,234.3 244.5,234.0C244.7,233.7 245.4,232.1 245.6,232.0C245.9,231.9 246.6,232.7 246.8,233.0C247.1,233.4 247.7,234.5 248.0,235.0C248.3,235.4 248.9,237.1 249.2,237.0C249.5,236.8 250.1,234.6 250.4,234.0C250.6,233.4 251.3,232.4 251.5,232.0C251.8,231.7 252.5,230.9 252.7,231.0C253.0,231.2 253.6,232.7 253.9,233.0C254.2,233.4 254.8,233.8 255.1,234.0C255.4,234.2 256.0,234.9 256.3,235.0C256.6,235.1 257.2,234.8 257.5,235.0C257.7,235.2 258.4,236.5 258.6,237.0C258.9,237.4 259.5,239.0 259.8,238.9C260.1,238.8 260.7,236.8 261.0,236.0C261.3,235.2 261.9,232.8 262.2,232.0C262.5,231.2 263.1,229.3 263.4,229.1C263.6,228.9 264.3,229.6 264.5,230.1C264.8,230.5 265.5,232.4 265.7,233.0C266.0,233.6 266.6,234.6 266.9,235.0C267.2,235.3 267.8,236.2 268.1,236.0C268.4,235.7 269.0,233.1 269.3,233.0C269.6,232.9 270.2,234.5 270.5,235.0C270.7,235.4 271.3,237.0 271.6,237.0C271.9,237.0 272.8,235.3 273.1,235.0C273.4,234.7 274.0,234.0 274.3,234.0C274.5,234.0 275.2,235.1 275.5,235.0C275.7,234.9 276.4,233.6 276.6,233.0C276.9,232.5 277.5,230.1 277.8,230.1C278.1,230.1 278.8,232.0 279.0,233.0C279.2,234.1 279.6,237.8 279.8,238.9C280.0,240.1 280.4,242.3 280.6,242.9C280.8,243.5 281.2,244.1 281.4,243.9C281.5,243.6 282.0,241.6 282.1,240.9C282.3,240.2 282.7,238.4 282.9,238.0C283.2,237.5 283.8,236.7 284.1,237.0C284.4,237.2 285.0,239.5 285.3,239.9C285.6,240.4 286.3,240.8 286.5,240.9" fill="none" stroke="#ffa500" stroke-width="1.0" stroke-linejoin="round"/>
<path d="M36.18,270.43C36.3,269.7 37.1,264.3 37.4,264.5C37.6,264.8 38.3,271.0 38.5,272.4C38.8,273.8 39.4,275.4 39.7,276.3C40.0,277.3 40.6,279.5 40.9,280.3C41.2,281.1 41.8,282.5 42.1,283.2C42.4,283.9 43.0,286.8 43.3,286.2C43.5,285.6 44.2,281.5 44.4,278.3C44.7,275.1 45.4,258.8 45.6,258.6C45.9,258.4 46.6,272.4 46.8,276.3C47.0,280.2 47.4,293.0 47.6,292.1C47.8,291.2 48.5,278.1 48.8,268.5C49.1,258.8 49.7,220.0 50.0,209.4C50.2,198.8 50.9,181.3 51.1,177.9C51.4,174.4 51.7,173.9 51.9,179.9C52.1,185.8 52.5,216.9 52.7,229.1C52.9,241.3 53.3,278.5 53.5,284.2C53.7,290.0 54.1,278.3 54.3,278.3C54.5,278.3 54.9,284.2 55.1,284.2C55.3,284.2 55.6,277.9 55.9,278.3C56.1,278.8 56.8,287.9 57.1,288.2C57.3,288.4 58.0,282.1 58.2,280.3C58.5,278.4 59.1,272.9 59.4,272.4C59.7,271.9 60.4,277.3 60.6,276.3C60.8,275.4 61.2,266.1 61.4,264.5C61.6,262.9 61.9,261.6 62.2,262.6C62.4,263.5 63.1,269.9 63.4,272.4C63.6,274.9 63.9,282.4 64.1,284.2C64.4,286.1 65.0,288.2 65.3,288.2C65.6,288.2 66.2,285.1 66.5,284.2C66.8,283.3 67.4,279.8 67.7,280.3C68.0,280.7 68.6,287.0 68.9,288.2C69.1,289.3 69.8,290.1 70.1,290.1C70.3,290.1 71.0,288.8 71.2,288.2C71.5,287.5 72.1,284.2 72.4,284.2C72.7,284.2 73.3,288.2 73.6,288.2C73.9,288.2 74.5,284.2 74.8,284.2C75.1,284.2 75.7,287.5 76.0,288.2C76.2,288.8 76.9,290.4 77.1,290.1C77.4,289.9 78.0,287.3 78.3,286.2C78.6,285.0 79.2,280.5 79.5,280.3C79.8,280.1 80.4,283.2 80.7,284.2C81.0,285.3 81.6,288.7 81.9,289.1C82.1,289.6 82.8,288.5 83.1,288.2C83.3,287.8 84.0,286.1 84.2,286.2C84.5,286.3 85.1,289.3 85.4,289.1C85.7,289.0 86.3,285.3 86.6,285.2C86.9,285.1 87.5,287.6 87.8,288.2C88.0,288.7 88.7,290.0 89.0,290.1C89.2,290.2 89.9,289.4 90.1,289.1C90.4,288.9 91.0,288.2 91.3,288.2C91.6,288.2 92.2,288.8 92.5,289.1C92.8,289.5 93.4,291.2 93.7,291.1C94.0,291.0 94.6,289.0 94.9,288.2C95.1,287.4 95.8,285.1 96.0,284.2C96.3,283.3 97.0,281.4 97.2,280.3C97.5,279.1 97.8,274.4 98.0,274.4C98.2,274.4 98.6,278.7 98.8,280.3C99.0,281.9 99.7,287.5 100.0,288.2C100.3,288.8 100.9,287.1 101.2,286.2C101.4,285.3 102.1,283.5 102.4,280.3C102.6,277.1 102.9,263.4 103.1,258.6C103.4,253.8 104.1,240.5 104.3,238.9C104.5,237.3 104.9,241.4 105.1,244.8C105.3,248.3 106.0,263.4 106.3,268.5C106.6,273.5 107.2,285.6 107.5,288.2C107.7,290.7 108.4,290.4 108.6,290.1C108.9,289.9 109.6,286.9 109.8,286.2C110.1,285.5 110.7,284.0 111.0,284.2C111.3,284.4 111.9,288.3 112.2,288.2C112.5,288.0 113.1,283.9 113.4,283.2C113.6,282.5 114.3,281.9 114.6,282.2C114.8,282.6 115.5,285.3 115.7,286.2C116.0,287.1 116.6,289.9 116.9,290.1C117.2,290.4 117.8,288.3 118.1,288.2C118.4,288.0 119.0,288.9 119.3,289.1C119.6,289.4 120.2,290.2 120.5,290.1C120.7,290.0 121.4,288.3 121.6,288.2C121.9,288.0 122.6,288.9 122.8,289.1C123.1,289.4 123.7,290.1 124.0,290.1C124.3,290.1 124.9,289.4 125.2,289.1C125.5,288.9 126.1,288.0 126.4,288.2C126.6,288.3 127.3,290.0 127.6,290.1C127.8,290.2 128.5,289.6 128.7,289.1C129.0,288.7 129.6,286.6 129.9,286.2C130.2,285.7 130.8,285.1 131.1,285.2C131.4,285.3 132.0,286.8 132.3,287.2C132.6,287.5 133.2,288.3 133.5,288.2C133.7,288.0 134.4,286.9 134.6,286.2C134.9,285.5 135.5,282.5 135.8,282.2C136.1,282.0 136.7,284.4 137.0,284.2C137.3,284.0 137.9,281.0 138.2,280.3C138.5,279.6 139.1,278.3 139.4,278.3C139.6,278.3 140.3,279.8 140.6,280.3C140.8,280.7 141.5,282.7 141.7,282.2C142.0,281.8 142.6,277.5 142.9,276.3C143.2,275.2 143.8,272.6 144.1,272.4C144.4,272.2 145.0,272.8 145.3,274.4C145.6,276.0 146.2,284.4 146.5,286.2C146.7,288.0 147.4,289.7 147.6,290.1C147.9,290.6 148.1,291.3 148.4,290.1C148.6,289.0 149.3,281.9 149.5,280.3C149.8,278.7 150.1,275.9 150.3,276.3C150.5,276.8 150.9,282.6 151.1,284.2C151.3,285.8 151.7,289.7 151.9,290.1C152.1,290.6 152.8,290.2 153.1,288.2C153.4,286.1 154.0,276.5 154.3,272.4C154.5,268.3 155.2,255.8 155.4,252.7C155.7,249.6 156.1,245.6 156.2,245.8C156.4,246.0 156.8,251.6 157.0,254.7C157.2,257.8 157.6,268.5 157.8,272.4C158.0,276.3 158.4,286.2 158.6,288.2C158.8,290.1 159.5,289.1 159.8,289.1C160.1,289.1 160.7,288.4 161.0,288.2C161.2,287.9 161.9,287.1 162.1,287.2C162.4,287.3 163.1,289.0 163.3,289.1C163.6,289.3 164.2,288.5 164.5,288.2C164.8,287.8 165.4,286.2 165.7,286.2C166.0,286.2 166.6,287.8 166.9,288.2C167.1,288.5 167.8,289.1 168.1,289.1C168.3,289.1 169.0,288.5 169.2,288.2C169.5,287.8 170.1,286.3 170.4,286.2C170.7,286.1 171.3,286.8 171.6,287.2C171.9,287.5 172.5,288.8 172.8,289.1C173.1,289.5 173.7,290.1 174.0,290.1C174.2,290.1 174.9,289.1 175.1,289.1C175.4,289.1 176.1,290.0 176.3,290.1C176.6,290.3 177.2,290.5 177.5,290.5C177.8,290.5 178.4,290.3 178.7,290.1C179.0,290.0 179.6,289.6 179.9,289.1C180.1,288.7 180.8,286.9 181.1,286.2C181.3,285.5 182.0,283.5 182.2,283.2C182.5,283.0 183.1,283.9 183.4,284.2C183.7,284.6 184.3,286.2 184.6,286.2C184.9,286.2 185.5,284.6 185.8,284.2C186.1,283.9 186.7,283.0 187.0,283.2C187.2,283.5 187.9,286.0 188.1,286.2C188.4,286.4 189.0,285.4 189.3,285.2C189.6,285.0 190.2,284.1 190.5,284.2C190.8,284.3 191.4,285.8 191.7,286.2C192.0,286.5 192.6,286.9 192.9,287.2C193.1,287.4 193.8,287.9 194.0,288.2C194.3,288.4 195.0,289.1 195.2,289.1C195.5,289.1 196.1,288.2 196.4,288.2C196.7,288.2 197.3,289.1 197.6,289.1C197.9,289.1 198.5,288.5 198.8,288.2C199.1,287.8 199.7,286.6 200.0,286.2C200.2,285.7 200.9,284.6 201.1,284.2C201.4,283.9 202.0,283.2 202.3,283.2C202.6,283.2 203.2,284.6 203.5,284.2C203.8,283.9 204.4,281.2 204.7,280.3C205.0,279.4 205.6,277.3 205.9,276.3C206.1,275.4 206.5,272.4 206.6,272.4C206.8,272.4 207.2,274.3 207.4,276.3C207.7,278.4 208.3,288.8 208.6,290.1C208.9,291.5 209.5,288.6 209.8,288.2C210.1,287.7 210.7,286.8 211.0,286.2C211.3,285.6 211.9,283.5 212.2,283.2C212.4,283.0 213.1,283.9 213.4,284.2C213.6,284.6 214.3,285.8 214.5,286.2C214.8,286.5 215.4,286.9 215.7,287.2C216.0,287.4 216.6,288.3 216.9,288.2C217.2,288.0 217.8,286.0 218.1,286.2C218.4,286.4 219.0,289.9 219.3,290.1C219.5,290.4 220.2,288.3 220.4,288.2C220.7,288.0 221.3,289.3 221.6,289.1C221.9,289.0 222.5,287.5 222.8,287.2C223.1,286.8 223.7,286.1 224.0,286.2C224.3,286.3 224.9,287.8 225.2,288.2C225.4,288.5 226.1,289.3 226.4,289.1C226.6,289.0 227.3,287.5 227.5,287.2C227.8,286.8 228.4,286.4 228.7,286.2C229.0,286.0 229.6,285.4 229.9,285.2C230.2,285.0 230.8,284.1 231.1,284.2C231.3,284.3 232.0,285.6 232.2,286.2C232.5,286.8 233.2,288.9 233.4,289.1C233.7,289.4 234.3,288.5 234.6,288.2C234.9,287.8 235.5,286.3 235.8,286.2C236.1,286.1 236.7,286.9 237.0,287.2C237.3,287.4 237.9,288.3 238.2,288.2C238.4,288.0 239.1,286.3 239.3,286.2C239.6,286.1 240.3,286.8 240.5,287.2C240.8,287.5 241.4,289.0 241.7,289.1C242.0,289.3 242.6,288.5 242.9,288.2C243.2,287.8 243.8,286.5 244.1,286.2C244.3,285.8 245.0,285.2 245.2,285.2C245.5,285.2 246.2,286.3 246.4,286.2C246.7,286.1 247.3,284.6 247.6,284.2C247.9,283.9 248.5,283.2 248.8,283.2C249.1,283.2 249.7,284.0 250.0,284.2C250.3,284.4 250.9,285.3 251.2,285.2C251.4,285.1 252.1,283.6 252.3,283.2C252.6,282.9 253.2,282.4 253.5,282.2C253.8,282.1 254.4,281.7 254.7,281.9C255.0,282.0 255.6,283.0 255.9,283.2C256.2,283.5 256.8,284.2 257.1,284.2C257.3,284.2 258.0,283.2 258.2,283.2C258.5,283.2 259.2,283.9 259.4,284.2C259.7,284.6 260.3,285.7 260.6,286.2C260.9,286.6 261.5,287.8 261.8,288.2C262.1,288.5 262.7,289.1 263.0,289.1C263.3,289.1 263.9,288.2 264.2,288.2C264.4,288.2 265.1,289.1 265.3,289.1C265.6,289.1 266.2,288.0 266.5,288.2C266.8,288.3 267.4,290.0 267.7,290.1C268.0,290.2 268.6,289.4 268.9,289.1C269.2,288.9 269.8,288.5 270.1,288.2C270.3,287.8 270.9,286.3 271.2,286.2C271.6,286.1 272.7,287.0 273.1,287.2C273.4,287.4 274.0,288.3 274.3,288.2C274.5,288.1 275.2,286.1 275.5,286.2C275.7,286.3 276.4,288.7 276.6,289.2C276.9,289.7 277.5,290.5 277.8,290.5C278.1,290.5 278.7,289.4 279.0,289.2C279.3,288.9 280.0,288.8 280.2,288.2C280.4,287.6 280.8,284.8 281.0,284.2C281.2,283.7 281.6,282.8 281.8,283.3C281.9,283.7 282.4,287.4 282.5,288.2C282.7,289.0 283.1,290.0 283.3,290.1C283.6,290.3 284.2,290.0 284.5,289.8C284.8,289.5 285.4,288.4 285.7,288.2C286.0,288.0 286.7,287.8 286.9,287.8" fill="none" stroke="#0000ff" stroke-width="1.0" stroke-linejoin="round"/>
<line x1="52.72" y1="171.5" x2="52.72" y2="298.3" stroke="#ff0000" stroke-width="1.0" stroke-dasharray="3,0.95"/>
<line x1="104.77" y1="171.5" x2="104.77" y2="298.3" stroke="#ff0000" stroke-width="1.0" stroke-dasharray="3,0.95"/>
<line x1="156.82" y1="171.5" x2="156.82" y2="298.3" stroke="#ff0000" stroke-width="1.0" stroke-dasharray="3,0.95"/>
<line x1="208.87" y1="171.5" x2="208.87" y2="298.3" stroke="#ff0000" stroke-width="1.0" stroke-dasharray="3,0.95"/>
</g>
<line x1="298.9" y1="171.5" x2="24.0" y2="171.5" stroke="#000" stroke-width="1.1"/>
<line x1="24.45" y1="170.95" x2="24.45" y2="299.1" stroke="#000" stroke-width="1.3"/>
<line x1="23.8" y1="298.45" x2="298.9" y2="298.45" stroke="#000" stroke-width="1.3"/>
<line x1="298.9" y1="171.0" x2="298.9" y2="298.8" stroke="#0000ff" stroke-width="1.7"/>
<line x1="36.50" y1="298.3" x2="36.50" y2="300.0" stroke="#000" stroke-width="0.8"/>
<text x="36.50" y="306.80" font-size="7.2" text-anchor="middle">8</text>
<line x1="72.34" y1="298.3" x2="72.34" y2="300.0" stroke="#000" stroke-width="0.8"/>
<text x="72.34" y="306.80" font-size="7.2" text-anchor="middle">16</text>
<line x1="108.17" y1="298.3" x2="108.17" y2="300.0" stroke="#000" stroke-width="0.8"/>
<text x="108.17" y="306.80" font-size="7.2" text-anchor="middle">24</text>
<line x1="144.01" y1="298.3" x2="144.01" y2="300.0" stroke="#000" stroke-width="0.8"/>
<text x="144.01" y="306.80" font-size="7.2" text-anchor="middle">32</text>
<line x1="179.84" y1="298.3" x2="179.84" y2="300.0" stroke="#000" stroke-width="0.8"/>
<text x="179.84" y="306.80" font-size="7.2" text-anchor="middle">40</text>
<line x1="215.68" y1="298.3" x2="215.68" y2="300.0" stroke="#000" stroke-width="0.8"/>
<text x="215.68" y="306.80" font-size="7.2" text-anchor="middle">48</text>
<line x1="251.51" y1="298.3" x2="251.51" y2="300.0" stroke="#000" stroke-width="0.8"/>
<text x="251.51" y="306.80" font-size="7.2" text-anchor="middle">56</text>
<line x1="287.35" y1="298.3" x2="287.35" y2="300.0" stroke="#000" stroke-width="0.8"/>
<text x="287.35" y="306.80" font-size="7.2" text-anchor="middle">64</text>
<text x="161.6" y="314.80" font-size="7.2" text-anchor="middle">Frequency</text>
<text x="161.6" y="168.80" font-size="8.6" text-anchor="middle">Imaginary part</text>
<line x1="22.599999999999998" y1="198.00" x2="24.2" y2="198.00" stroke="#000" stroke-width="0.8"/>
<text x="21.599999999999998" y="200.90" font-size="7.2" text-anchor="end">1</text>
<line x1="22.599999999999998" y1="235.00" x2="24.2" y2="235.00" stroke="#000" stroke-width="0.8"/>
<text x="21.599999999999998" y="237.90" font-size="7.2" text-anchor="end">0</text>
<line x1="22.599999999999998" y1="272.00" x2="24.2" y2="272.00" stroke="#000" stroke-width="0.8"/>
<text x="21.599999999999998" y="274.90" font-size="7.2" text-anchor="end">−1</text>
<text transform="translate(7.6,234.90) rotate(-90)" font-size="7.2" text-anchor="middle">Amplitude</text>
<line x1="298.9" y1="292.54" x2="300.5" y2="292.54" stroke="#0000ff" stroke-width="0.8"/>
<text x="301.7" y="295.54" font-size="7.2" fill="#0000ff" class="b">0.0</text>
<line x1="298.9" y1="269.48" x2="300.5" y2="269.48" stroke="#0000ff" stroke-width="0.8"/>
<text x="301.7" y="272.48" font-size="7.2" fill="#0000ff" class="b">0.2</text>
<line x1="298.9" y1="246.43" x2="300.5" y2="246.43" stroke="#0000ff" stroke-width="0.8"/>
<text x="301.7" y="249.43" font-size="7.2" fill="#0000ff" class="b">0.4</text>
<line x1="298.9" y1="223.37" x2="300.5" y2="223.37" stroke="#0000ff" stroke-width="0.8"/>
<text x="301.7" y="226.37" font-size="7.2" fill="#0000ff" class="b">0.6</text>
<line x1="298.9" y1="200.32" x2="300.5" y2="200.32" stroke="#0000ff" stroke-width="0.8"/>
<text x="301.7" y="203.32" font-size="7.2" fill="#0000ff" class="b">0.8</text>
<line x1="298.9" y1="177.26" x2="300.5" y2="177.26" stroke="#0000ff" stroke-width="0.8"/>
<text x="301.7" y="180.26" font-size="7.2" fill="#0000ff" class="b">1.0</text>
<text transform="translate(319.9,234.90) rotate(-90)" font-size="7.2" text-anchor="middle" fill="#0000ff" class="b">Weight</text>
</g>
<text x="488.7" y="656.6" font-size="8.9" text-anchor="middle">(d)</text>
</svg>
</body></html>
